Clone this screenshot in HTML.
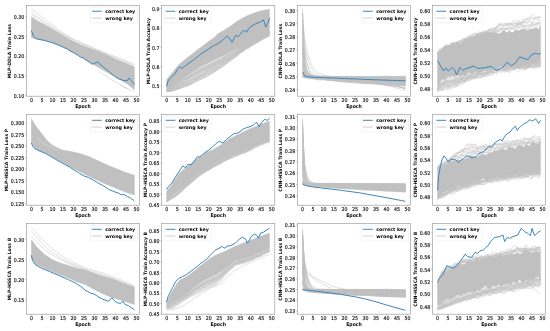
<!DOCTYPE html>
<html><head><meta charset="utf-8"><style>
html,body{margin:0;padding:0;background:#fff;overflow:hidden}
svg{display:block;filter:blur(0.3px)}
.t{font-family:"DejaVu Sans","Liberation Sans",sans-serif;font-size:4.75px;fill:#111;stroke:#111;stroke-width:0.12px}
.l{font-family:"DejaVu Sans","Liberation Sans",sans-serif;font-size:4.62px;font-weight:bold;fill:#000}
.lg{font-family:"DejaVu Sans","Liberation Sans",sans-serif;font-size:4.75px;font-weight:bold;fill:#000}
</style></head><body>
<svg width="550" height="331" viewBox="0 0 550 331">
<defs><clipPath id="c0"><rect x="26.35" y="5.45" width="113.20" height="90.65"/></clipPath><clipPath id="c1"><rect x="161.60" y="5.45" width="113.20" height="90.65"/></clipPath><clipPath id="c2"><rect x="297.40" y="5.45" width="113.20" height="90.65"/></clipPath><clipPath id="c3"><rect x="432.40" y="5.45" width="113.20" height="90.65"/></clipPath><clipPath id="c4"><rect x="26.35" y="114.50" width="113.20" height="90.65"/></clipPath><clipPath id="c5"><rect x="161.60" y="114.50" width="113.20" height="90.65"/></clipPath><clipPath id="c6"><rect x="297.40" y="114.50" width="113.20" height="90.65"/></clipPath><clipPath id="c7"><rect x="432.40" y="114.50" width="113.20" height="90.65"/></clipPath><clipPath id="c8"><rect x="26.35" y="223.50" width="113.20" height="90.65"/></clipPath><clipPath id="c9"><rect x="161.60" y="223.50" width="113.20" height="90.65"/></clipPath><clipPath id="c10"><rect x="297.40" y="223.50" width="113.20" height="90.65"/></clipPath><clipPath id="c11"><rect x="432.40" y="223.50" width="113.20" height="90.65"/></clipPath></defs>
<rect width="550" height="331" fill="#fff"/>
<g clip-path="url(#c0)">
<path d="M31.4 16.8 37.4 20.7 43.7 23.9 51.6 28.6 59.4 33.3 70 39.5 80.3 44.2 90.5 48.3 100 51.8 110.7 56.4 116.2 59.2 126.4 63.3 134.4 66.8 134.4 89.5 126.4 83.5 118.6 79 110.7 74.5 103 70 95 65.5 90 63 86 60.3 80 56.3 73 52.5 67.3 49.3 59.4 45.4 51.6 42.3 44.1 40.6 37.4 39.4 34 38.5 31.4 37.5Z" fill="#c0c0c0" stroke="#c0c0c0" stroke-width="0.4"/>
<path d="M31.5 29.8 33.6 30.9 35.7 31.8 37.8 32.8 39.9 33.3 42 34.3 44.1 35.1 46.2 35.5 48.3 36.5 50.4 37.2 52.5 38.3 54.6 39 56.7 40.1 58.8 41.3 60.9 42.6 63 43.7 65.1 44.3 67.2 45.4 69.3 46.8 71.4 47.5 73.5 48.9 75.6 50.2 77.7 51.6 79.8 52.6 81.9 53.6 84 54.9 86.1 56.2 88.2 58 90.3 58.8 92.4 59.9 94.5 61 96.6 62 98.7 63.3 100.8 64.2 102.9 65.7 105 66.9 107.1 68.4 109.2 69.6 111.3 70.7 113.4 72.2 115.5 73.2 117.6 74.7 119.7 75.8 121.8 77.1 123.9 78.1 126 79.7 128.1 80.8 130.2 82.5 132.3 84.5 134.4 85.9 M31.5 27.6 33.6 28.7 35.7 29.6 37.8 30.8 39.9 32.1 42 32.4 44.1 33.2 46.2 34.5 48.3 35.5 50.4 35.8 52.5 37.1 54.6 38 56.7 38.9 58.8 40.4 60.9 41.5 63 42.7 65.1 43.8 67.2 45.2 69.3 46.2 71.4 47.4 73.5 48.3 75.6 49.5 77.7 51 79.8 51.8 81.9 53.2 84 54.5 86.1 55.7 88.2 57.1 90.3 58.6 92.4 59.4 94.5 60.6 96.6 61.9 98.7 63.4 100.8 64.5 102.9 65.6 105 66.6 107.1 67.8 109.2 69.5 111.3 70.8 113.4 71.8 115.5 73.2 117.6 74.5 119.7 75.9 121.8 77.1 123.9 78.2 126 79.9 128.1 80.9 130.2 82.9 132.3 84.4 134.4 86.2 M31.5 36.9 33.6 37.3 35.7 38 37.8 38.4 39.9 38.8 42 39.4 44.1 39.6 46.2 39.8 48.3 40.1 50.4 40.9 52.5 41.3 54.6 42.5 56.7 42.8 58.8 43.7 60.9 44.7 63 45.4 65.1 46.9 67.2 47.9 69.3 48.7 71.4 50.1 73.5 51.1 75.6 51.5 77.7 53.2 79.8 54.1 81.9 55.5 84 56.5 86.1 58 88.2 59.4 90.3 61.1 92.4 61.8 94.5 62.8 96.6 64.2 98.7 64.8 100.8 65.9 102.9 66.7 105 68.6 107.1 69.6 109.2 70.7 111.3 71.8 113.4 72.9 115.5 74.1 117.6 75 119.7 76 121.8 77.1 123.9 78.2 126 79.1 128.1 80.5 130.2 81.8 132.3 83.2 134.4 85 M31.5 28.1 33.6 29 35.7 30 37.8 31.1 39.9 31.5 42 32 44.1 32.3 46.2 33.5 48.3 33.8 50.4 34.6 52.5 35.9 54.6 37 56.7 37.7 58.8 38.5 60.9 39.9 63 40.9 65.1 42.3 67.2 43.7 69.3 44.5 71.4 45.3 73.5 46.2 75.6 47.6 77.7 48.6 79.8 49.4 81.9 50.6 84 51.5 86.1 52.9 88.2 53.8 90.3 55 92.4 55.5 94.5 56.6 96.6 57.5 98.7 58.3 100.8 59.3 102.9 60.2 105 61.2 107.1 62.6 109.2 63.2 111.3 64.3 113.4 65.7 115.5 66.2 117.6 67.3 119.7 68.4 121.8 69.4 123.9 70.2 126 71.3 128.1 72.3 130.2 73.1 132.3 74.3 134.4 75.7 M31.5 31.4 33.6 32.1 35.7 33 37.8 34.1 39.9 35 42 35 44.1 35.9 46.2 36.7 48.3 37.5 50.4 38.5 52.5 39.1 54.6 40 56.7 41.2 58.8 42 60.9 43.2 63 44.1 65.1 45.2 67.2 46.2 69.3 48.1 71.4 48.8 73.5 50 75.6 51.1 77.7 52.2 79.8 53.3 81.9 54.9 84 55.5 86.1 56.7 88.2 58.2 90.3 59.3 92.4 60.8 94.5 61.8 96.6 62.5 98.7 63.6 100.8 64.9 102.9 66.5 105 66.8 107.1 68.7 109.2 69.6 111.3 71.2 113.4 72 115.5 73.4 117.6 74.4 119.7 75.7 121.8 77.3 123.9 78.4 126 79.4 128.1 80.8 130.2 82 132.3 83.9 134.4 85.3 M31.5 30.1 33.6 30.9 35.7 31.6 37.8 32 39.9 33 42 33.7 44.1 34.1 46.2 34.6 48.3 34.9 50.4 36.1 52.5 36.6 54.6 37 56.7 38.6 58.8 39.1 60.9 40.2 63 41.3 65.1 42.7 67.2 43.4 69.3 44.6 71.4 45.9 73.5 46.8 75.6 47.4 77.7 48.3 79.8 49 81.9 50 84 51.2 86.1 52.2 88.2 53 90.3 54.1 92.4 54.5 94.5 55.4 96.6 56.4 98.7 57.1 100.8 58 102.9 58.7 105 59.4 107.1 60.4 109.2 61 111.3 61.8 113.4 63.2 115.5 64 117.6 64.9 119.7 65.4 121.8 66.3 123.9 67.1 126 67.9 128.1 68.5 130.2 69.9 132.3 71 134.4 71.8 M31.5 31.9 33.6 32.4 35.7 32.6 37.8 33.2 39.9 33.9 42 34.1 44.1 34.5 46.2 35.3 48.3 36 50.4 36.4 52.5 36.9 54.6 37.8 56.7 39.2 58.8 39.9 60.9 41 63 42 65.1 43.1 67.2 44 69.3 45.2 71.4 46.1 73.5 47 75.6 47.8 77.7 49.1 79.8 49.8 81.9 50.7 84 51.6 86.1 52.5 88.2 53.6 90.3 53.9 92.4 54.6 94.5 55.5 96.6 56.9 98.7 57.3 100.8 57.8 102.9 58.8 105 59.9 107.1 60.3 109.2 61 111.3 62.1 113.4 62.8 115.5 63.7 117.6 64.3 119.7 65.5 121.8 66.1 123.9 66.5 126 67.2 128.1 67.5 130.2 68.8 132.3 69.3 134.4 70.3 M31.5 23.7 33.6 24.8 35.7 26.1 37.8 26.6 39.9 27.5 42 28.2 44.1 29.2 46.2 29.6 48.3 30.8 50.4 31.9 52.5 33.3 54.6 34.4 56.7 35.5 58.8 36 60.9 37.5 63 38.4 65.1 39.4 67.2 40.7 69.3 41.6 71.4 42.3 73.5 43.7 75.6 44.4 77.7 45.5 79.8 46.7 81.9 47.6 84 48.8 86.1 49.3 88.2 49.9 90.3 51.2 92.4 52.1 94.5 52.9 96.6 54.1 98.7 54.7 100.8 55.4 102.9 56.8 105 57.6 107.1 58.6 109.2 59.5 111.3 60.5 113.4 61.4 115.5 62.6 117.6 63.4 119.7 64.4 121.8 65.2 123.9 65.7 126 66.9 128.1 67.9 130.2 68.9 132.3 69.5 134.4 71.2 M31.5 29.5 33.6 30.6 35.7 31.4 37.8 32 39.9 32.8 42 33 44.1 33.7 46.2 33.9 48.3 35 50.4 36 52.5 36.7 54.6 37.4 56.7 38.3 58.8 39.5 60.9 40 63 41.1 65.1 42.2 67.2 43.3 69.3 44 71.4 45.1 73.5 45.9 75.6 46.8 77.7 47.6 79.8 48.3 81.9 49.5 84 50.6 86.1 51 88.2 52.1 90.3 53.2 92.4 53.7 94.5 54.7 96.6 55.1 98.7 56.4 100.8 57.4 102.9 58.1 105 58.4 107.1 59.5 109.2 60.3 111.3 61.2 113.4 62.4 115.5 62.8 117.6 64.1 119.7 64.6 121.8 65.8 123.9 66.4 126 66.9 128.1 68 130.2 68.9 132.3 69.7 134.4 70.6 M31.5 17.9 33.6 19.9 35.7 20.9 37.8 23.1 39.9 24.2 42 25.8 44.1 26.9 46.2 28.1 48.3 29.9 50.4 30.9 52.5 32.4 54.6 33.6 56.7 35.2 58.8 36.8 60.9 38.3 63 39.4 65.1 41 67.2 42.2 69.3 43.7 71.4 45.1 73.5 46.5 75.6 47.5 77.7 48.8 79.8 50.1 81.9 51.5 84 52.7 86.1 54.4 88.2 55.6 90.3 57.2 92.4 58.1 94.5 59.6 96.6 61 98.7 62.2 100.8 64.1 102.9 65.3 105 67.1 107.1 68.5 109.2 69.6 111.3 71.2 113.4 72.9 115.5 74.5 117.6 76.1 119.7 77.4 121.8 78.6 123.9 80.5 126 81.7 128.1 84.1 130.2 85.8 132.3 87.8 134.4 90" fill="none" stroke="#c2c2c2" stroke-width="0.5"/>
<path d="M31.4 8.9 43.7 18.4 59.4 30.2 73 38.8 95 48.5 115 56.5 134.4 64.5" fill="none" stroke="#c0c0c0" stroke-width="0.5"/>
<path d="M31.4 12.5 43.7 21 59.4 31.8 73 39.6 95 49.2 134.4 65.5" fill="none" stroke="#c0c0c0" stroke-width="0.5"/>
<path d="M31.4 14.5 43.7 22.5 59.4 32.5 73 40" fill="none" stroke="#c0c0c0" stroke-width="0.5"/>
<path d="M99 71.5 101.3 73.3 112 80 123.3 86.7 128 88.5" fill="none" stroke="#c0c0c0" stroke-width="0.5"/>
<path d="M120 85 124.9 87.5 134.4 91.6" fill="none" stroke="#c0c0c0" stroke-width="0.5"/>
<path d="M31.4 30.4 33.5 36.3 35.6 38.3 37.4 39 44.1 40.3 53.2 43 62.2 46.7 67.3 49 70 50.8 74.1 52.9 78.2 55.5 80.3 57 83.3 58 86.4 60.1 89.5 62.1 92.1 64.2 94.6 63.2 97.7 61.8 99.8 64.2 102.9 66.6 105 68.4 109.2 71.7 113.9 75.7 118.6 78.8 123.3 80.4 127.2 80.8 128.8 78 131.2 80.4 134.3 84.5" fill="none" stroke="#3b87bd" stroke-width="1.0" stroke-linejoin="round"/>
</g>
<rect x="26.4" y="5.5" width="113.2" height="90.7" fill="none" stroke="#999" stroke-width="0.65"/>
<text transform="translate(31.50 102.25) scale(1 1.1)" text-anchor="middle" class="t">0</text>
<text transform="translate(42.00 102.25) scale(1 1.1)" text-anchor="middle" class="t">5</text>
<text transform="translate(52.50 102.25) scale(1 1.1)" text-anchor="middle" class="t">10</text>
<text transform="translate(63.00 102.25) scale(1 1.1)" text-anchor="middle" class="t">15</text>
<text transform="translate(73.50 102.25) scale(1 1.1)" text-anchor="middle" class="t">20</text>
<text transform="translate(84.00 102.25) scale(1 1.1)" text-anchor="middle" class="t">25</text>
<text transform="translate(94.50 102.25) scale(1 1.1)" text-anchor="middle" class="t">30</text>
<text transform="translate(105.00 102.25) scale(1 1.1)" text-anchor="middle" class="t">35</text>
<text transform="translate(115.50 102.25) scale(1 1.1)" text-anchor="middle" class="t">40</text>
<text transform="translate(126.00 102.25) scale(1 1.1)" text-anchor="middle" class="t">45</text>
<text transform="translate(136.50 102.25) scale(1 1.1)" text-anchor="middle" class="t">50</text>
<text transform="translate(24.25 97.60) scale(1 1.1)" text-anchor="end" class="t">0.10</text>
<text transform="translate(24.25 78.00) scale(1 1.1)" text-anchor="end" class="t">0.15</text>
<text transform="translate(24.25 58.40) scale(1 1.1)" text-anchor="end" class="t">0.20</text>
<text transform="translate(24.25 38.80) scale(1 1.1)" text-anchor="end" class="t">0.25</text>
<text transform="translate(24.25 19.20) scale(1 1.1)" text-anchor="end" class="t">0.30</text>
<path d="M31.50 96.10v1.1M42.00 96.10v1.1M52.50 96.10v1.1M63.00 96.10v1.1M73.50 96.10v1.1M84.00 96.10v1.1M94.50 96.10v1.1M105.00 96.10v1.1M115.50 96.10v1.1M126.00 96.10v1.1M136.50 96.10v1.1M26.35 95.40h-1.1M26.35 75.80h-1.1M26.35 56.20h-1.1M26.35 36.60h-1.1M26.35 17.00h-1.1" stroke="#777" stroke-width="0.5" fill="none"/>
<text transform="translate(82.95 107.65) scale(1 1.1)" text-anchor="middle" class="l">Epoch</text>
<text transform="translate(11.30 51.18) rotate(-90)" text-anchor="middle" class="l">MLP-DDLA Train Loss</text>
<rect x="90.55" y="7.25" width="47.00" height="15.6" rx="1" fill="#fff" fill-opacity="0.8" stroke="#e0e0e0" stroke-width="0.4"/>
<path d="M91.95 11.25h9.8" stroke="#3b87bd" stroke-width="1.0"/>
<path d="M91.95 18.05h9.8" stroke="#c8c8c8" stroke-width="0.85"/>
<text x="105.15" y="12.95" class="lg">correct key</text>
<text x="105.15" y="19.75" class="lg">wrong key</text>
<g clip-path="url(#c1)">
<path d="M166.6 90.3 172.3 86.6 179.8 81 189.1 74.4 200 67 215.1 59.6 230.2 52.1 250 44.5 262 37 269.5 33 269.5 35 260 40 250 46 240 53.3 229.8 61.6 221 68 213.2 73 205 77.5 196.6 81.5 189.1 85.5 179.8 88.5 172.3 91 166.6 91.5Z" fill="#e2e2e2"/>
<path d="M166.7 79.5 179.1 64.2 188.2 56.9 197.2 50 204.5 44.5 209.1 40.9 213.6 38.1 218.1 33.6 222.7 30.9 227.2 28.2 230 26.5 236 22 242.1 18.3 248.1 15.3 254.2 12.9 260.2 11 266.3 9.8 269.5 9.2 269.5 33 262 37 250 44.5 230.2 52.1 215.1 59.6 200 67 189.1 74.4 179.8 81 172.3 86.6 166.6 90.3Z" fill="#c0c0c0" stroke="#c0c0c0" stroke-width="0.4"/>
<path d="M166.7 90.5 168.8 89.2 170.9 87.3 173 85.8 175.1 84.8 177.2 82.9 179.3 82.4 181.4 79.7 183.5 78.8 185.6 77.7 187.7 76.4 189.8 75.2 191.9 74.1 194 72.6 196.1 71.7 198.2 69.2 200.3 68.7 202.4 67.4 204.5 66.7 206.6 65.7 208.7 64.6 210.8 63.4 212.9 62.7 215 61.6 217.1 60.2 219.3 59.8 221.4 58.8 223.5 56.4 225.6 55.8 227.7 55.6 229.8 54.1 231.9 52.8 234 51.6 236.1 50.5 238.2 49.7 240.3 48.5 242.4 47.9 244.5 46.7 246.6 45.8 248.7 44.6 250.8 43.8 252.9 42 255 40.8 257.1 39.6 259.2 38.2 261.3 36.9 263.4 35.7 265.5 34.8 267.6 33.7 269.7 32.5 M166.7 90.2 168.8 89.4 170.9 89.1 173 86.7 175.1 85.8 177.2 84.7 179.3 83 181.4 81.7 183.5 80.5 185.6 78.9 187.7 77.5 189.8 75.4 191.9 74.5 194 73 196.1 71.8 198.2 70.4 200.3 69.1 202.4 68.4 204.5 66.9 206.6 66.2 208.7 65.3 210.8 64.5 212.9 63.6 215 62.1 217.1 60.9 219.3 60.2 221.4 58.3 223.5 57.5 225.6 56.1 227.7 54.8 229.8 53.2 231.9 52.5 234 52 236.1 51.2 238.2 50.3 240.3 49 242.4 48.1 244.5 47.1 246.6 46.5 248.7 45.3 250.8 44.3 252.9 43.2 255 41.4 257.1 39.7 259.2 38.4 261.3 36.9 263.4 35.8 265.5 35.5 267.6 33.9 269.7 32.4 M166.7 91.1 168.8 90.3 170.9 89.6 173 88.4 175.1 87 177.2 86 179.3 85.2 181.4 84.2 183.5 83.4 185.6 81.9 187.7 80.7 189.8 79.5 191.9 77.8 194 75.8 196.1 74.6 198.2 73.1 200.3 72.5 202.4 70.8 204.5 70.4 206.6 69 208.7 68.3 210.8 67 212.9 65.5 215 63.9 217.1 62.7 219.3 61.4 221.4 59.8 223.5 58.7 225.6 58.1 227.7 55.8 229.8 55 231.9 53.7 234 52.9 236.1 51.9 238.2 50.6 240.3 49.9 242.4 48.1 244.5 48 246.6 46.5 248.7 45.8 250.8 44.6 252.9 42.6 255 41.7 257.1 40.7 259.2 39.8 261.3 38.5 263.4 37.2 265.5 35.7 267.6 35.4 269.7 34.4 M166.7 90.1 168.8 89.3 170.9 88.8 173 86.5 175.1 86.8 177.2 84.4 179.3 83.7 181.4 82.7 183.5 81.3 185.6 79.9 187.7 78.5 189.8 78 191.9 76.5 194 74.8 196.1 75.2 198.2 73.3 200.3 72.6 202.4 70.9 204.5 70.7 206.6 69.7 208.7 68.7 210.8 67.1 212.9 65.7 215 64.9 217.1 63.3 219.3 62.4 221.4 62.2 223.5 60.6 225.6 59.6 227.7 58.5 229.8 57.9 231.9 56.5 234 55 236.1 54.1 238.2 52.1 240.3 50.7 242.4 49.9 244.5 48.1 246.6 46.9 248.7 45.2 250.8 44.4 252.9 43.7 255 41.6 257.1 40.7 259.2 39.2 261.3 37.8 263.4 36.6 265.5 36.4 267.6 35.5 269.7 33.7 M166.7 91.5 168.8 91.2 170.9 90.9 173 90.8 175.1 90 177.2 88.8 179.3 88 181.4 87.4 183.5 86.4 185.6 85.6 187.7 85.2 189.8 83.5 191.9 81.9 194 80.5 196.1 79 198.2 77.9 200.3 76.5 202.4 75.5 204.5 74.2 206.6 73.5 208.7 72.1 210.8 71.1 212.9 69.5 215 69.2 217.1 67.3 219.3 66.5 221.4 64.7 223.5 63.1 225.6 61.5 227.7 60.5 229.8 59.5 231.9 56.8 234 56.1 236.1 54.8 238.2 52.8 240.3 51.3 242.4 50.3 244.5 48.4 246.6 47.6 248.7 45.9 250.8 45 252.9 43.6 255 42.5 257.1 41.1 259.2 39.7 261.3 38.1 263.4 37.8 265.5 36.5 267.6 35.3 269.7 33.7 M166.7 90.9 168.8 90.4 170.9 90.8 173 90.2 175.1 89.3 177.2 88.8 179.3 87.7 181.4 86.6 183.5 86.5 185.6 84.9 187.7 83.6 189.8 83 191.9 81.6 194 79.8 196.1 78.8 198.2 77.3 200.3 75.7 202.4 75 204.5 73.9 206.6 72.4 208.7 70.9 210.8 70 212.9 68.5 215 67.2 217.1 65.3 219.3 64.5 221.4 62.7 223.5 61.4 225.6 60.3 227.7 58.5 229.8 57.1 231.9 56.4 234 54.6 236.1 53.2 238.2 52 240.3 51.1 242.4 49.1 244.5 48.3 246.6 47.1 248.7 45.9 250.8 44.7 252.9 43.7 255 42.7 257.1 40.9 259.2 39.8 261.3 38.7 263.4 37.3 265.5 36.4 267.6 35.6 269.7 34.2 M166.7 90.1 168.8 89.3 170.9 88.7 173 87.8 175.1 86.4 177.2 85.3 179.3 83.5 181.4 82.9 183.5 81.1 185.6 80 187.7 78.7 189.8 77 191.9 75.8 194 74.5 196.1 73.3 198.2 72 200.3 70.6 202.4 69.1 204.5 68.1 206.6 67.1 208.7 66.4 210.8 64.6 212.9 64.5 215 62.9 217.1 61.4 219.3 60.5 221.4 59.5 223.5 58 225.6 56.7 227.7 55.3 229.8 54.4 231.9 53.2 234 51.8 236.1 51.2 238.2 49.8 240.3 48.7 242.4 47.3 244.5 46.6 246.6 46 248.7 44.4 250.8 43.9 252.9 42.4 255 41 257.1 39.1 259.2 38.3 261.3 37.4 263.4 35.9 265.5 34.9 267.6 33.1 269.7 32.8 M166.7 91 168.8 90.6 170.9 90.8 173 89.8 175.1 88.6 177.2 88.6 179.3 87.5 181.4 86.7 183.5 85.5 185.6 84.7 187.7 83.7 189.8 83.2 191.9 82.4 194 80.3 196.1 79.7 198.2 78.2 200.3 77.2 202.4 76.8 204.5 75.6 206.6 73.9 208.7 73.7 210.8 71.6 212.9 70.6 215 69.3 217.1 68.3 219.3 66.7 221.4 65.8 223.5 63.7 225.6 62.9 227.7 61.1 229.8 59.8 231.9 58.8 234 56.8 236.1 55.4 238.2 54.5 240.3 52.3 242.4 50.7 244.5 49.8 246.6 47.8 248.7 47.1 250.8 45.7 252.9 43.9 255 42.6 257.1 41.7 259.2 40.5 261.3 38.8 263.4 38.1 265.5 36.3 267.6 35.8 269.7 34.9 M166.7 89.4 168.8 89.1 170.9 87.8 173 86.2 175.1 84.4 177.2 83.7 179.3 82 181.4 80.9 183.5 79.8 185.6 78.1 187.7 77.5 189.8 76.2 191.9 75.1 194 73.7 196.1 72.7 198.2 72 200.3 70.8 202.4 69.9 204.5 69.2 206.6 68.6 208.7 67.5 210.8 66.8 212.9 66.1 215 65 217.1 64.2 219.3 63.1 221.4 62.9 223.5 61.8 225.6 60.4 227.7 59.2 229.8 58.7 231.9 57 234 55.9 236.1 54.8 238.2 53.4 240.3 52.4 242.4 50.8 244.5 50.5 246.6 48.4 248.7 47.7 250.8 45.8 252.9 45.5 255 43.7 257.1 42.7 259.2 41.7 261.3 40.7 263.4 38.9 265.5 37.9 267.6 36.5 269.7 36 M166.7 91.3 168.8 90.1 170.9 89.6 173 88.6 175.1 88.2 177.2 87 179.3 86.8 181.4 85.1 183.5 83.6 185.6 83 187.7 82.3 189.8 80.8 191.9 79.9 194 78.9 196.1 77.9 198.2 76.7 200.3 75.5 202.4 74.8 204.5 73.6 206.6 72.6 208.7 71.3 210.8 70.5 212.9 70 215 68 217.1 67.2 219.3 66.4 221.4 65 223.5 63.7 225.6 61.8 227.7 61.1 229.8 59.6 231.9 57.7 234 55.6 236.1 54.1 238.2 53.1 240.3 51.9 242.4 50 244.5 48.9 246.6 47 248.7 45.9 250.8 44.5 252.9 43.4 255 41.5 257.1 41.1 259.2 40.1 261.3 38 263.4 36.9 265.5 36.4 267.6 35 269.7 33.7 M166.7 90.4 168.8 89 170.9 88.8 173 86.6 175.1 84.8 177.2 83.9 179.3 82.5 181.4 81.9 183.5 79.9 185.6 78.7 187.7 77.9 189.8 77.1 191.9 75.5 194 74.6 196.1 73.3 198.2 72.1 200.3 71.1 202.4 70.4 204.5 69.1 206.6 68.8 208.7 66.9 210.8 66.7 212.9 65.8 215 64.7 217.1 63.4 219.3 62.5 221.4 61.6 223.5 60.5 225.6 59.1 227.7 58.2 229.8 56.4 231.9 55.5 234 53.8 236.1 53.3 238.2 51.8 240.3 50.3 242.4 49.9 244.5 48.4 246.6 46.4 248.7 46.2 250.8 44.5 252.9 43.8 255 43.1 257.1 41.1 259.2 39.9 261.3 38.6 263.4 37.8 265.5 36.8 267.6 36.2 269.7 34.4 M166.7 91.3 168.8 91.4 170.9 91.6 173 90.4 175.1 89.7 177.2 88.7 179.3 88.5 181.4 87.3 183.5 86.4 185.6 85.6 187.7 84.9 189.8 84.7 191.9 84.2 194 82.2 196.1 81.7 198.2 80.5 200.3 79.2 202.4 78.6 204.5 77.4 206.6 76.3 208.7 75.9 210.8 73.6 212.9 73 215 71.4 217.1 69.8 219.3 68.6 221.4 67.5 223.5 65.6 225.6 64.4 227.7 63 229.8 60.7 231.9 60 234 58.5 236.1 56.3 238.2 54.6 240.3 52.3 242.4 51.1 244.5 49.3 246.6 47.8 248.7 46.7 250.8 44.8 252.9 44 255 42.2 257.1 41.5 259.2 40.1 261.3 38.5 263.4 37.2 265.5 36.9 267.6 34.8 269.7 33.8 M166.7 90.4 168.8 89.6 170.9 88.1 173 86.4 175.1 85.9 177.2 84.3 179.3 82.6 181.4 81.8 183.5 80.1 185.6 79.5 187.7 77.9 189.8 76.6 191.9 75.3 194 74.1 196.1 73.1 198.2 71.7 200.3 70.5 202.4 69.4 204.5 67.4 206.6 67.4 208.7 65.8 210.8 65.6 212.9 65.2 215 64 217.1 62.9 219.3 61.9 221.4 60.8 223.5 59.6 225.6 58.4 227.7 57 229.8 56.5 231.9 55.1 234 54.2 236.1 52.8 238.2 51.7 240.3 50.7 242.4 49.8 244.5 48.9 246.6 47.6 248.7 46.2 250.8 45 252.9 44.4 255 42.6 257.1 41.4 259.2 40.8 261.3 39.3 263.4 37.9 265.5 36.5 267.6 36.2 269.7 34.6 M166.7 91 168.8 89.6 170.9 89.3 173 88.7 175.1 87.5 177.2 86.2 179.3 85.5 181.4 84.1 183.5 83.1 185.6 81.9 187.7 81.2 189.8 80.1 191.9 79.1 194 77.9 196.1 76.4 198.2 74.5 200.3 73 202.4 72.3 204.5 71.4 206.6 70.2 208.7 68.9 210.8 68.2 212.9 67.7 215 65.7 217.1 64.5 219.3 63.2 221.4 60.9 223.5 60.6 225.6 59.1 227.7 58.5 229.8 56.5 231.9 55.1 234 53.9 236.1 52.8 238.2 51.3 240.3 50.2 242.4 48.6 244.5 47.9 246.6 47.1 248.7 46.3 250.8 44.7 252.9 43.2 255 42.3 257.1 40.9 259.2 39.8 261.3 38.3 263.4 36.6 265.5 35.7 267.6 34.5 269.7 33.5 M166.7 91.2 168.8 90.1 170.9 88.9 173 88.4 175.1 87.2 177.2 87 179.3 85.6 181.4 84.1 183.5 83.9 185.6 82.9 187.7 82.9 189.8 80.8 191.9 79.4 194 79 196.1 77.8 198.2 76.7 200.3 75.1 202.4 74.8 204.5 74.1 206.6 71.9 208.7 71.7 210.8 70 212.9 69.6 215 68 217.1 66.5 219.3 65.8 221.4 64.1 223.5 62.3 225.6 61.3 227.7 59.6 229.8 57.7 231.9 57.5 234 55.4 236.1 53.8 238.2 52.6 240.3 50.7 242.4 49.4 244.5 48.4 246.6 47.1 248.7 45.9 250.8 44.9 252.9 43.2 255 42.4 257.1 41.3 259.2 39.6 261.3 38.9 263.4 37.4 265.5 37.1 267.6 35.8 269.7 34.4 M166.7 91.2 168.8 91 170.9 90.6 173 89.4 175.1 88.9 177.2 88.2 179.3 87.5 181.4 86.3 183.5 85.3 185.6 85.1 187.7 84.3 189.8 83 191.9 81.4 194 80.5 196.1 79.4 198.2 78.7 200.3 77 202.4 76.5 204.5 75.4 206.6 74.1 208.7 73.5 210.8 72.3 212.9 71.3 215 70.3 217.1 68.3 219.3 67.6 221.4 66.4 223.5 64.9 225.6 63.3 227.7 61.3 229.8 59.9 231.9 59 234 57.7 236.1 56.9 238.2 54.9 240.3 53.1 242.4 52.1 244.5 50.2 246.6 48.7 248.7 48.6 250.8 46.5 252.9 45.4 255 44 257.1 43 259.2 41.3 261.3 40.4 263.4 38.4 265.5 37 267.6 37 269.7 35.8 M166.7 90.2 168.8 89.5 170.9 88.4 173 87.1 175.1 86.3 177.2 84.4 179.3 83.6 181.4 82.1 183.5 80.9 185.6 79.9 187.7 78.3 189.8 78.3 191.9 76.2 194 75.7 196.1 73.6 198.2 73 200.3 71.4 202.4 70.2 204.5 69.8 206.6 68.8 208.7 67.2 210.8 67 212.9 65.4 215 64.7 217.1 64.1 219.3 63.2 221.4 61.5 223.5 61.2 225.6 59.7 227.7 58.1 229.8 56.7 231.9 55.2 234 54.1 236.1 53.5 238.2 52 240.3 50.4 242.4 49.3 244.5 48.9 246.6 47.2 248.7 46.2 250.8 45.7 252.9 44.1 255 42.8 257.1 41.1 259.2 39.9 261.3 38.9 263.4 37.9 265.5 36.8 267.6 35.9 269.7 34.7 M166.7 90.4 168.8 89.4 170.9 87.8 173 86.5 175.1 85.6 177.2 84.4 179.3 82.1 181.4 80.3 183.5 79.3 185.6 78.2 187.7 77.1 189.8 76.1 191.9 74.5 194 72.9 196.1 71.8 198.2 70.4 200.3 69.3 202.4 68.2 204.5 68.4 206.6 67 208.7 65.3 210.8 64.4 212.9 63.6 215 62.1 217.1 61.2 219.3 60.1 221.4 59.5 223.5 57.9 225.6 56.8 227.7 55.3 229.8 54.1 231.9 53.4 234 52.4 236.1 51.9 238.2 50.2 240.3 49.8 242.4 48.6 244.5 47.8 246.6 46 248.7 45.2 250.8 44.7 252.9 43.4 255 41.7 257.1 40.7 259.2 39 261.3 37.6 263.4 36.5 265.5 36 267.6 34.8 269.7 33.5 M166.7 90.4 168.8 89.7 170.9 89.4 173 87.7 175.1 86.7 177.2 85.8 179.3 84.1 181.4 83.6 183.5 82.2 185.6 80.2 187.7 79.3 189.8 77.5 191.9 76.2 194 74.8 196.1 73.2 198.2 72.3 200.3 70.3 202.4 69.7 204.5 68.3 206.6 67.5 208.7 66.1 210.8 65 212.9 63.8 215 63 217.1 62 219.3 61.2 221.4 59.7 223.5 58.1 225.6 56.7 227.7 55.7 229.8 54.4 231.9 53.7 234 52.5 236.1 51 238.2 49.8 240.3 49.4 242.4 48.3 244.5 46.9 246.6 46.3 248.7 45 250.8 43.8 252.9 42.7 255 40.6 257.1 40.3 259.2 38.6 261.3 37.6 263.4 36.3 265.5 35.6 267.6 34.1 269.7 33.2 M166.7 91.1 168.8 91 170.9 91.1 173 90.6 175.1 89.9 177.2 89.5 179.3 88.5 181.4 87.9 183.5 86.4 185.6 85.7 187.7 85.7 189.8 83.9 191.9 83.1 194 82 196.1 80.8 198.2 79.7 200.3 79 202.4 76.6 204.5 76.7 206.6 76 208.7 73.9 210.8 72.7 212.9 71.7 215 70.4 217.1 67.9 219.3 66.7 221.4 65.2 223.5 64 225.6 62.3 227.7 61 229.8 59.3 231.9 57.6 234 55.8 236.1 54.2 238.2 52.6 240.3 51.1 242.4 49.4 244.5 48.8 246.6 46.8 248.7 45 250.8 44.7 252.9 42.7 255 41.6 257.1 40.2 259.2 39.1 261.3 37.9 263.4 36.4 265.5 35.5 267.6 34.9 269.7 32.5 M166.7 90.9 168.8 89.7 170.9 89.3 173 89.3 175.1 88.3 177.2 87.2 179.3 86 181.4 85.2 183.5 84.2 185.6 83.3 187.7 82.2 189.8 82 191.9 80.2 194 78.8 196.1 77.4 198.2 76.3 200.3 75.5 202.4 74.5 204.5 73.1 206.6 72 208.7 70.7 210.8 69.3 212.9 68.9 215 67.5 217.1 66.9 219.3 65 221.4 63.9 223.5 63.2 225.6 61.7 227.7 60 229.8 58.8 231.9 57.4 234 56.1 236.1 54.7 238.2 53.9 240.3 52.4 242.4 51.2 244.5 49.9 246.6 48.7 248.7 47.4 250.8 46.3 252.9 44.7 255 43.6 257.1 42.1 259.2 40.3 261.3 39.3 263.4 38.8 265.5 37.7 267.6 37 269.7 35.7 M166.7 91.4 168.8 90.7 170.9 90.4 173 89.6 175.1 88.3 177.2 87.3 179.3 86.8 181.4 85.3 183.5 84.3 185.6 83 187.7 82 189.8 80.6 191.9 79.5 194 78.2 196.1 76.2 198.2 75.7 200.3 74.6 202.4 73.4 204.5 71.9 206.6 71.2 208.7 69.3 210.8 67.9 212.9 66.8 215 65.8 217.1 65 219.3 63.8 221.4 62.3 223.5 60.6 225.6 59.4 227.7 58 229.8 57 231.9 55.2 234 54.6 236.1 53.8 238.2 52.4 240.3 51.3 242.4 49.7 244.5 48.3 246.6 47.6 248.7 47.1 250.8 45.9 252.9 44.4 255 43.9 257.1 42 259.2 41.4 261.3 39.8 263.4 38.4 265.5 37.7 267.6 36.1 269.7 35.2 M166.7 86.7 168.8 85.6 170.9 83.9 173 82.3 175.1 80.3 177.2 78.4 179.3 77.1 181.4 75.3 183.5 74 185.6 72.3 187.7 70.7 189.8 69.2 191.9 68.1 194 66.5 196.1 64.9 198.2 63.5 200.3 61.7 202.4 60.8 204.5 59.6 206.6 58.9 208.7 57.4 210.8 56 212.9 55.2 215 54 217.1 51.9 219.3 51.9 221.4 50.5 223.5 49.4 225.6 48.6 227.7 47.2 229.8 45.8 231.9 45.8 234 43.9 236.1 43.3 238.2 42.6 240.3 40.9 242.4 40.2 244.5 39.4 246.6 39.2 248.7 37.4 250.8 36.6 252.9 35.6 255 34.5 257.1 32.9 259.2 32.1 261.3 30.9 263.4 29.9 265.5 29.1 267.6 28.2 269.7 27.4 M166.7 87 168.8 85.2 170.9 83.2 173 81.3 175.1 80 177.2 77.5 179.3 75.9 181.4 74.5 183.5 72.9 185.6 72 187.7 69.3 189.8 68.6 191.9 67.2 194 65.1 196.1 63.8 198.2 62.5 200.3 61.5 202.4 59.4 204.5 58 206.6 57.5 208.7 56.5 210.8 54.8 212.9 53.2 215 52.9 217.1 51 219.3 50.1 221.4 48.6 223.5 47.4 225.6 46.3 227.7 45.5 229.8 44.4 231.9 42 234 41.4 236.1 40.8 238.2 39.1 240.3 37.5 242.4 37.1 244.5 36 246.6 35.1 248.7 34 250.8 32.9 252.9 31.6 255 30.8 257.1 29.3 259.2 28.4 261.3 27.4 263.4 26.9 265.5 25.7 267.6 24.7 269.7 24.3 M166.7 84.8 168.8 83.4 170.9 82.2 173 79.6 175.1 77.6 177.2 75.4 179.3 73 181.4 71.7 183.5 70 185.6 67.6 187.7 66.4 189.8 65.2 191.9 63.6 194 61.1 196.1 59.8 198.2 57.9 200.3 57.2 202.4 55.7 204.5 54.2 206.6 52.2 208.7 50.4 210.8 49.4 212.9 47.9 215 46.1 217.1 44.6 219.3 43.4 221.4 42.1 223.5 40.4 225.6 38.8 227.7 38 229.8 36.9 231.9 35.5 234 33.9 236.1 32.4 238.2 31.7 240.3 30.2 242.4 29.1 244.5 27.9 246.6 26.9 248.7 26.1 250.8 24.4 252.9 23.2 255 22.3 257.1 21.5 259.2 20.2 261.3 19.8 263.4 18.4 265.5 17.6 267.6 16.4 269.7 16 M166.7 80.3 168.8 78.4 170.9 75.7 173 73.7 175.1 71.1 177.2 69.8 179.3 67.5 181.4 66.2 183.5 64.1 185.6 62.7 187.7 61.9 189.8 60.1 191.9 58.9 194 57.5 196.1 55.7 198.2 55.3 200.3 53.8 202.4 52.7 204.5 51.2 206.6 50.6 208.7 49.1 210.8 48.8 212.9 47.9 215 46.6 217.1 45.6 219.3 44.6 221.4 42.7 223.5 42.9 225.6 41.9 227.7 41.2 229.8 40.4 231.9 39.3 234 38.6 236.1 38.2 238.2 37.8 240.3 36.6 242.4 35.7 244.5 35.9 246.6 34.6 248.7 35.1 250.8 33.8 252.9 32.8 255 32.6 257.1 32 259.2 30.3 261.3 30.4 263.4 29.3 265.5 29 267.6 27.8 269.7 26.7" fill="none" stroke="#c2c2c2" stroke-width="0.5"/>
<path d="M166.6 91.5 172.3 91 179.8 88.5 189.1 85.5 196.6 81.5 205 77.5 213.2 73 221 68 229.8 61.6 240 53.3 250 46 260 40 269.5 35" fill="none" stroke="#c0c0c0" stroke-width="0.5"/>
<path d="M166.7 86.6 167.6 81.9 169.4 79.1 172.3 76.3 175.1 73.5 177.9 68.8 179.8 66.9 181.6 68.4 184.5 66.5 189.1 63.1 193.8 59.8 195 58.8 199.5 55 204.1 52 208.6 49 213.1 46 217.7 43.7 222.2 40.7 225.2 37.7 227.5 36.1 229.5 38.5 232 42.2 235.8 35.4 238.3 36.7 241.4 32.5 244.6 30.4 246.7 32.1 248.8 28.3 253.1 25.1 257.3 23 260.5 21.9 263.6 19.8 265.7 27.2 267.9 23 269.5 18.1" fill="none" stroke="#3b87bd" stroke-width="1.0" stroke-linejoin="round"/>
</g>
<rect x="161.6" y="5.5" width="113.2" height="90.7" fill="none" stroke="#999" stroke-width="0.65"/>
<text transform="translate(166.75 102.25) scale(1 1.1)" text-anchor="middle" class="t">0</text>
<text transform="translate(177.25 102.25) scale(1 1.1)" text-anchor="middle" class="t">5</text>
<text transform="translate(187.75 102.25) scale(1 1.1)" text-anchor="middle" class="t">10</text>
<text transform="translate(198.25 102.25) scale(1 1.1)" text-anchor="middle" class="t">15</text>
<text transform="translate(208.75 102.25) scale(1 1.1)" text-anchor="middle" class="t">20</text>
<text transform="translate(219.25 102.25) scale(1 1.1)" text-anchor="middle" class="t">25</text>
<text transform="translate(229.75 102.25) scale(1 1.1)" text-anchor="middle" class="t">30</text>
<text transform="translate(240.25 102.25) scale(1 1.1)" text-anchor="middle" class="t">35</text>
<text transform="translate(250.75 102.25) scale(1 1.1)" text-anchor="middle" class="t">40</text>
<text transform="translate(261.25 102.25) scale(1 1.1)" text-anchor="middle" class="t">45</text>
<text transform="translate(271.75 102.25) scale(1 1.1)" text-anchor="middle" class="t">50</text>
<text transform="translate(159.50 88.30) scale(1 1.1)" text-anchor="end" class="t">0.5</text>
<text transform="translate(159.50 68.90) scale(1 1.1)" text-anchor="end" class="t">0.6</text>
<text transform="translate(159.50 49.50) scale(1 1.1)" text-anchor="end" class="t">0.7</text>
<text transform="translate(159.50 30.10) scale(1 1.1)" text-anchor="end" class="t">0.8</text>
<text transform="translate(159.50 10.70) scale(1 1.1)" text-anchor="end" class="t">0.9</text>
<path d="M166.75 96.10v1.1M177.25 96.10v1.1M187.75 96.10v1.1M198.25 96.10v1.1M208.75 96.10v1.1M219.25 96.10v1.1M229.75 96.10v1.1M240.25 96.10v1.1M250.75 96.10v1.1M261.25 96.10v1.1M271.75 96.10v1.1M161.60 86.10h-1.1M161.60 66.70h-1.1M161.60 47.30h-1.1M161.60 27.90h-1.1M161.60 8.50h-1.1" stroke="#777" stroke-width="0.5" fill="none"/>
<text transform="translate(218.20 107.65) scale(1 1.1)" text-anchor="middle" class="l">Epoch</text>
<text transform="translate(149.57 51.18) rotate(-90)" text-anchor="middle" class="l">MLP-DDLA Train Accuracy</text>
<rect x="164.20" y="7.25" width="47.00" height="15.6" rx="1" fill="#fff" fill-opacity="0.8" stroke="#e0e0e0" stroke-width="0.4"/>
<path d="M165.60 11.25h9.8" stroke="#3b87bd" stroke-width="1.0"/>
<path d="M165.60 18.05h9.8" stroke="#c8c8c8" stroke-width="0.85"/>
<text x="178.80" y="12.95" class="lg">correct key</text>
<text x="178.80" y="19.75" class="lg">wrong key</text>
<g clip-path="url(#c2)">
<path d="M303.2 76.4 405.5 76.6 405.5 85.5 303.2 78Z" fill="#c0c0c0"/>
<path d="M302.5 25.1 304.6 53.2 306.7 65.9 308.8 71.5 310.9 74.3 313 75.4 315.1 76.6 317.2 76.2 319.3 76.5 323.5 76.1 327.7 76.8 334 77.6 344.5 78.4 355.1 80.2 365.6 81.7 376.1 84 386.6 85.4 397.1 88.2 405.5 91 M302.5 19.8 304.6 37.2 306.7 49.1 308.8 57.3 310.9 63.6 313 67.7 315.1 69.9 317.2 72.4 319.3 73.3 323.5 75.2 327.7 76 334 76.7 344.5 78.1 355.1 79.3 365.6 81.2 376.1 82.9 386.6 84.5 397.1 86.5 405.5 88.6 M302.5 36.4 304.6 62.2 306.7 71.6 308.8 74.4 310.9 76.1 313 76.2 315.1 76.9 317.2 76.3 319.3 77 323.5 76.7 327.7 77.5 334 77.6 344.5 78.1 355.1 79.8 365.6 80.9 376.1 82.7 386.6 85.1 397.1 86.6 405.5 88.4 M302.5 45.3 304.6 65.4 306.7 71.7 308.8 75.3 310.9 75.7 313 76 315.1 76.9 317.2 77 319.3 76.4 323.5 76.9 327.7 76.9 334 77.1 344.5 78.3 355.1 79.6 365.6 81.4 376.1 82.1 386.6 84.3 397.1 86 405.5 87.8 M302.5 66.9 304.6 72 306.7 74.3 308.8 75.3 310.9 75.9 313 75.7 315.1 75.9 317.2 76 319.3 76.3 323.5 76 327.7 76.5 334 77.7 344.5 78.1 355.1 79.1 365.6 80.3 376.1 82.3 386.6 84.3 397.1 86.6 405.5 88.2 M302.5 30.3 304.6 59 306.7 70.3 308.8 74 310.9 76 313 76.4 315.1 76.7 317.2 76.6 319.3 76.8 323.5 77.4 327.7 77.5 334 78.2 344.5 78.3 355.1 79.8 365.6 80.9 376.1 83 386.6 85.3 397.1 86.5 405.5 88.7 M302.5 45.9 304.6 73.9 306.7 77.1 308.8 77.5 310.9 77.2 313 77.6 315.1 78.1 317.2 78.6 319.3 78.3 323.5 78.5 327.7 78.9 334 79.6 344.5 80.2 355.1 80.9 365.6 81 376.1 81.4 386.6 81.8 397.1 82.8 405.5 82.9 M302.5 76.7 304.6 77.1 306.7 77.8 308.8 77.9 310.9 78.7 313 78.5 315.1 78.4 317.2 78.4 319.3 78.8 323.5 79.4 327.7 79.9 334 80.7 344.5 81.4 355.1 82 365.6 83.1 376.1 83.3 386.6 84.5 397.1 85.3 405.5 85.6 M302.5 76.3 304.6 76.7 306.7 76.8 308.8 77.3 310.9 76.8 313 77.1 315.1 77.2 317.2 77.1 319.3 77.6 323.5 77.4 327.7 77.3 334 77.1 344.5 77.4 355.1 77.4 365.6 77.2 376.1 77.1 386.6 77.3 397.1 77.2 405.5 77.7 M302.5 70.9 304.6 73.2 306.7 74.6 308.8 75 310.9 75.2 313 76.1 315.1 76.1 317.2 76.8 319.3 76.9 323.5 77.2 327.7 77.2 334 76.9 344.5 77.9 355.1 77.4 365.6 78.3 376.1 78.3 386.6 78.2 397.1 78.4 405.5 78.6 M302.5 68.3 304.6 75.4 306.7 77.2 308.8 77.4 310.9 77.9 313 77.5 315.1 78 317.2 77.9 319.3 78.4 323.5 78.7 327.7 78.5 334 79.6 344.5 80.4 355.1 80.4 365.6 81.4 376.1 81.8 386.6 81.9 397.1 82.9 405.5 82.8 M302.5 40 304.6 72.2 306.7 75.7 308.8 76 310.9 76.8 313 76.3 315.1 77 317.2 76.9 319.3 77.3 323.5 76.4 327.7 77.1 334 77.2 344.5 77.7 355.1 77.6 365.6 78.7 376.1 78.3 386.6 78 397.1 78.9 405.5 79 M302.5 75.6 304.6 76.7 306.7 77.2 308.8 77.2 310.9 77.4 313 77.1 315.1 77.4 317.2 77.8 319.3 78.4 323.5 77.8 327.7 77.9 334 78.6 344.5 79.2 355.1 79.2 365.6 79 376.1 79.8 386.6 79.9 397.1 80 405.5 79.9 M302.5 53 304.6 67.7 306.7 73.8 308.8 76.6 310.9 78.1 313 78.5 315.1 78.5 317.2 79.2 319.3 79 323.5 79.6 327.7 80.1 334 80.6 344.5 81.6 355.1 82.8 365.6 83.5 376.1 83.5 386.6 85.2 397.1 85.7 405.5 85.9 M302.5 62.8 304.6 75.5 306.7 77.1 308.8 77.1 310.9 77.8 313 77.6 315.1 77.9 317.2 77.8 319.3 77.7 323.5 77.8 327.7 78.5 334 78.1 344.5 79 355.1 79.5 365.6 79.5 376.1 80.2 386.6 80.1 397.1 80.3 405.5 80.6 M302.5 59.4 304.6 74.1 306.7 76.5 308.8 76.9 310.9 76.9 313 77.5 315.1 77.5 317.2 77.2 319.3 77.1 323.5 77.2 327.7 77.2 334 77.2 344.5 77.6 355.1 77.9 365.6 78.3 376.1 78.5 386.6 78.5 397.1 78.5 405.5 78.6 M302.5 76.4 304.6 76.7 306.7 77.1 308.8 77.4 310.9 77.2 313 77.3 315.1 77.6 317.2 77.7 319.3 77.1 323.5 78.1 327.7 78.2 334 78.3 344.5 79.1 355.1 79.1 365.6 79 376.1 79.6 386.6 80 397.1 80.3 405.5 80.6 M302.5 18.5 304.6 72 306.7 76.5 308.8 77.7 310.9 77 313 76.9 315.1 77.2 317.2 77.8 319.3 78 323.5 78 327.7 78.5 334 78.3 344.5 79.1 355.1 79.1 365.6 79.4 376.1 80.6 386.6 80.3 397.1 80.9 405.5 81.4 M302.5 73.5 304.6 75.9 306.7 76.8 308.8 76.9 310.9 77.2 313 77.6 315.1 77.3 317.2 77.4 319.3 77.4 323.5 77.1 327.7 77.7 334 78 344.5 78 355.1 79.1 365.6 79.4 376.1 79.4 386.6 79.8 397.1 79.7 405.5 80.1 M302.5 43.5 304.6 66 306.7 73.4 308.8 75.2 310.9 75.8 313 76.1 315.1 75.9 317.2 76.1 319.3 76.7 323.5 76.5 327.7 76.8 334 76.6 344.5 77.1 355.1 76.8 365.6 77.1 376.1 77.1 386.6 77.6 397.1 78 405.5 77.3 M302.5 75.4 304.6 76.5 306.7 76.7 308.8 77.8 310.9 77.5 313 78.1 315.1 78.3 317.2 78.5 319.3 78.7 323.5 78.8 327.7 80.2 334 80.3 344.5 81.5 355.1 81.9 365.6 83.2 376.1 83.7 386.6 84.7 397.1 85.2 405.5 85.7 M302.5 60.8 304.6 66.7 306.7 69.8 308.8 73.1 310.9 74.8 313 75.8 315.1 76.4 317.2 76.9 319.3 77.3 323.5 77.9 327.7 78.1 334 78.8 344.5 79.5 355.1 80 365.6 79.5 376.1 81.1 386.6 80.9 397.1 80.8 405.5 81.4 M302.5 70.6 304.6 75.6 306.7 76.7 308.8 76.7 310.9 76.8 313 77.4 315.1 77.8 317.2 77.4 319.3 77.1 323.5 77.6 327.7 77.9 334 77.6 344.5 78.9 355.1 78.7 365.6 79.4 376.1 79.6 386.6 79.9 397.1 79.8 405.5 80.6 M302.5 73.5 304.6 76.8 306.7 77.7 308.8 77.9 310.9 78.6 313 78.7 315.1 79 317.2 79.4 319.3 80 323.5 79.7 327.7 80.3 334 80.6 344.5 82.3 355.1 82.9 365.6 83.8 376.1 84.2 386.6 84.3 397.1 85.1 405.5 85.7 M302.5 70.8 304.6 75.7 306.7 76.7 308.8 76.9 310.9 77.7 313 77.9 315.1 78.2 317.2 78.4 319.3 78.2 323.5 79 327.7 79.5 334 80.6 344.5 80.7 355.1 81.8 365.6 82.4 376.1 82.4 386.6 83.1 397.1 84.4 405.5 84.1 M302.5 70.2 304.6 72.6 306.7 74.1 308.8 74.6 310.9 75.9 313 76.2 315.1 76.5 317.2 76.3 319.3 76.6 323.5 76.4 327.7 76.9 334 77 344.5 76.8 355.1 76.7 365.6 76.9 376.1 76.6 386.6 76.1 397.1 76.7 405.5 76.6 M302.5 74.4 304.6 77 306.7 77.6 308.8 77.9 310.9 77.8 313 78.1 315.1 78.9 317.2 78.8 319.3 78.9 323.5 79.1 327.7 79.7 334 80.3 344.5 81 355.1 82.1 365.6 82.3 376.1 83.1 386.6 83.4 397.1 84.4 405.5 84.7 M302.5 27.8 304.6 67.5 306.7 75.1 308.8 77.1 310.9 77.2 313 77.3 315.1 77 317.2 77.2 319.3 77.3 323.5 77.1 327.7 77.3 334 77.2 344.5 77.3 355.1 77.6 365.6 77.7 376.1 77.7 386.6 77.9 397.1 77.8 405.5 77.7 M302.5 52.3 304.6 74.1 306.7 76.9 308.8 77.2 310.9 77.1 313 77.5 315.1 77.5 317.2 77.1 319.3 77.3 323.5 77.7 327.7 77.9 334 78.5 344.5 78.4 355.1 78.8 365.6 79.1 376.1 79.5 386.6 79.7 397.1 80 405.5 80 M302.5 75.9 304.6 76.4 306.7 76.4 308.8 76.6 310.9 77 313 76.8 315.1 77.2 317.2 77.4 319.3 77.5 323.5 77.5 327.7 77 334 77.9 344.5 77.5 355.1 77.7 365.6 78.3 376.1 78.5 386.6 78.8 397.1 78.9 405.5 78.8 M302.5 13.1 304.6 62.9 306.7 73.4 308.8 76 310.9 76.2 313 76.3 315.1 76.7 317.2 75.9 319.3 76.8 323.5 76.8 327.7 76.6 334 77.3 344.5 77.1 355.1 77.4 365.6 77.4 376.1 77.3 386.6 77.2 397.1 77.1 405.5 77.3 M302.5 56.5 304.6 69.8 306.7 73.9 308.8 75.8 310.9 76.6 313 76.7 315.1 76.8 317.2 77.5 319.3 77.3 323.5 77.7 327.7 77.6 334 78 344.5 77.8 355.1 78.3 365.6 78.9 376.1 79 386.6 79.6 397.1 79.5 405.5 79.6 M302.5 64.5 304.6 74.6 306.7 77.2 308.8 77.1 310.9 77.5 313 77.3 315.1 77.2 317.2 77.2 319.3 77.5 323.5 77.3 327.7 77.7 334 77.7 344.5 77.2 355.1 77.4 365.6 77.8 376.1 77.6 386.6 77.4 397.1 77 405.5 77.2 M302.5 23.6 304.6 66.7 306.7 75.4 308.8 76.6 310.9 77.1 313 77.6 315.1 77.9 317.2 77.2 319.3 77.9 323.5 77.5 327.7 77.4 334 78.3 344.5 78.1 355.1 78.4 365.6 78.4 376.1 78.6 386.6 78.3 397.1 78.8 405.5 79 M302.5 44.7 304.6 68.8 306.7 74.7 308.8 76.6 310.9 77.3 313 76.6 315.1 77.1 317.2 77.1 319.3 77.1 323.5 77.3 327.7 77.4 334 77.1 344.5 76.7 355.1 77.2 365.6 77.3 376.1 78 386.6 77.7 397.1 78.1 405.5 77.7 M302.5 48.8 304.6 68.3 306.7 74.9 308.8 76.8 310.9 77.3 313 77.7 315.1 77.6 317.2 77.6 319.3 77.9 323.5 78.2 327.7 78.4 334 78.5 344.5 79.7 355.1 79.6 365.6 80.4 376.1 80.9 386.6 80.9 397.1 81.4 405.5 81.5 M302.5 57.6 304.6 72.6 306.7 76.8 308.8 78.2 310.9 78.5 313 78.2 315.1 78.2 317.2 78.8 319.3 78.8 323.5 78.9 327.7 79.6 334 79.5 344.5 79.4 355.1 79.7 365.6 80.7 376.1 80.5 386.6 81.5 397.1 81.9 405.5 82.5 M302.5 75.7 304.6 76.7 306.7 76 308.8 76.7 310.9 76.8 313 77.4 315.1 76.6 317.2 76.7 319.3 77.1 323.5 77 327.7 77 334 76.9 344.5 77.2 355.1 76.8 365.6 77.4 376.1 77.6 386.6 77.7 397.1 78.3 405.5 77.9 M302.5 76.8 304.6 76.7 306.7 76.6 308.8 76.6 310.9 77.1 313 76.7 315.1 76.6 317.2 77.2 319.3 77 323.5 77.7 327.7 77.9 334 77.4 344.5 77.8 355.1 78 365.6 78.5 376.1 78.6 386.6 78.5 397.1 78.5 405.5 79.1 M302.5 70 304.6 75 306.7 76.2 308.8 76.1 310.9 76.8 313 76.5 315.1 76.6 317.2 76.5 319.3 76.4 323.5 76.8 327.7 76.2 334 77 344.5 77 355.1 77 365.6 77.5 376.1 77.2 386.6 77.3 397.1 77.6 405.5 77.1 M302.5 63.7 304.6 70.8 306.7 74.1 308.8 75.2 310.9 76.7 313 76.7 315.1 77.1 317.2 76.3 319.3 76.9 323.5 76.9 327.7 77.1 334 76.7 344.5 77.1 355.1 77 365.6 77.7 376.1 77 386.6 77.2 397.1 77.3 405.5 77.2 M302.5 64.1 304.6 71.9 306.7 75.3 308.8 76.5 310.9 77.1 313 77.7 315.1 77.5 317.2 78.6 319.3 78.4 323.5 78.2 327.7 79.1 334 79.8 344.5 79.6 355.1 80.4 365.6 81.4 376.1 81.4 386.6 82.3 397.1 82.9 405.5 82.9 M302.5 76.9 304.6 77.1 306.7 77.1 308.8 77.5 310.9 77.9 313 78 315.1 77.8 317.2 77.4 319.3 77.7 323.5 78.2 327.7 78 334 78.7 344.5 78.5 355.1 79.1 365.6 79.1 376.1 79.4 386.6 79.9 397.1 80 405.5 80.5 M302.5 37.9 304.6 53.2 306.7 62.7 308.8 68.6 310.9 71.4 313 74.2 315.1 75.3 317.2 75.8 319.3 76.7 323.5 76.6 327.7 77 334 77.7 344.5 78 355.1 78.5 365.6 78.8 376.1 78.6 386.6 78.8 397.1 79.1 405.5 79.3 M302.5 51 304.6 71.8 306.7 75.9 308.8 76.5 310.9 76.2 313 76.2 315.1 77.1 317.2 76.8 319.3 76.7 323.5 76.5 327.7 77.1 334 76.8 344.5 77.1 355.1 76.5 365.6 77.1 376.1 77.4 386.6 77.5 397.1 77.2 405.5 77.4 M302.5 64.4 304.6 68.8 306.7 71.5 308.8 73.6 310.9 74.6 313 75.6 315.1 76.6 317.2 77.3 319.3 77.2 323.5 78.5 327.7 78.9 334 78.6 344.5 79.2 355.1 79.6 365.6 80.4 376.1 81.1 386.6 81.3 397.1 81.4 405.5 82.1 M302.5 39.9 304.6 68.5 306.7 75.9 308.8 77.8 310.9 78.2 313 79 315.1 79 317.2 79.7 319.3 79.7 323.5 79.6 327.7 79.8 334 80.9 344.5 81.6 355.1 81.9 365.6 82.9 376.1 83.6 386.6 83.9 397.1 84.6 405.5 84.8 M302.5 72.2 304.6 76.8 306.7 76.7 308.8 77.5 310.9 76.9 313 77.2 315.1 77.4 317.2 77.3 319.3 77.3 323.5 77.3 327.7 77.8 334 77.9 344.5 78.1 355.1 77.8 365.6 78.2 376.1 78.9 386.6 79 397.1 79.2 405.5 79.2 M302.5 66.1 304.6 74.3 306.7 76 308.8 76.7 310.9 76.9 313 76.8 315.1 77.7 317.2 77.1 319.3 77.8 323.5 77.6 327.7 78.2 334 78.5 344.5 79.4 355.1 79.9 365.6 80.8 376.1 81.6 386.6 81.7 397.1 82.3 405.5 82.3 M302.5 46.4 304.6 69.4 306.7 74.9 308.8 76.8 310.9 76.5 313 76.7 315.1 76.9 317.2 77 319.3 77.1 323.5 77.5 327.7 77.5 334 77.3 344.5 77.7 355.1 77.4 365.6 78.2 376.1 78.9 386.6 78.5 397.1 78.5 405.5 78.6 M302.5 62.6 304.6 68.6 306.7 72.2 308.8 73.6 310.9 75.9 313 76.3 315.1 76.4 317.2 77 319.3 76.9 323.5 77.3 327.7 77.6 334 77 344.5 77.8 355.1 77.9 365.6 78.3 376.1 78.4 386.6 78.1 397.1 78.3 405.5 78.5 M302.5 27.6 304.6 44.2 306.7 55 308.8 62.6 310.9 67.6 313 70.3 315.1 72.8 317.2 74.3 319.3 75.7 323.5 76.8 327.7 77.5 334 78 344.5 78.3 355.1 79.4 365.6 79.7 376.1 80.2 386.6 81.5 397.1 81.3 405.5 81.2 M302.5 8.7 304.6 69.9 306.7 75.6 308.8 76.5 310.9 77 313 76.3 315.1 76.8 317.2 76.8 319.3 76.7 323.5 76.8 327.7 76.4 334 76.5 344.5 76.3 355.1 76.5 365.6 76.8 376.1 76.6 386.6 76.4 397.1 76.7 405.5 75.8 M302.5 12.1 304.6 70.7 306.7 76.5 308.8 77.1 310.9 77.3 313 77.7 315.1 77.7 317.2 77.7 319.3 77.8 323.5 79 327.7 78.7 334 78.9 344.5 79.2 355.1 79.5 365.6 79.7 376.1 80.2 386.6 80.7 397.1 81 405.5 80.8 M302.5 76.4 304.6 76.1 306.7 76.5 308.8 76.6 310.9 76.5 313 76.7 315.1 77 317.2 76.8 319.3 77 323.5 77.2 327.7 77.3 334 77.5 344.5 77.9 355.1 78.2 365.6 78.3 376.1 78.7 386.6 79 397.1 78.5 405.5 79.1 M302.5 49.6 304.6 74.1 306.7 76.2 308.8 77 310.9 76.6 313 77.5 315.1 77.3 317.2 76.8 319.3 77.1 323.5 77.4 327.7 77.2 334 77.7 344.5 77.6 355.1 78.3 365.6 78 376.1 78.3 386.6 78.1 397.1 78.1 405.5 78.7 M302.5 11.8 304.6 45.8 306.7 62.2 308.8 70.2 310.9 74.2 313 75.5 315.1 76.9 317.2 76.9 319.3 77.7 323.5 78.7 327.7 78 334 78.6 344.5 79 355.1 78.9 365.6 79.7 376.1 79.6 386.6 80.3 397.1 80.8 405.5 80.7 M302.5 74.9 304.6 76.3 306.7 76.9 308.8 76.9 310.9 77.5 313 77.5 315.1 78.1 317.2 78 319.3 78.1 323.5 78.8 327.7 79.1 334 79.6 344.5 80.1 355.1 81.2 365.6 81.5 376.1 81.9 386.6 82.8 397.1 83.9 405.5 83.9 M302.5 51.6 304.6 68.6 306.7 74.4 308.8 76.5 310.9 77.2 313 77.5 315.1 77.7 317.2 78.1 319.3 78.1 323.5 78.3 327.7 79.1 334 79.2 344.5 79.7 355.1 80 365.6 80.5 376.1 81 386.6 81.5 397.1 81.5 405.5 81.9 M302.5 29.3 304.6 59.9 306.7 70.7 308.8 74.8 310.9 76.3 313 76.5 315.1 77.1 317.2 77.1 319.3 77.1 323.5 77.8 327.7 77.3 334 77.8 344.5 78 355.1 78.8 365.6 78.6 376.1 79 386.6 79.5 397.1 79 405.5 79.7" fill="none" stroke="#c0c0c0" stroke-width="0.5"/>
<path d="M302.6 72 304.6 76 306.8 76.6 313 77.2 323.5 77.6 344.5 78.5 365.5 79.4 386.5 80.2 405.4 80.8" fill="none" stroke="#3b87bd" stroke-width="1.0" stroke-linejoin="round"/>
</g>
<rect x="297.4" y="5.5" width="113.2" height="90.7" fill="none" stroke="#999" stroke-width="0.65"/>
<text transform="translate(302.55 102.25) scale(1 1.1)" text-anchor="middle" class="t">0</text>
<text transform="translate(313.05 102.25) scale(1 1.1)" text-anchor="middle" class="t">5</text>
<text transform="translate(323.55 102.25) scale(1 1.1)" text-anchor="middle" class="t">10</text>
<text transform="translate(334.05 102.25) scale(1 1.1)" text-anchor="middle" class="t">15</text>
<text transform="translate(344.55 102.25) scale(1 1.1)" text-anchor="middle" class="t">20</text>
<text transform="translate(355.05 102.25) scale(1 1.1)" text-anchor="middle" class="t">25</text>
<text transform="translate(365.55 102.25) scale(1 1.1)" text-anchor="middle" class="t">30</text>
<text transform="translate(376.05 102.25) scale(1 1.1)" text-anchor="middle" class="t">35</text>
<text transform="translate(386.55 102.25) scale(1 1.1)" text-anchor="middle" class="t">40</text>
<text transform="translate(397.05 102.25) scale(1 1.1)" text-anchor="middle" class="t">45</text>
<text transform="translate(407.55 102.25) scale(1 1.1)" text-anchor="middle" class="t">50</text>
<text transform="translate(295.30 91.90) scale(1 1.1)" text-anchor="end" class="t">0.24</text>
<text transform="translate(295.30 78.72) scale(1 1.1)" text-anchor="end" class="t">0.25</text>
<text transform="translate(295.30 65.53) scale(1 1.1)" text-anchor="end" class="t">0.26</text>
<text transform="translate(295.30 52.35) scale(1 1.1)" text-anchor="end" class="t">0.27</text>
<text transform="translate(295.30 39.17) scale(1 1.1)" text-anchor="end" class="t">0.28</text>
<text transform="translate(295.30 25.98) scale(1 1.1)" text-anchor="end" class="t">0.29</text>
<text transform="translate(295.30 12.80) scale(1 1.1)" text-anchor="end" class="t">0.30</text>
<path d="M302.55 96.10v1.1M313.05 96.10v1.1M323.55 96.10v1.1M334.05 96.10v1.1M344.55 96.10v1.1M355.05 96.10v1.1M365.55 96.10v1.1M376.05 96.10v1.1M386.55 96.10v1.1M397.05 96.10v1.1M407.55 96.10v1.1M297.40 89.70h-1.1M297.40 76.52h-1.1M297.40 63.33h-1.1M297.40 50.15h-1.1M297.40 36.97h-1.1M297.40 23.78h-1.1M297.40 10.60h-1.1" stroke="#777" stroke-width="0.5" fill="none"/>
<text transform="translate(354.00 107.65) scale(1 1.1)" text-anchor="middle" class="l">Epoch</text>
<text transform="translate(282.35 51.18) rotate(-90)" text-anchor="middle" class="l">CNN-DDLA Train Loss</text>
<rect x="361.60" y="7.25" width="47.00" height="15.6" rx="1" fill="#fff" fill-opacity="0.8" stroke="#e0e0e0" stroke-width="0.4"/>
<path d="M363.00 11.25h9.8" stroke="#3b87bd" stroke-width="1.0"/>
<path d="M363.00 18.05h9.8" stroke="#c8c8c8" stroke-width="0.85"/>
<text x="376.20" y="12.95" class="lg">correct key</text>
<text x="376.20" y="19.75" class="lg">wrong key</text>
<g clip-path="url(#c3)">
<path d="M437.6 88.4 440.3 81.4 445.9 77.8 459.8 75 473.7 73.1 487.6 70.3 501.5 68.4 515.4 66.7 529.3 65.6 540.4 63.9 540.6 66 517.1 69 497.8 71.5 488.2 75 478.5 78.5 468.9 81 459.8 86 448.7 90 437.6 91.5Z" fill="#e6e6e6"/>
<path d="M437.5 52.9 439.6 51.2 441.7 49.8 443.8 48 445.9 46.5 448 46.5 450.1 46.1 452.2 42.8 454.3 43.2 456.4 42.3 458.5 43 460.6 44 462.7 42.2 464.8 39.4 466.9 39 469 39.2 471.1 37 473.2 36.8 475.3 36.6 477.4 33.8 479.5 35.4 481.6 33.9 483.7 33.6 485.8 32 487.9 32.1 490.1 32.2 492.2 32.9 494.3 32.5 496.4 32.4 498.5 33.8 500.6 33.1 502.7 30.9 504.8 30.8 506.9 33 509 30.8 511.1 32.3 513.2 32.4 515.3 30.1 517.4 30.2 519.5 30.4 521.6 29.2 523.7 29 525.8 29.4 527.9 30.4 530 29 532.1 29 534.2 28.5 536.3 27.4 538.4 30 540.5 26 540.5 63.2 538.4 62.8 536.3 63.4 534.2 63.7 532.1 63.6 530 66.2 527.9 66.3 525.8 64.9 523.7 66.7 521.6 65.2 519.5 68.4 517.4 67.1 515.3 68.9 513.2 66 511.1 67.5 509 66.6 506.9 68.3 504.8 67.2 502.7 67.3 500.6 66.3 498.5 67.7 496.4 70.5 494.3 67.3 492.2 69.8 490.1 69.7 487.9 70.6 485.8 70.8 483.7 70.2 481.6 71.9 479.5 72 477.4 73.7 475.3 71.3 473.2 73.7 471.1 73.7 469 72.6 466.9 74.7 464.8 75.7 462.7 75.1 460.6 76.3 458.5 75.5 456.4 75.8 454.3 76.7 452.2 75.5 450.1 77.2 448 76.6 445.9 79.1 443.8 79.8 441.7 79.1 439.6 83.8 437.5 87.7Z" fill="#c0c0c0" stroke="#c0c0c0" stroke-width="0.4"/>
<path d="M437.5 53.1 439.6 52.6 441.7 49.4 443.8 48 445.9 46.7 448 46.3 450.1 44.8 452.2 43.1 454.3 43.4 456.4 43.2 458.5 44.3 460.6 44.6 462.7 42.5 464.8 40 466.9 38.9 469 38.7 471.1 39.8 473.2 37.9 475.3 36.8 477.4 35.1 479.5 36.1 481.6 34.2 483.7 33.1 485.8 32.7 487.9 34.7 490.1 32.3 492.2 34.2 494.3 33.1 496.4 31.3 498.5 31.9 500.6 30.3 502.7 29.1 504.8 29.4 506.9 28.4 509 29.7 511.1 28.6 513.2 28.7 515.3 28.8 517.4 23.9 519.5 27.5 521.6 24.9 523.7 27.1 525.8 25.5 527.9 25.9 530 26.5 532.1 22.1 534.2 24.3 536.3 23.8 538.4 21.6 540.5 24.3 M437.5 53.9 439.6 50.5 441.7 52.1 443.8 47.8 445.9 47.5 448 48.8 450.1 44.3 452.2 45.7 454.3 44 456.4 42.8 458.5 41 460.6 41.5 462.7 39.4 464.8 40.2 466.9 39.7 469 35.7 471.1 35.9 473.2 35.4 475.3 33.7 477.4 33.4 479.5 34 481.6 32.9 483.7 30.6 485.8 31.2 487.9 31.9 490.1 28.9 492.2 28.1 494.3 30.1 496.4 28.9 498.5 24.6 500.6 23.8 502.7 25.3 504.8 23.4 506.9 24 509 23.5 511.1 24.5 513.2 20.5 515.3 20.7 517.4 21.5 519.5 23.9 521.6 22.3 523.7 20 525.8 22.3 527.9 21.5 530 19 532.1 17.6 534.2 18.6 536.3 20 538.4 19.3 540.5 20.3 M437.5 52.8 439.6 48.9 441.7 50.9 443.8 49.1 445.9 47.6 448 46.7 450.1 48.4 452.2 46.9 454.3 46.4 456.4 41.8 458.5 41.4 460.6 42.2 462.7 39.1 464.8 38.9 466.9 36.6 469 39.9 471.1 38.2 473.2 36.6 475.3 35.9 477.4 34.2 479.5 33.1 481.6 33.4 483.7 31.2 485.8 33 487.9 30.5 490.1 29.5 492.2 31.2 494.3 28.5 496.4 28.1 498.5 26.2 500.6 23.3 502.7 26.2 504.8 23.9 506.9 26.7 509 23.6 511.1 23.1 513.2 25.4 515.3 25.3 517.4 24.4 519.5 22.4 521.6 24.7 523.7 21.9 525.8 23.3 527.9 22.4 530 22.2 532.1 22.9 534.2 21.6 536.3 23.3 538.4 23.6 540.5 21.1 M437.5 52.3 439.6 53.4 441.7 51.1 443.8 49.1 445.9 44.4 448 46.5 450.1 45.9 452.2 44.2 454.3 43.5 456.4 46.6 458.5 41.8 460.6 40.2 462.7 40.7 464.8 39.4 466.9 38.1 469 37.3 471.1 37.6 473.2 35.9 475.3 33.6 477.4 34 479.5 33.9 481.6 31.8 483.7 33 485.8 32.1 487.9 29.4 490.1 29.9 492.2 31.3 494.3 29.8 496.4 26.7 498.5 27.1 500.6 24.4 502.7 23 504.8 25.5 506.9 24.6 509 24.8 511.1 24.1 513.2 24.2 515.3 23 517.4 23.3 519.5 23.3 521.6 22.2 523.7 22.6 525.8 19 527.9 19.4 530 21.1 532.1 20.6 534.2 18.8 536.3 18.6 538.4 17.6 540.5 19.6 M437.5 52.4 439.6 52 441.7 49.2 443.8 48.1 445.9 44.7 448 45.9 450.1 45.4 452.2 43.3 454.3 41.8 456.4 44 458.5 42.1 460.6 42.9 462.7 41.3 464.8 41.4 466.9 39.3 469 37.1 471.1 37.6 473.2 36.8 475.3 37.3 477.4 35.3 479.5 34.3 481.6 34.9 483.7 34.5 485.8 33.6 487.9 33.5 490.1 32.1 492.2 32.3 494.3 31.6 496.4 30.4 498.5 29.4 500.6 29 502.7 31.6 504.8 28.7 506.9 28.1 509 27.8 511.1 28 513.2 28.3 515.3 26.7 517.4 25.4 519.5 27.6 521.6 25.5 523.7 27.8 525.8 27.6 527.9 28.6 530 28.7 532.1 26.6 534.2 25.5 536.3 24.7 538.4 25 540.5 25.8 M437.5 52.9 439.6 52 441.7 49.8 443.8 46.6 445.9 47.9 448 46.1 450.1 43.6 452.2 43.1 454.3 44.8 456.4 42.7 458.5 42.7 460.6 42.7 462.7 41.4 464.8 38.2 466.9 39.9 469 39.3 471.1 38.3 473.2 38.7 475.3 36.5 477.4 36.4 479.5 36.5 481.6 33.3 483.7 35.1 485.8 34.9 487.9 33.4 490.1 34.2 492.2 32.4 494.3 29.5 496.4 31.2 498.5 29.6 500.6 29.2 502.7 28.7 504.8 29.6 506.9 28.5 509 26.4 511.1 27.4 513.2 27.4 515.3 25 517.4 24.8 519.5 24.7 521.6 24.2 523.7 25.1 525.8 25.6 527.9 26.5 530 25.1 532.1 24.2 534.2 24.6 536.3 25 538.4 22.9 540.5 24.4 M437.5 52.9 439.6 52.4 441.7 49 443.8 46.1 445.9 46.3 448 45.6 450.1 46.7 452.2 46.8 454.3 43 456.4 42.6 458.5 42.2 460.6 41 462.7 38.6 464.8 38.9 466.9 38.5 469 37.3 471.1 34.7 473.2 35.5 475.3 32.8 477.4 35.6 479.5 32.8 481.6 32.9 483.7 32.5 485.8 32.1 487.9 31.1 490.1 29.7 492.2 33.2 494.3 30.5 496.4 29.7 498.5 31.7 500.6 28.4 502.7 28.8 504.8 27.8 506.9 29.1 509 28 511.1 27.5 513.2 26.5 515.3 26.7 517.4 27.4 519.5 23.4 521.6 25.9 523.7 25.6 525.8 25.9 527.9 23.5 530 26.3 532.1 23.6 534.2 24.4 536.3 23.8 538.4 22.4 540.5 24.3 M437.5 54.6 439.6 51.6 441.7 49.5 443.8 47.2 445.9 45.4 448 45.8 450.1 45.6 452.2 44.3 454.3 44 456.4 44.2 458.5 43.1 460.6 42.3 462.7 42.1 464.8 40.5 466.9 39.1 469 38.7 471.1 35.3 473.2 38.4 475.3 34.8 477.4 36.9 479.5 34.4 481.6 34.9 483.7 33.2 485.8 32.1 487.9 34.3 490.1 32.5 492.2 32 494.3 31.4 496.4 31.7 498.5 30.9 500.6 29.9 502.7 27.7 504.8 29 506.9 29.2 509 31.5 511.1 29.5 513.2 28.7 515.3 29.9 517.4 28.3 519.5 28.3 521.6 28.5 523.7 26.4 525.8 29.2 527.9 28.3 530 26.7 532.1 25.4 534.2 27.2 536.3 28.5 538.4 26.1 540.5 25.6 M437.5 54.5 439.6 49.1 441.7 49.6 443.8 47.1 445.9 47.4 448 45.7 450.1 45.8 452.2 43.7 454.3 44.3 456.4 43.1 458.5 44.9 460.6 41.1 462.7 42.5 464.8 40 466.9 38.5 469 36.5 471.1 37.1 473.2 33.8 475.3 33.5 477.4 35.4 479.5 31.6 481.6 34.4 483.7 31.7 485.8 31.8 487.9 31.3 490.1 31 492.2 29.2 494.3 28.2 496.4 27.6 498.5 28 500.6 27.5 502.7 26.9 504.8 25.8 506.9 24.9 509 22.5 511.1 25 513.2 25 515.3 23.1 517.4 23.9 519.5 24.1 521.6 22.5 523.7 22.9 525.8 21.7 527.9 18.3 530 18.5 532.1 17.2 534.2 18.3 536.3 16.9 538.4 17.6 540.5 17 M437.5 53.6 439.6 52.1 441.7 47.9 443.8 49.2 445.9 46.4 448 46.2 450.1 47.5 452.2 44.3 454.3 44.9 456.4 43.3 458.5 45.5 460.6 42.2 462.7 40 464.8 39.4 466.9 38.6 469 38.6 471.1 37.6 473.2 37.8 475.3 36.2 477.4 35.4 479.5 35.1 481.6 33.8 483.7 33.5 485.8 33.5 487.9 32.7 490.1 30.1 492.2 27.8 494.3 27.8 496.4 28.2 498.5 23.6 500.6 24.9 502.7 25.7 504.8 23.8 506.9 23 509 26.2 511.1 25.1 513.2 22.4 515.3 23.8 517.4 23.4 519.5 19.9 521.6 24 523.7 19.2 525.8 19.6 527.9 17.4 530 17.2 532.1 14.1 534.2 15.8 536.3 17.8 538.4 17 540.5 16.6 M437.5 89.9 439.6 87.4 441.7 87.8 443.8 85.1 445.9 86.3 448 84.8 450.1 85.5 452.2 84.4 454.3 84.1 456.4 82.1 458.5 81.6 460.6 80.8 462.7 81.1 464.8 81 466.9 80.6 469 77.9 471.1 78.1 473.2 75.6 475.3 74.2 477.4 74.9 479.5 74.6 481.6 72.6 483.7 71.6 485.8 73.5 487.9 71.4 490.1 69.5 492.2 73.7 494.3 70.4 496.4 69 498.5 69.4 500.6 67.5 502.7 70.1 504.8 66.2 506.9 66.6 509 67.8 511.1 66.9 513.2 69.2 515.3 65.4 517.4 66.1 519.5 66.9 521.6 67.4 523.7 67.3 525.8 66.3 527.9 68.4 530 65 532.1 65.3 534.2 65.9 536.3 64.1 538.4 63.7 540.5 63.2 M437.5 89.3 439.6 85.6 441.7 83.9 443.8 83.2 445.9 80.2 448 81.7 450.1 81.7 452.2 79.9 454.3 78.5 456.4 78.2 458.5 79.7 460.6 79.3 462.7 76.7 464.8 75.7 466.9 78 469 74.2 471.1 75.5 473.2 73.9 475.3 72.4 477.4 74.1 479.5 73.1 481.6 74.7 483.7 75.1 485.8 71.9 487.9 72.4 490.1 72.1 492.2 69.9 494.3 68.8 496.4 71.1 498.5 68.5 500.6 68.4 502.7 67.7 504.8 67.7 506.9 66.8 509 68.2 511.1 68.4 513.2 66.2 515.3 65 517.4 66.5 519.5 64.1 521.6 65 523.7 67 525.8 68 527.9 65.7 530 63.4 532.1 65.7 534.2 61.6 536.3 63.4 538.4 65.8 540.5 64.3 M437.5 89.3 439.6 88.3 441.7 83.7 443.8 84.3 445.9 82.6 448 84.3 450.1 82.4 452.2 80.9 454.3 81.5 456.4 79.7 458.5 78.5 460.6 80.1 462.7 78.5 464.8 79 466.9 77.8 469 76.6 471.1 75.3 473.2 73.1 475.3 74.5 477.4 73.4 479.5 74.1 481.6 72.5 483.7 70.9 485.8 70 487.9 71.5 490.1 71.7 492.2 69.3 494.3 69.4 496.4 70 498.5 67.1 500.6 67.7 502.7 66.4 504.8 68.8 506.9 67.5 509 66.6 511.1 65 513.2 66.3 515.3 67.5 517.4 65.9 519.5 65.4 521.6 66.2 523.7 63.9 525.8 65.3 527.9 65.9 530 64 532.1 63.5 534.2 64.4 536.3 63.5 538.4 62.8 540.5 62.9 M437.5 90.7 439.6 84.7 441.7 85.5 443.8 83.4 445.9 84.6 448 84.2 450.1 82.8 452.2 84.2 454.3 83 456.4 81.4 458.5 81.1 460.6 79.1 462.7 80 464.8 82 466.9 77.8 469 78.7 471.1 77.2 473.2 78.2 475.3 77.2 477.4 76 479.5 73.3 481.6 74.4 483.7 75.8 485.8 73.5 487.9 74 490.1 72.5 492.2 70.4 494.3 72.5 496.4 72.2 498.5 70.6 500.6 70.4 502.7 70.7 504.8 69.6 506.9 70.4 509 69.6 511.1 66.8 513.2 69.1 515.3 68.2 517.4 67.5 519.5 68.9 521.6 67.6 523.7 68.9 525.8 69.2 527.9 67.8 530 65.3 532.1 66.2 534.2 67.7 536.3 66.1 538.4 65.4 540.5 65.9 M437.5 92 439.6 90 441.7 88.5 443.8 85.4 445.9 85.9 448 87.1 450.1 86.7 452.2 83.9 454.3 83.5 456.4 84.3 458.5 81.1 460.6 80.5 462.7 81.7 464.8 81.3 466.9 79.6 469 76.5 471.1 78.8 473.2 76.6 475.3 78.3 477.4 76.9 479.5 77.1 481.6 76.8 483.7 75.2 485.8 76.6 487.9 76.2 490.1 74.5 492.2 74.8 494.3 71.8 496.4 72.9 498.5 71.5 500.6 69.9 502.7 70.9 504.8 70.1 506.9 69.8 509 70.3 511.1 71.2 513.2 69.4 515.3 69.7 517.4 67.6 519.5 69 521.6 70.2 523.7 69.8 525.8 69.2 527.9 67.5 530 67 532.1 67.7 534.2 65.4 536.3 65.2 538.4 67.6 540.5 65.2 M437.5 89.8 439.6 88.8 441.7 91.1 443.8 84.6 445.9 86.6 448 86 450.1 86.9 452.2 84.8 454.3 82 456.4 85.8 458.5 82.4 460.6 82.9 462.7 80.5 464.8 80.3 466.9 79.7 469 80.3 471.1 79.5 473.2 77.3 475.3 78.1 477.4 77.2 479.5 77.3 481.6 77 483.7 77.1 485.8 74.8 487.9 74.8 490.1 74.9 492.2 74.1 494.3 72.4 496.4 74.8 498.5 71.4 500.6 72.4 502.7 71.6 504.8 72.6 506.9 68.1 509 72.9 511.1 69.9 513.2 68.4 515.3 69.9 517.4 72.2 519.5 69.9 521.6 67.3 523.7 67.8 525.8 69.7 527.9 65.9 530 67.2 532.1 66.7 534.2 69.2 536.3 66.1 538.4 67.7 540.5 64.9 M437.5 90.5 439.6 84.4 441.7 85.1 443.8 83.8 445.9 80.9 448 81.7 450.1 81.2 452.2 81.4 454.3 80.8 456.4 77.9 458.5 77.3 460.6 79.3 462.7 77.6 464.8 77.2 466.9 76.5 469 77.3 471.1 73.5 473.2 76 475.3 73.6 477.4 75.3 479.5 75.2 481.6 71.7 483.7 73.3 485.8 72 487.9 71.3 490.1 71.2 492.2 69.7 494.3 69.4 496.4 70.8 498.5 70.4 500.6 68.4 502.7 67.2 504.8 71.7 506.9 69.8 509 68.7 511.1 66.7 513.2 66.9 515.3 67.7 517.4 66.1 519.5 68.7 521.6 66.6 523.7 66.9 525.8 65 527.9 65 530 64.9 532.1 65.8 534.2 64.9 536.3 64.5 538.4 64.7 540.5 64.3 M437.5 88.3 439.6 86.3 441.7 84.5 443.8 80.6 445.9 82.3 448 83.3 450.1 80.7 452.2 81.3 454.3 78.6 456.4 80.8 458.5 78.1 460.6 77.6 462.7 78.3 464.8 81 466.9 76.8 469 75.4 471.1 77.2 473.2 76.4 475.3 77.6 477.4 73.4 479.5 72.5 481.6 73.3 483.7 73.4 485.8 72.9 487.9 73.1 490.1 69.5 492.2 69.8 494.3 69.9 496.4 70.8 498.5 69.9 500.6 68.6 502.7 67.4 504.8 69.3 506.9 69.1 509 70.8 511.1 67.1 513.2 69 515.3 65.6 517.4 66.2 519.5 65.8 521.6 65.8 523.7 65.5 525.8 65.9 527.9 66.4 530 65.8 532.1 66.7 534.2 65.5 536.3 65.4 538.4 66.8 540.5 65 M437.5 89.2 439.6 84.6 441.7 82.8 443.8 82.5 445.9 82.3 448 81.1 450.1 81.3 452.2 81.5 454.3 80.3 456.4 82.2 458.5 81.7 460.6 77.3 462.7 77.4 464.8 76.2 466.9 75.7 469 77.4 471.1 75.4 473.2 74.7 475.3 75.3 477.4 76 479.5 74 481.6 73.1 483.7 73.8 485.8 72.9 487.9 72.3 490.1 72.4 492.2 69.5 494.3 70.4 496.4 68.9 498.5 70.1 500.6 69.3 502.7 67 504.8 69.5 506.9 66.2 509 68.6 511.1 67.4 513.2 66.2 515.3 65.5 517.4 66.3 519.5 66.8 521.6 65.8 523.7 67.3 525.8 64.4 527.9 66.1 530 65.8 532.1 63 534.2 65.4 536.3 63.5 538.4 61.9 540.5 64.1 M437.5 89.5 439.6 87 441.7 84.3 443.8 85 445.9 81 448 84.3 450.1 82.2 452.2 83.1 454.3 81.4 456.4 82 458.5 82.2 460.6 79.2 462.7 79.1 464.8 78.3 466.9 78.2 469 75.2 471.1 76.5 473.2 76.2 475.3 75 477.4 75.4 479.5 73.4 481.6 76.1 483.7 74.4 485.8 75.6 487.9 72 490.1 71.4 492.2 72.3 494.3 69.6 496.4 71.5 498.5 70.2 500.6 70.6 502.7 70.8 504.8 70.3 506.9 72 509 70.4 511.1 67.6 513.2 70.3 515.3 67.4 517.4 69 519.5 66.8 521.6 67 523.7 69.4 525.8 66.8 527.9 66.4 530 66.2 532.1 66.4 534.2 68.2 536.3 64.8 538.4 64.4 540.5 66.2 M437.5 91.4 439.6 87.2 441.7 88.2 443.8 88.3 445.9 87.1 448 85.3 450.1 87.2 452.2 84.1 454.3 85.8 456.4 86.2 458.5 81.1 460.6 83.1 462.7 81.9 464.8 80.8 466.9 78.6 469 78 471.1 76.1 473.2 77.5 475.3 77.1 477.4 75 479.5 74 481.6 73.9 483.7 73.5 485.8 73.1 487.9 72.2 490.1 71.7 492.2 69.3 494.3 66.9 496.4 70 498.5 70.6 500.6 67 502.7 67.6 504.8 68.6 506.9 69 509 68.4 511.1 68.9 513.2 66.9 515.3 67.3 517.4 66.8 519.5 65.7 521.6 67.2 523.7 66.3 525.8 66.7 527.9 64.9 530 66.2 532.1 63.5 534.2 64.8 536.3 60.8 538.4 62.2 540.5 64 M437.5 87.1 439.6 84.7 441.7 84.8 443.8 82.5 445.9 81.4 448 80.9 450.1 82.3 452.2 81.3 454.3 81.2 456.4 80.3 458.5 82.5 460.6 79.4 462.7 77 464.8 78.9 466.9 78.2 469 77.8 471.1 75.1 473.2 77.8 475.3 76.2 477.4 75.7 479.5 73.4 481.6 75.6 483.7 74.4 485.8 75.5 487.9 72.8 490.1 71.2 492.2 72.2 494.3 70.1 496.4 70.8 498.5 68.7 500.6 69.6 502.7 69.4 504.8 69.4 506.9 68.6 509 68.1 511.1 68.9 513.2 67.8 515.3 68.6 517.4 67.7 519.5 65.2 521.6 68 523.7 69.4 525.8 68.2 527.9 68.2 530 67.9 532.1 66.6 534.2 65.4 536.3 67.5 538.4 67.3 540.5 66.5 M437.5 81.4 439.6 75.3 441.7 73.6 443.8 72 445.9 69.8 448 69.7 450.1 67.6 452.2 68.6 454.3 65.6 456.4 67.1 458.5 66 460.6 66.1 462.7 64.1 464.8 67.6 466.9 63 469 62.5 471.1 60.9 473.2 62.8 475.3 59.8 477.4 60.8 479.5 57.9 481.6 58.6 483.7 57 485.8 57.6 487.9 55.8 490.1 54.6 492.2 55.7 494.3 53.6 496.4 53.7 498.5 55.3 500.6 52 502.7 54.8 504.8 53.1 506.9 52.1 509 53.2 511.1 53.2 513.2 51.3 515.3 51.2 517.4 52 519.5 51.5 521.6 50.3 523.7 49.1 525.8 48.8 527.9 49 530 49.9 532.1 49.5 534.2 48.6 536.3 49.6 538.4 47.3 540.5 46.8 M437.5 55.4 439.6 52.6 441.7 51 443.8 50.2 445.9 48.6 448 49.9 450.1 50.1 452.2 49.6 454.3 49.8 456.4 51.2 458.5 52.2 460.6 51.8 462.7 50.2 464.8 51.9 466.9 50.9 469 51.3 471.1 52.4 473.2 50.4 475.3 51.5 477.4 50.8 479.5 50.6 481.6 54 483.7 53 485.8 50.4 487.9 53.5 490.1 52.8 492.2 55.3 494.3 54.4 496.4 54.4 498.5 55.2 500.6 55.7 502.7 55.8 504.8 56.1 506.9 56.4 509 57.8 511.1 56.3 513.2 58.2 515.3 58.5 517.4 58.6 519.5 60.4 521.6 58.4 523.7 59.8 525.8 59.7 527.9 62.1 530 61.6 532.1 62.3 534.2 63.2 536.3 61.4 538.4 64.1 540.5 63.2 M437.5 66.1 439.6 63.8 441.7 61.9 443.8 59.7 445.9 57.3 448 56.2 450.1 57.4 452.2 55.8 454.3 57.8 456.4 53.6 458.5 54.9 460.6 53.5 462.7 51.5 464.8 52.6 466.9 49.7 469 47.3 471.1 47.3 473.2 48 475.3 44.3 477.4 46.3 479.5 44.1 481.6 42.1 483.7 43.2 485.8 43 487.9 41.4 490.1 40.4 492.2 41.9 494.3 41 496.4 37.6 498.5 38 500.6 37.2 502.7 36.7 504.8 35 506.9 37.1 509 35.4 511.1 35.3 513.2 36.5 515.3 33.6 517.4 34 519.5 34 521.6 32.7 523.7 32.6 525.8 33.1 527.9 32 530 33.1 532.1 29.9 534.2 30.8 536.3 28.6 538.4 29.4 540.5 28.3 M437.5 85.1 439.6 81.5 441.7 79.1 443.8 77.4 445.9 75.5 448 73.8 450.1 73.6 452.2 73.4 454.3 74.6 456.4 72.8 458.5 71.6 460.6 73.1 462.7 72.4 464.8 70.4 466.9 70.1 469 70.9 471.1 70.3 473.2 68.7 475.3 69.3 477.4 68.3 479.5 69 481.6 65.8 483.7 67.5 485.8 66.5 487.9 64.3 490.1 66.2 492.2 65.7 494.3 63.1 496.4 66.2 498.5 62.2 500.6 61.8 502.7 62.2 504.8 63.2 506.9 63 509 61.9 511.1 63.1 513.2 61.6 515.3 62.5 517.4 63.6 519.5 60.5 521.6 57.1 523.7 59.2 525.8 58.1 527.9 59.3 530 59.4 532.1 57.4 534.2 57.2 536.3 58.1 538.4 57.7 540.5 54.5 M437.5 66.7 439.6 65.7 441.7 62.9 443.8 59.6 445.9 56.2 448 59.9 450.1 59.1 452.2 58 454.3 54.7 456.4 54.7 458.5 57.2 460.6 56.5 462.7 54.9 464.8 52.9 466.9 52.4 469 50.6 471.1 50.2 473.2 48.8 475.3 49.4 477.4 48.4 479.5 49.3 481.6 47.8 483.7 45.3 485.8 47.9 487.9 43.8 490.1 45.4 492.2 46.3 494.3 46.4 496.4 41.8 498.5 45.2 500.6 45.2 502.7 45.2 504.8 40.3 506.9 41.5 509 42.2 511.1 41.5 513.2 43.6 515.3 40.9 517.4 43.1 519.5 41.9 521.6 39.3 523.7 39.8 525.8 40.3 527.9 40.6 530 41.5 532.1 39.6 534.2 40.3 536.3 37 538.4 35.1 540.5 38.2 M437.5 71.5 439.6 69.9 441.7 67 443.8 65.9 445.9 63.8 448 64 450.1 63.7 452.2 62.9 454.3 59.7 456.4 62.1 458.5 60.9 460.6 58.8 462.7 60.5 464.8 57.3 466.9 59.3 469 59.6 471.1 56.3 473.2 57.4 475.3 56.1 477.4 55.9 479.5 52.5 481.6 54.1 483.7 52.7 485.8 53.1 487.9 51.8 490.1 52.8 492.2 51.5 494.3 51.5 496.4 51.9 498.5 49.8 500.6 50.6 502.7 49.2 504.8 49.2 506.9 47.5 509 48.9 511.1 48.9 513.2 47.1 515.3 48.1 517.4 47.6 519.5 45.7 521.6 47.3 523.7 47.9 525.8 45.7 527.9 44.1 530 46.3 532.1 45.1 534.2 47.7 536.3 45 538.4 44.8 540.5 44" fill="none" stroke="#c2c2c2" stroke-width="0.5"/>
<path d="M437.6 60.5 440.5 66 443.5 71 446 68 448.5 71 452.5 67.5 454.5 69.5 456.5 75 460 67.5 463 70.5 466 68.5 470 67.5 473.5 66 478 68.5 482 68 486 67.5 488 67 491.2 66.5 493.3 68 496.5 70.2 499.6 69.1 502.8 67.5 507 62.2 511.3 65.9 515.5 62.8 519.7 56.9 524 58.5 528.2 59.6 531.4 54.8 535.6 53.2 538.3 54.3 540.6 53.2" fill="none" stroke="#3b87bd" stroke-width="1.0" stroke-linejoin="round"/>
</g>
<rect x="432.4" y="5.5" width="113.2" height="90.7" fill="none" stroke="#999" stroke-width="0.65"/>
<text transform="translate(437.55 102.25) scale(1 1.1)" text-anchor="middle" class="t">0</text>
<text transform="translate(448.05 102.25) scale(1 1.1)" text-anchor="middle" class="t">5</text>
<text transform="translate(458.55 102.25) scale(1 1.1)" text-anchor="middle" class="t">10</text>
<text transform="translate(469.05 102.25) scale(1 1.1)" text-anchor="middle" class="t">15</text>
<text transform="translate(479.55 102.25) scale(1 1.1)" text-anchor="middle" class="t">20</text>
<text transform="translate(490.05 102.25) scale(1 1.1)" text-anchor="middle" class="t">25</text>
<text transform="translate(500.55 102.25) scale(1 1.1)" text-anchor="middle" class="t">30</text>
<text transform="translate(511.05 102.25) scale(1 1.1)" text-anchor="middle" class="t">35</text>
<text transform="translate(521.55 102.25) scale(1 1.1)" text-anchor="middle" class="t">40</text>
<text transform="translate(532.05 102.25) scale(1 1.1)" text-anchor="middle" class="t">45</text>
<text transform="translate(542.55 102.25) scale(1 1.1)" text-anchor="middle" class="t">50</text>
<text transform="translate(430.30 91.10) scale(1 1.1)" text-anchor="end" class="t">0.48</text>
<text transform="translate(430.30 78.12) scale(1 1.1)" text-anchor="end" class="t">0.50</text>
<text transform="translate(430.30 65.13) scale(1 1.1)" text-anchor="end" class="t">0.52</text>
<text transform="translate(430.30 52.15) scale(1 1.1)" text-anchor="end" class="t">0.54</text>
<text transform="translate(430.30 39.17) scale(1 1.1)" text-anchor="end" class="t">0.56</text>
<text transform="translate(430.30 26.18) scale(1 1.1)" text-anchor="end" class="t">0.58</text>
<text transform="translate(430.30 13.20) scale(1 1.1)" text-anchor="end" class="t">0.60</text>
<path d="M437.55 96.10v1.1M448.05 96.10v1.1M458.55 96.10v1.1M469.05 96.10v1.1M479.55 96.10v1.1M490.05 96.10v1.1M500.55 96.10v1.1M511.05 96.10v1.1M521.55 96.10v1.1M532.05 96.10v1.1M542.55 96.10v1.1M432.40 88.90h-1.1M432.40 75.92h-1.1M432.40 62.93h-1.1M432.40 49.95h-1.1M432.40 36.97h-1.1M432.40 23.98h-1.1M432.40 11.00h-1.1" stroke="#777" stroke-width="0.5" fill="none"/>
<text transform="translate(489.00 107.65) scale(1 1.1)" text-anchor="middle" class="l">Epoch</text>
<text transform="translate(417.35 51.18) rotate(-90)" text-anchor="middle" class="l">CNN-DDLA Train Accuracy</text>
<rect x="435.00" y="7.25" width="47.00" height="15.6" rx="1" fill="#fff" fill-opacity="0.8" stroke="#e0e0e0" stroke-width="0.4"/>
<path d="M436.40 11.25h9.8" stroke="#3b87bd" stroke-width="1.0"/>
<path d="M436.40 18.05h9.8" stroke="#c8c8c8" stroke-width="0.85"/>
<text x="449.60" y="12.95" class="lg">correct key</text>
<text x="449.60" y="19.75" class="lg">wrong key</text>
<g clip-path="url(#c4)">
<path d="M31.4 118.5 35.1 124.9 40.5 132.1 47.7 141.2 53.2 145.7 62.2 149.9 71.3 151.5 80 153.6 89.1 156.5 98.1 160.8 107.2 164.9 116.2 168.6 125.3 172.2 134.4 175.2 134.4 195 127.3 192.8 118.8 189.5 110.4 186 101.9 182.5 93.5 178.6 85 174.5 78 170.8 70.3 166.9 64.2 163.5 58.2 160.2 52.2 156.8 46.1 153.3 40.1 151 35.2 148.5 31.4 143Z" fill="#c0c0c0" stroke="#c0c0c0" stroke-width="0.4"/>
<path d="M31.5 122.5 33.6 126.1 35.7 129.9 37.8 132.8 39.9 135.7 42 137.7 44.1 140.7 46.2 142.7 48.3 145.1 50.4 146.7 52.5 148.5 54.6 149.9 56.7 150.7 58.8 152.7 60.9 153.7 63 154.5 65.1 155.7 67.2 157.1 69.3 157.6 71.4 158.4 73.5 159.8 75.6 160.4 77.7 161.6 79.8 162.6 81.9 163.9 84 165.4 86.1 166.7 88.2 167.6 90.3 169 92.4 170.3 94.5 171.5 96.6 172.9 98.7 174 100.8 175.2 102.9 176.4 105 177.4 107.1 178.9 109.2 180 111.3 181 113.4 182.3 115.5 183.5 117.6 184.8 119.7 186.1 121.8 187.1 123.9 188.3 126 189.8 128.1 190.8 130.2 191.5 132.3 192.6 134.4 193.5 M31.5 122.2 33.6 126.2 35.7 129.9 37.8 132.1 39.9 135.1 42 137.7 44.1 140.3 46.2 142.7 48.3 144.9 50.4 146.6 52.5 148.1 54.6 150.1 56.7 150.8 58.8 152 60.9 153.7 63 154.3 65.1 155.2 67.2 155.8 69.3 156.6 71.4 157.2 73.5 157.8 75.6 159 77.7 159.5 79.8 160.1 81.9 161.2 84 162.3 86.1 162.9 88.2 164.2 90.3 165.3 92.4 166.7 94.5 167.4 96.6 168.8 98.7 169.4 100.8 170.8 102.9 171.9 105 173 107.1 174 109.2 175 111.3 175.8 113.4 176.8 115.5 178.1 117.6 179.2 119.7 180.1 121.8 181.3 123.9 182.3 126 182.7 128.1 183.8 130.2 184.6 132.3 185.5 134.4 186.7 M31.5 141.1 33.6 144.4 35.7 147.2 37.8 148.2 39.9 149.4 42 150.2 44.1 151.7 46.2 152.4 48.3 153.7 50.4 154.9 52.5 156 54.6 157.3 56.7 158.6 58.8 159.7 60.9 161 63 162.2 65.1 162.8 67.2 164.2 69.3 165.5 71.4 166.7 73.5 167.2 75.6 168.2 77.7 169.6 79.8 170.6 81.9 171.5 84 172.8 86.1 173.6 88.2 174.4 90.3 175.7 92.4 176.7 94.5 177.8 96.6 178.8 98.7 179.6 100.8 180.4 102.9 181.3 105 182 107.1 183.2 109.2 184.4 111.3 185.1 113.4 186.3 115.5 186.7 117.6 187.4 119.7 188.6 121.8 189.4 123.9 189.7 126 190.4 128.1 191.5 130.2 192.3 132.3 192.7 134.4 193.5 M31.5 135.5 33.6 138.6 35.7 141.3 37.8 142.6 39.9 144.1 42 145.3 44.1 146.5 46.2 148.1 48.3 149.3 50.4 150.7 52.5 151.6 54.6 153.2 56.7 154.1 58.8 155.1 60.9 156.1 63 156.9 65.1 157.5 67.2 158.8 69.3 158.9 71.4 159.9 73.5 160.7 75.6 160.9 77.7 161.7 79.8 162.2 81.9 163.3 84 163.8 86.1 164.3 88.2 165.5 90.3 166 92.4 166.5 94.5 167.7 96.6 168.3 98.7 169.7 100.8 170.3 102.9 170.7 105 171.6 107.1 172 109.2 173 111.3 173.6 113.4 174.5 115.5 175 117.6 175.4 119.7 176.3 121.8 177.4 123.9 178 126 178.5 128.1 179.1 130.2 179.7 132.3 180.4 134.4 180.6 M31.5 124.1 33.6 127.1 35.7 130.4 37.8 133.3 39.9 135.6 42 137.9 44.1 140.2 46.2 142.3 48.3 144 50.4 145.8 52.5 147.2 54.6 148.7 56.7 149.5 58.8 150.8 60.9 151.8 63 152.2 65.1 153.3 67.2 153.7 69.3 153.8 71.4 154.5 73.5 155.3 75.6 155.6 77.7 156.4 79.8 156.9 81.9 157.8 84 158.5 86.1 159.3 88.2 160.2 90.3 161.2 92.4 162 94.5 162.7 96.6 163.6 98.7 164.7 100.8 165.5 102.9 166.5 105 167.3 107.1 168.3 109.2 169.2 111.3 170 113.4 171.1 115.5 171.9 117.6 172.4 119.7 173.4 121.8 173.9 123.9 174.8 126 175.7 128.1 176.3 130.2 176.9 132.3 177.3 134.4 178.6 M31.5 139.2 33.6 142.6 35.7 144.7 37.8 146.2 39.9 147.2 42 148.6 44.1 149.1 46.2 150.3 48.3 151.9 50.4 153.1 52.5 154.5 54.6 155.7 56.7 156.9 58.8 158 60.9 159 63 159.7 65.1 160.8 67.2 162.4 69.3 163.3 71.4 164.1 73.5 164.9 75.6 165.8 77.7 166.5 79.8 167.9 81.9 168.3 84 169.3 86.1 170.8 88.2 170.9 90.3 172.2 92.4 172.6 94.5 173.7 96.6 174.8 98.7 175.7 100.8 176.7 102.9 177.2 105 178.2 107.1 178.9 109.2 179.8 111.3 180.4 113.4 181.7 115.5 182.1 117.6 183.2 119.7 183.8 121.8 184.5 123.9 185.6 126 186.2 128.1 186.4 130.2 187.5 132.3 187.5 134.4 188.6" fill="none" stroke="#c2c2c2" stroke-width="0.5"/>
<path d="M37.5 137.5 41 141 45 144.2 49 146.5 53 148.2 57 149.6" fill="none" stroke="#fff" stroke-opacity="0.55" stroke-width="0.6"/>
<path d="M31.4 142.9 32.8 146.5 35.2 148.9 40.1 151.3 46.1 153.7 52.2 157.3 58.2 160.8 64.2 164.1 70.3 167.5 75 170.5 79.5 173.4 84.1 176 88.6 177.5 93.1 180 97.7 182.8 102.2 185.2 105 186.8 108.7 189.5 113.8 191.5 118.8 193.3 121.4 194.8 123.9 194.3 127.3 196.5 130.7 198.2 134.3 200.8" fill="none" stroke="#3b87bd" stroke-width="1.0" stroke-linejoin="round"/>
</g>
<rect x="26.4" y="114.5" width="113.2" height="90.7" fill="none" stroke="#999" stroke-width="0.65"/>
<text transform="translate(31.50 211.30) scale(1 1.1)" text-anchor="middle" class="t">0</text>
<text transform="translate(42.00 211.30) scale(1 1.1)" text-anchor="middle" class="t">5</text>
<text transform="translate(52.50 211.30) scale(1 1.1)" text-anchor="middle" class="t">10</text>
<text transform="translate(63.00 211.30) scale(1 1.1)" text-anchor="middle" class="t">15</text>
<text transform="translate(73.50 211.30) scale(1 1.1)" text-anchor="middle" class="t">20</text>
<text transform="translate(84.00 211.30) scale(1 1.1)" text-anchor="middle" class="t">25</text>
<text transform="translate(94.50 211.30) scale(1 1.1)" text-anchor="middle" class="t">30</text>
<text transform="translate(105.00 211.30) scale(1 1.1)" text-anchor="middle" class="t">35</text>
<text transform="translate(115.50 211.30) scale(1 1.1)" text-anchor="middle" class="t">40</text>
<text transform="translate(126.00 211.30) scale(1 1.1)" text-anchor="middle" class="t">45</text>
<text transform="translate(136.50 211.30) scale(1 1.1)" text-anchor="middle" class="t">50</text>
<text transform="translate(24.25 205.70) scale(1 1.1)" text-anchor="end" class="t">0.125</text>
<text transform="translate(24.25 194.21) scale(1 1.1)" text-anchor="end" class="t">0.150</text>
<text transform="translate(24.25 182.73) scale(1 1.1)" text-anchor="end" class="t">0.175</text>
<text transform="translate(24.25 171.24) scale(1 1.1)" text-anchor="end" class="t">0.200</text>
<text transform="translate(24.25 159.76) scale(1 1.1)" text-anchor="end" class="t">0.225</text>
<text transform="translate(24.25 148.27) scale(1 1.1)" text-anchor="end" class="t">0.250</text>
<text transform="translate(24.25 136.79) scale(1 1.1)" text-anchor="end" class="t">0.275</text>
<text transform="translate(24.25 125.30) scale(1 1.1)" text-anchor="end" class="t">0.300</text>
<path d="M31.50 205.15v1.1M42.00 205.15v1.1M52.50 205.15v1.1M63.00 205.15v1.1M73.50 205.15v1.1M84.00 205.15v1.1M94.50 205.15v1.1M105.00 205.15v1.1M115.50 205.15v1.1M126.00 205.15v1.1M136.50 205.15v1.1M26.35 203.50h-1.1M26.35 192.01h-1.1M26.35 180.53h-1.1M26.35 169.04h-1.1M26.35 157.56h-1.1M26.35 146.07h-1.1M26.35 134.59h-1.1M26.35 123.10h-1.1" stroke="#777" stroke-width="0.5" fill="none"/>
<text transform="translate(82.95 216.70) scale(1 1.1)" text-anchor="middle" class="l">Epoch</text>
<text transform="translate(8.28 160.22) rotate(-90)" text-anchor="middle" class="l">MLP-HSSCA Train Loss P</text>
<rect x="90.55" y="116.30" width="47.00" height="15.6" rx="1" fill="#fff" fill-opacity="0.8" stroke="#e0e0e0" stroke-width="0.4"/>
<path d="M91.95 120.30h9.8" stroke="#3b87bd" stroke-width="1.0"/>
<path d="M91.95 127.10h9.8" stroke="#c8c8c8" stroke-width="0.85"/>
<text x="105.15" y="122.00" class="lg">correct key</text>
<text x="105.15" y="128.80" class="lg">wrong key</text>
<g clip-path="url(#c5)">
<path d="M166.7 199.5 170.5 196.5 175.1 193 180.2 189 186.1 184.5 190.9 180 195.1 176.5 200 172.5 209.1 167.5 215 163.1 224.1 158.6 233.1 154.1 245 150.4 257.2 144.5 269.5 140 269.5 141 260 144.5 257.2 146 252.7 148.5 245 152.3 242.2 153.2 237.7 155 233.1 156.8 228.6 159.5 224.1 161.8 219.5 164.5 215 166.8 209.1 170 200 175.4 195.1 180 190.9 183.4 186.1 187.8 180.2 193.8 175.1 197.3 170.5 200 166.7 202Z" fill="#e0e0e0"/>
<path d="M166.7 191.3 171.9 185 179.1 173.2 188.2 165.9 197.2 158.7 206.3 152.5 212 150.2 221.1 144.8 230.1 138.5 239.2 133.9 248.2 129.4 257.3 125.8 266.3 122.2 269.5 121.2 269.5 140 257.2 144.5 245 150.4 233.1 154.1 224.1 158.6 215 163.1 209.1 167.5 200 172.5 195.1 176.5 190.9 180 186.1 184.5 180.2 189 175.1 193 170.5 196.5 166.7 199.5Z" fill="#c0c0c0" stroke="#c0c0c0" stroke-width="0.4"/>
<path d="M166.7 200.7 168.8 199.3 170.9 198.1 173 196.9 175.1 195.6 177.2 194.1 179.3 192.5 181.4 190.1 183.5 188.5 185.6 186.9 187.7 185 189.8 183 191.9 181.2 194 179.3 196.1 177.3 198.2 174.8 200.3 173.9 202.4 172.9 204.5 171.4 206.6 170.6 208.7 169.4 210.8 168.1 212.9 166.2 215 165.2 217.1 164.3 219.3 163.9 221.4 162.1 223.5 161.5 225.6 160 227.7 158.9 229.8 158.2 231.9 156.2 234 155 236.1 155.6 238.2 154.7 240.3 153.5 242.4 153.1 244.5 152.4 246.6 150.3 248.7 150 250.8 149.2 252.9 147.5 255 146.4 257.1 145.7 259.2 144.2 261.3 143.1 263.4 142.7 265.5 141.6 267.6 141.4 269.7 140.2 M166.7 202.4 168.8 199.5 170.9 199 173 197.7 175.1 196.4 177.2 194.6 179.3 193 181.4 191.5 183.5 189.6 185.6 187.2 187.7 185.2 189.8 184 191.9 182.3 194 180.2 196.1 178.4 198.2 176.5 200.3 175.7 202.4 173.8 204.5 172.2 206.6 171.3 208.7 170.5 210.8 168.9 212.9 166.5 215 166 217.1 164.8 219.3 163.9 221.4 162.6 223.5 161.4 225.6 160 227.7 159.5 229.8 158 231.9 156.4 234 155.1 236.1 154.7 238.2 154.4 240.3 153.3 242.4 152.4 244.5 150.5 246.6 150.4 248.7 149.4 250.8 148.9 252.9 147.6 255 146.9 257.1 145.7 259.2 145.8 261.3 144.3 263.4 143.3 265.5 142.6 267.6 141.9 269.7 141.3 M166.7 201.2 168.8 200.1 170.9 198.5 173 198 175.1 196.4 177.2 194.8 179.3 192.4 181.4 190.5 183.5 188.2 185.6 187.2 187.7 185.4 189.8 183.7 191.9 182.1 194 179.8 196.1 178.2 198.2 176.5 200.3 175.1 202.4 173.3 204.5 172.6 206.6 171.1 208.7 169.6 210.8 168.9 212.9 167.2 215 165.9 217.1 165.4 219.3 163.9 221.4 162.7 223.5 161.5 225.6 160.8 227.7 159.3 229.8 158.7 231.9 157.4 234 156.9 236.1 155.9 238.2 155 240.3 154 242.4 153.3 244.5 152.2 246.6 152.4 248.7 150.4 250.8 149.5 252.9 148.5 255 146.5 257.1 145.4 259.2 144.5 261.3 143.3 263.4 142.2 265.5 141.6 267.6 141.6 269.7 140.6 M166.7 200.2 168.8 197.5 170.9 197.5 173 195.2 175.1 193.7 177.2 192.8 179.3 190.6 181.4 188.4 183.5 186.6 185.6 185.3 187.7 183.7 189.8 182 191.9 179.6 194 177.8 196.1 176.7 198.2 174.5 200.3 173.2 202.4 171.8 204.5 170.6 206.6 169.3 208.7 168.2 210.8 166.6 212.9 165 215 163.6 217.1 162.4 219.3 161.5 221.4 160.4 223.5 159.3 225.6 157.8 227.7 156.6 229.8 156.2 231.9 154.5 234 153.4 236.1 152.8 238.2 152.5 240.3 151.6 242.4 151.1 244.5 150.4 246.6 149.8 248.7 148.6 250.8 147.6 252.9 145.7 255 145 257.1 143.7 259.2 144 261.3 143.1 263.4 142.4 265.5 141.2 267.6 140.8 269.7 139.8 M166.7 201.7 168.8 199.2 170.9 198.9 173 198 175.1 195.9 177.2 195.2 179.3 193.3 181.4 191.2 183.5 189.2 185.6 187.1 187.7 184.6 189.8 183.9 191.9 181.2 194 179.3 196.1 178.1 198.2 175.9 200.3 174.5 202.4 172.8 204.5 171.6 206.6 170.3 208.7 169.1 210.8 167.7 212.9 166.3 215 165.8 217.1 163.8 219.3 162.9 221.4 161.9 223.5 161 225.6 159.8 227.7 159.1 229.8 157.2 231.9 156.4 234 155.2 236.1 154.4 238.2 153.8 240.3 152.3 242.4 152.3 244.5 151.5 246.6 149.9 248.7 149.2 250.8 148.9 252.9 147.1 255 146.3 257.1 144.7 259.2 143.4 261.3 142.4 263.4 142.2 265.5 141.9 267.6 140.8 269.7 139.7 M166.7 199.8 168.8 198.4 170.9 196 173 194.7 175.1 193.2 177.2 191.5 179.3 189.9 181.4 187.9 183.5 186.3 185.6 185.1 187.7 182.6 189.8 180.1 191.9 178.9 194 177.3 196.1 175 198.2 173.4 200.3 171.6 202.4 170.5 204.5 169.8 206.6 168.4 208.7 167.1 210.8 165.6 212.9 163.9 215 163.3 217.1 162.3 219.3 161.7 221.4 160.8 223.5 159.3 225.6 158.4 227.7 156.5 229.8 156.4 231.9 155.2 234 154.6 236.1 153.5 238.2 152.8 240.3 152.4 242.4 151 244.5 150.5 246.6 149.9 248.7 148.2 250.8 147 252.9 146.3 255 145.1 257.1 144.4 259.2 143.5 261.3 142.2 263.4 141.8 265.5 141.3 267.6 140.1 269.7 139.5 M166.7 201.4 168.8 199.9 170.9 197.8 173 196.4 175.1 195.4 177.2 193.6 179.3 191.6 181.4 190.2 183.5 188.3 185.6 186.4 187.7 185.4 189.8 183 191.9 181 194 179.1 196.1 178.2 198.2 175.8 200.3 173.4 202.4 172.8 204.5 171.5 206.6 170.1 208.7 169.4 210.8 167.7 212.9 166 215 164.5 217.1 163.8 219.3 161.8 221.4 161.7 223.5 160.3 225.6 159.2 227.7 157.1 229.8 157.5 231.9 155.4 234 154.5 236.1 154.4 238.2 153.2 240.3 152.3 242.4 151 244.5 150.7 246.6 150 248.7 149.3 250.8 148 252.9 147.2 255 146.3 257.1 144.9 259.2 144.2 261.3 144.2 263.4 142.4 265.5 142.4 267.6 141.2 269.7 140.9 M166.7 201.1 168.8 200.8 170.9 198.5 173 197.5 175.1 197 177.2 194.5 179.3 192.7 181.4 191.3 183.5 189.3 185.6 187.2 187.7 184.2 189.8 182.9 191.9 180.4 194 180 196.1 177.7 198.2 175.5 200.3 174 202.4 172.9 204.5 170.9 206.6 170.7 208.7 168.8 210.8 166.8 212.9 166.5 215 165 217.1 163.9 219.3 162.4 221.4 160.6 223.5 160.2 225.6 159.3 227.7 157.6 229.8 156.9 231.9 154.8 234 154 236.1 153.2 238.2 151.8 240.3 151 242.4 150.8 244.5 150.4 246.6 149.7 248.7 148.3 250.8 147.3 252.9 146.4 255 145.5 257.1 144.6 259.2 143.5 261.3 142.5 263.4 141.7 265.5 140.7 267.6 140.3 269.7 139.2 M166.7 200.4 168.8 197.9 170.9 196.5 173 194.6 175.1 193.5 177.2 192.1 179.3 190.5 181.4 188.4 183.5 186.5 185.6 184.9 187.7 182.9 189.8 181.5 191.9 179.8 194 176.8 196.1 174.9 198.2 174.3 200.3 171.7 202.4 171.3 204.5 169.5 206.6 169 208.7 167.8 210.8 166 212.9 164.8 215 163 217.1 162.4 219.3 161.7 221.4 160.5 223.5 158.7 225.6 157.8 227.7 156.8 229.8 155.8 231.9 154.8 234 153.6 236.1 153.3 238.2 152.5 240.3 152 242.4 151.4 244.5 151 246.6 149.2 248.7 149.1 250.8 147.4 252.9 146.4 255 145.5 257.1 144.4 259.2 143.3 261.3 142.4 263.4 141.4 265.5 140.3 267.6 140.3 269.7 139.4 M166.7 200.8 168.8 199.7 170.9 197.8 173 196.3 175.1 195.7 177.2 193.8 179.3 191.9 181.4 190.8 183.5 188.5 185.6 186.1 187.7 184.9 189.8 182.9 191.9 181.7 194 179.3 196.1 177.5 198.2 175.8 200.3 174 202.4 172.1 204.5 171.5 206.6 170 208.7 169.2 210.8 168.2 212.9 165.6 215 164.2 217.1 163.1 219.3 162 221.4 161.1 223.5 160.1 225.6 159.6 227.7 157.5 229.8 156.4 231.9 155.1 234 155.2 236.1 154.7 238.2 153 240.3 152.3 242.4 152.1 244.5 152 246.6 151.2 248.7 149.9 250.8 149 252.9 147.9 255 146.6 257.1 146.5 259.2 144.9 261.3 143.7 263.4 143 265.5 142.1 267.6 142.1 269.7 141.7 M166.7 200.9 168.8 200 170.9 198 173 196.3 175.1 194.5 177.2 193.4 179.3 191.4 181.4 190.3 183.5 188.8 185.6 185.7 187.7 184 189.8 182.9 191.9 181.5 194 179.6 196.1 177.8 198.2 176.2 200.3 174.5 202.4 173.9 204.5 172.5 206.6 170.5 208.7 169.6 210.8 168.8 212.9 167.2 215 166.1 217.1 165 219.3 164 221.4 163.3 223.5 161.7 225.6 160.3 227.7 159.4 229.8 158.6 231.9 158 234 156.5 236.1 156.2 238.2 155.2 240.3 153.6 242.4 153.9 244.5 152.9 246.6 151.9 248.7 151 250.8 151.1 252.9 148.8 255 148 257.1 147.6 259.2 146.4 261.3 144.8 263.4 144.4 265.5 143.7 267.6 143 269.7 142.7 M166.7 201.6 168.8 199.6 170.9 198.4 173 197.9 175.1 196.1 177.2 194.2 179.3 191.7 181.4 190.5 183.5 188.3 185.6 186.5 187.7 185.1 189.8 182.1 191.9 180.9 194 179.1 196.1 177 198.2 175.8 200.3 173.1 202.4 172.4 204.5 171.3 206.6 169.1 208.7 168.3 210.8 167.3 212.9 166.6 215 165 217.1 163.8 219.3 162.6 221.4 160.6 223.5 160.3 225.6 159 227.7 158.5 229.8 157.4 231.9 156.5 234 155 236.1 154.5 238.2 153.1 240.3 152.8 242.4 151.5 244.5 151.6 246.6 149.9 248.7 149.3 250.8 148 252.9 147.2 255 146.3 257.1 144.9 259.2 144.5 261.3 143.3 263.4 143.3 265.5 141.6 267.6 141.6 269.7 141.1 M166.7 200.4 168.8 199.4 170.9 198 173 197.7 175.1 195.4 177.2 193.2 179.3 192.6 181.4 191.6 183.5 188.1 185.6 187.6 187.7 184.7 189.8 183.2 191.9 180.7 194 179.4 196.1 177.4 198.2 175.8 200.3 173.6 202.4 173.7 204.5 171.8 206.6 170.9 208.7 169.8 210.8 168.2 212.9 167.4 215 166.2 217.1 165 219.3 164.1 221.4 163 223.5 161.5 225.6 160.3 227.7 159.4 229.8 158.8 231.9 158.1 234 157.3 236.1 156.1 238.2 155.5 240.3 154.2 242.4 153.9 244.5 152.8 246.6 152 248.7 150.7 250.8 149.6 252.9 149.2 255 146.6 257.1 145.9 259.2 144.5 261.3 144.4 263.4 144 265.5 142.5 267.6 140.8 269.7 141.5 M166.7 200.4 168.8 198.7 170.9 196.8 173 195.2 175.1 195 177.2 193.3 179.3 190.7 181.4 189.3 183.5 187.7 185.6 186.3 187.7 183.5 189.8 182 191.9 180.5 194 177.4 196.1 176.2 198.2 174.7 200.3 172.7 202.4 172.5 204.5 170.6 206.6 169.2 208.7 167.3 210.8 166.4 212.9 165 215 163.3 217.1 162.2 219.3 160.7 221.4 160.2 223.5 159.4 225.6 158.4 227.7 157.3 229.8 156.1 231.9 154.6 234 153.4 236.1 153.5 238.2 152.4 240.3 151.1 242.4 150.8 244.5 150.4 246.6 149.5 248.7 148.3 250.8 147.1 252.9 146.5 255 145.9 257.1 144.1 259.2 142.6 261.3 141.9 263.4 140.6 265.5 140.3 267.6 139.3 269.7 139.1 M166.7 197.8 168.8 195.7 170.9 193.4 173 191.8 175.1 190.1 177.2 187.9 179.3 184.9 181.4 184.4 183.5 182 185.6 179.8 187.7 178.3 189.8 176.1 191.9 174.4 194 172.5 196.1 170.8 198.2 169.1 200.3 166.9 202.4 166.5 204.5 164.8 206.6 164.3 208.7 162.9 210.8 161.5 212.9 160 215 158.8 217.1 157 219.3 155.9 221.4 155.3 223.5 152.8 225.6 152.3 227.7 151.2 229.8 149.6 231.9 148.9 234 147.7 236.1 146.8 238.2 145.7 240.3 145.3 242.4 143.8 244.5 143.1 246.6 142.4 248.7 141.2 250.8 140.6 252.9 138.9 255 137.3 257.1 137 259.2 136.3 261.3 135.1 263.4 134.8 265.5 134 267.6 132.2 269.7 131.7 M166.7 193.5 168.8 191.7 170.9 189.3 173 185.7 175.1 183.2 177.2 179.8 179.3 177.6 181.4 176.2 183.5 174.3 185.6 172.9 187.7 171 189.8 168.8 191.9 167.2 194 166.3 196.1 165 198.2 163.9 200.3 161.9 202.4 160.9 204.5 159.8 206.6 158.9 208.7 157.7 210.8 156.2 212.9 156 215 154.4 217.1 153.4 219.3 151.7 221.4 151.3 223.5 149.7 225.6 148.4 227.7 147.9 229.8 146.6 231.9 146.1 234 145.7 236.1 144.8 238.2 144.7 240.3 143.3 242.4 143.1 244.5 141.8 246.6 141.7 248.7 140.8 250.8 140.1 252.9 139.6 255 138 257.1 138 259.2 137.2 261.3 136.7 263.4 136.2 265.5 135.1 267.6 134.5 269.7 133.6 M166.7 193.9 168.8 191.9 170.9 189.3 173 186.9 175.1 184.2 177.2 181.6 179.3 178.7 181.4 177.1 183.5 175.3 185.6 174.1 187.7 172.1 189.8 171.4 191.9 169.1 194 167.6 196.1 166.2 198.2 164.5 200.3 163.1 202.4 161.5 204.5 160.1 206.6 158.7 208.7 158.1 210.8 157.6 212.9 155.8 215 154.6 217.1 153.2 219.3 152.5 221.4 151.7 223.5 149.6 225.6 149.1 227.7 147.6 229.8 146 231.9 145.3 234 143.7 236.1 143.7 238.2 142.6 240.3 141.1 242.4 141.2 244.5 139.9 246.6 139.3 248.7 137.3 250.8 136.8 252.9 135.8 255 135.2 257.1 134.6 259.2 132.6 261.3 132.5 263.4 131.6 265.5 131.4 267.6 130.4 269.7 129.2 M166.7 191.8 168.8 188.9 170.9 185.9 173 183 175.1 179.7 177.2 176.7 179.3 173.5 181.4 171.5 183.5 170 185.6 168.5 187.7 166.8 189.8 164.3 191.9 163.3 194 161.3 196.1 160 198.2 160.1 200.3 157.6 202.4 156 204.5 154.7 206.6 153.2 208.7 152.1 210.8 151.7 212.9 150.6 215 150.1 217.1 147.6 219.3 146.9 221.4 146.1 223.5 143.1 225.6 142.8 227.7 140.5 229.8 140 231.9 139.5 234 137.7 236.1 136.7 238.2 135.6 240.3 134.9 242.4 134.2 244.5 132.7 246.6 131.9 248.7 131.2 250.8 130.6 252.9 128.9 255 128.6 257.1 127.6 259.2 127.4 261.3 126.8 263.4 125.9 265.5 125.4 267.6 123.9 269.7 123.7 M166.7 197.6 168.8 195.9 170.9 193.4 173 192.4 175.1 189.5 177.2 187.5 179.3 184.8 181.4 183 183.5 180.9 185.6 178.6 187.7 176.8 189.8 174.3 191.9 172.3 194 170.1 196.1 168.5 198.2 167 200.3 164.6 202.4 163.1 204.5 161.3 206.6 159.4 208.7 158 210.8 156.7 212.9 155.4 215 153.8 217.1 153.1 219.3 151 221.4 149.2 223.5 148.6 225.6 146.7 227.7 145.1 229.8 144.6 231.9 143 234 141.3 236.1 140.2 238.2 139.1 240.3 138.2 242.4 136.5 244.5 135.5 246.6 134.3 248.7 133.8 250.8 132.7 252.9 130.6 255 130.2 257.1 128.4 259.2 127.7 261.3 126.2 263.4 125.3 265.5 124 267.6 122.8 269.7 122.1 M166.7 193.6 168.8 191.7 170.9 189.3 173 186.6 175.1 182.7 177.2 180.7 179.3 177.5 181.4 175.5 183.5 174.4 185.6 172.4 187.7 170.8 189.8 168.2 191.9 167.5 194 165.3 196.1 163 198.2 162.6 200.3 160.9 202.4 159.2 204.5 158 206.6 155.9 208.7 155.7 210.8 154.6 212.9 153.3 215 152.6 217.1 151 219.3 149.8 221.4 148.4 223.5 147.5 225.6 146.7 227.7 144.7 229.8 142.9 231.9 142.7 234 141.2 236.1 140.2 238.2 140.1 240.3 138 242.4 137.7 244.5 135.9 246.6 135.5 248.7 134.8 250.8 134.1 252.9 132.5 255 132.3 257.1 131.6 259.2 130.3 261.3 130.3 263.4 128.5 265.5 127.6 267.6 127.2 269.7 125.7" fill="none" stroke="#c2c2c2" stroke-width="0.5"/>
<path d="M166.7 189.5 168.2 186.8 171.9 183.1 175.5 176.8 179.1 171.4 182.7 165.9 185.5 167.7 188.2 164.1 190.9 165 193.6 162.3 197.2 156.9 199.9 156.9 202.7 154.2 208.1 150.5 212 147.5 215.6 143.9 219.2 141.2 222.9 143 226.5 139.4 230.1 136.6 233.7 133.9 237.4 133 239.2 132.1 242.8 129.4 246.4 127.6 250 126.7 253.7 124.9 256.4 122.2 259.1 126.7 261.8 122.2 264.5 119.4 267.3 120.3 269.5 118.5" fill="none" stroke="#3b87bd" stroke-width="1.0" stroke-linejoin="round"/>
</g>
<rect x="161.6" y="114.5" width="113.2" height="90.7" fill="none" stroke="#999" stroke-width="0.65"/>
<text transform="translate(166.75 211.30) scale(1 1.1)" text-anchor="middle" class="t">0</text>
<text transform="translate(177.25 211.30) scale(1 1.1)" text-anchor="middle" class="t">5</text>
<text transform="translate(187.75 211.30) scale(1 1.1)" text-anchor="middle" class="t">10</text>
<text transform="translate(198.25 211.30) scale(1 1.1)" text-anchor="middle" class="t">15</text>
<text transform="translate(208.75 211.30) scale(1 1.1)" text-anchor="middle" class="t">20</text>
<text transform="translate(219.25 211.30) scale(1 1.1)" text-anchor="middle" class="t">25</text>
<text transform="translate(229.75 211.30) scale(1 1.1)" text-anchor="middle" class="t">30</text>
<text transform="translate(240.25 211.30) scale(1 1.1)" text-anchor="middle" class="t">35</text>
<text transform="translate(250.75 211.30) scale(1 1.1)" text-anchor="middle" class="t">40</text>
<text transform="translate(261.25 211.30) scale(1 1.1)" text-anchor="middle" class="t">45</text>
<text transform="translate(271.75 211.30) scale(1 1.1)" text-anchor="middle" class="t">50</text>
<text transform="translate(159.50 207.20) scale(1 1.1)" text-anchor="end" class="t">0.45</text>
<text transform="translate(159.50 196.70) scale(1 1.1)" text-anchor="end" class="t">0.50</text>
<text transform="translate(159.50 186.20) scale(1 1.1)" text-anchor="end" class="t">0.55</text>
<text transform="translate(159.50 175.70) scale(1 1.1)" text-anchor="end" class="t">0.60</text>
<text transform="translate(159.50 165.20) scale(1 1.1)" text-anchor="end" class="t">0.65</text>
<text transform="translate(159.50 154.70) scale(1 1.1)" text-anchor="end" class="t">0.70</text>
<text transform="translate(159.50 144.20) scale(1 1.1)" text-anchor="end" class="t">0.75</text>
<text transform="translate(159.50 133.70) scale(1 1.1)" text-anchor="end" class="t">0.80</text>
<text transform="translate(159.50 123.20) scale(1 1.1)" text-anchor="end" class="t">0.85</text>
<path d="M166.75 205.15v1.1M177.25 205.15v1.1M187.75 205.15v1.1M198.25 205.15v1.1M208.75 205.15v1.1M219.25 205.15v1.1M229.75 205.15v1.1M240.25 205.15v1.1M250.75 205.15v1.1M261.25 205.15v1.1M271.75 205.15v1.1M161.60 205.00h-1.1M161.60 194.50h-1.1M161.60 184.00h-1.1M161.60 173.50h-1.1M161.60 163.00h-1.1M161.60 152.50h-1.1M161.60 142.00h-1.1M161.60 131.50h-1.1M161.60 121.00h-1.1" stroke="#777" stroke-width="0.5" fill="none"/>
<text transform="translate(218.20 216.70) scale(1 1.1)" text-anchor="middle" class="l">Epoch</text>
<text transform="translate(146.55 160.22) rotate(-90)" text-anchor="middle" class="l">MLP-HSSCA Train Accuracy P</text>
<rect x="164.20" y="116.30" width="47.00" height="15.6" rx="1" fill="#fff" fill-opacity="0.8" stroke="#e0e0e0" stroke-width="0.4"/>
<path d="M165.60 120.30h9.8" stroke="#3b87bd" stroke-width="1.0"/>
<path d="M165.60 127.10h9.8" stroke="#c8c8c8" stroke-width="0.85"/>
<text x="178.80" y="122.00" class="lg">correct key</text>
<text x="178.80" y="128.80" class="lg">wrong key</text>
<g clip-path="url(#c6)">
<path d="M303.2 183.5 405.5 183.8 405.5 192 303.2 185.2Z" fill="#c0c0c0"/>
<path d="M302.5 182.4 304.6 182.6 306.7 183.4 308.8 183.6 310.9 183.9 313 183.5 315.1 183.9 317.2 183.6 319.3 183.5 323.5 183.8 327.7 184 334 183.6 344.5 184 355.1 184.1 365.6 184 376.1 184.7 386.6 184.7 397.1 184 405.5 184.7 M302.5 158.6 304.6 182.8 306.7 183.9 308.8 183.9 310.9 184.6 313 184.6 315.1 184.2 317.2 184.6 319.3 184.2 323.5 184.6 327.7 185.2 334 184.9 344.5 185.5 355.1 185.5 365.6 185.5 376.1 185.5 386.6 186.3 397.1 186.3 405.5 186.5 M302.5 183.5 304.6 184.3 306.7 184 308.8 183.9 310.9 184.1 313 184.2 315.1 184.2 317.2 184.1 319.3 183.8 323.5 183.7 327.7 184.1 334 184.2 344.5 184.1 355.1 183.6 365.6 183.7 376.1 183.7 386.6 183.6 397.1 183.6 405.5 183.7 M302.5 134.6 304.6 170.1 306.7 180.1 308.8 183.7 310.9 184.7 313 185.2 315.1 185.6 317.2 186 319.3 185.9 323.5 186.3 327.7 186.2 334 187 344.5 187.5 355.1 187.8 365.6 188.4 376.1 188.8 386.6 189.1 397.1 190.1 405.5 190.1 M302.5 161.1 304.6 182.2 306.7 184 308.8 184.4 310.9 184.8 313 184.7 315.1 185.1 317.2 185.3 319.3 185.7 323.5 186.2 327.7 186.6 334 187.1 344.5 188.1 355.1 188.4 365.6 188.9 376.1 189.7 386.6 190.4 397.1 190.8 405.5 191.1 M302.5 174.4 304.6 182.3 306.7 183.2 308.8 183.6 310.9 183.6 313 183.4 315.1 183.3 317.2 183.9 319.3 183.7 323.5 183.8 327.7 183.9 334 184.2 344.5 184.5 355.1 184.6 365.6 185.3 376.1 185.3 386.6 185.9 397.1 186.1 405.5 186 M302.5 127.5 304.6 181.1 306.7 183.7 308.8 183.8 310.9 183.9 313 184.2 315.1 184.4 317.2 184.4 319.3 184.2 323.5 184.6 327.7 184.3 334 184.9 344.5 184.9 355.1 185.7 365.6 185.9 376.1 185.9 386.6 186.1 397.1 186.4 405.5 186.1 M302.5 181.9 304.6 183.5 306.7 184.2 308.8 183.9 310.9 184.3 313 184.2 315.1 184.2 317.2 184.7 319.3 184.5 323.5 184.6 327.7 184.9 334 185.2 344.5 185.8 355.1 186 365.6 186.4 376.1 186.2 386.6 186.6 397.1 187.2 405.5 187.1 M302.5 175.7 304.6 184.3 306.7 185.2 308.8 185.7 310.9 186 313 186.1 315.1 186.2 317.2 186.4 319.3 186.4 323.5 186.7 327.7 187.1 334 187.3 344.5 188.2 355.1 187.9 365.6 189.1 376.1 189.1 386.6 189.4 397.1 189.8 405.5 190.1 M302.5 183.5 304.6 184.4 306.7 184.3 308.8 185 310.9 185.2 313 185.4 315.1 185.5 317.2 185.6 319.3 185.8 323.5 186 327.7 186.3 334 186.6 344.5 186.9 355.1 187.9 365.6 187.8 376.1 188.7 386.6 188.9 397.1 189.4 405.5 189.8 M302.5 168.9 304.6 182.5 306.7 183.1 308.8 183.3 310.9 183.7 313 184 315.1 184 317.2 184.6 319.3 184.4 323.5 184.6 327.7 184.9 334 185.1 344.5 185.9 355.1 185.7 365.6 186 376.1 186.9 386.6 186.9 397.1 186.9 405.5 187.4 M302.5 125.3 304.6 167 306.7 179.8 308.8 183.6 310.9 184.9 313 185.5 315.1 186 317.2 185.6 319.3 186.3 323.5 186.7 327.7 186.7 334 187.4 344.5 188.2 355.1 188.5 365.6 189.5 376.1 189.7 386.6 190.1 397.1 190.7 405.5 191.3 M302.5 162.8 304.6 174.5 306.7 180.1 308.8 182.9 310.9 184.1 313 184.8 315.1 185 317.2 185.6 319.3 185.9 323.5 186.1 327.7 186.4 334 186.7 344.5 187.7 355.1 188 365.6 188.3 376.1 188.3 386.6 188.8 397.1 189.1 405.5 189.2 M302.5 170.1 304.6 182.4 306.7 183.7 308.8 183.7 310.9 183.8 313 184 315.1 184.5 317.2 184.2 319.3 184.3 323.5 183.9 327.7 184.3 334 184.8 344.5 185.4 355.1 185.4 365.6 186 376.1 186 386.6 186.2 397.1 186.6 405.5 186.6 M302.5 165.6 304.6 180.1 306.7 183.3 308.8 184.1 310.9 184.4 313 184.4 315.1 184.8 317.2 185.3 319.3 184.7 323.5 185.1 327.7 185.4 334 185.5 344.5 186.6 355.1 186.7 365.6 187.1 376.1 187 386.6 187.9 397.1 188 405.5 187.8 M302.5 153.2 304.6 177.4 306.7 182.5 308.8 183.9 310.9 184.4 313 184.3 315.1 184.8 317.2 184.5 319.3 184.8 323.5 184.6 327.7 185.1 334 185.4 344.5 185.4 355.1 185.5 365.6 186.5 376.1 186.3 386.6 186.4 397.1 187.1 405.5 187.1 M302.5 168.7 304.6 180.5 306.7 183.9 308.8 184.4 310.9 184.8 313 184.3 315.1 184.5 317.2 185.2 319.3 184.6 323.5 185 327.7 185.4 334 185.4 344.5 185.9 355.1 186.5 365.6 187 376.1 187.1 386.6 187.2 397.1 187.5 405.5 187.8 M302.5 130.6 304.6 182.7 306.7 184.8 308.8 185.4 310.9 185.9 313 185.7 315.1 185.9 317.2 186 319.3 186.3 323.5 186.9 327.7 187.2 334 188.1 344.5 188.5 355.1 188.6 365.6 189.1 376.1 189.8 386.6 190.5 397.1 190.9 405.5 191.3 M302.5 182.6 304.6 183.5 306.7 183.9 308.8 184.1 310.9 184.3 313 184.6 315.1 184.2 317.2 184.3 319.3 184.3 323.5 184 327.7 184.3 334 184.7 344.5 184.6 355.1 185.2 365.6 184.8 376.1 185.1 386.6 185.3 397.1 185.2 405.5 185.1 M302.5 122.8 304.6 168.8 306.7 180.2 308.8 183.5 310.9 184.1 313 184.6 315.1 184.8 317.2 184.4 319.3 184.8 323.5 185.5 327.7 185.2 334 185.6 344.5 185.9 355.1 186.1 365.6 186.3 376.1 186.4 386.6 186.8 397.1 187.3 405.5 187.1 M302.5 181.8 304.6 183.4 306.7 184 308.8 183.9 310.9 184.2 313 184.2 315.1 184.3 317.2 184 319.3 183.8 323.5 184.3 327.7 183.9 334 184.7 344.5 184.5 355.1 184.6 365.6 184 376.1 184.6 386.6 184.3 397.1 185 405.5 184.6 M302.5 119.7 304.6 175.3 306.7 182.6 308.8 184.1 310.9 183.9 313 183.7 315.1 184.2 317.2 183.9 319.3 184.2 323.5 184.2 327.7 184.1 334 184.6 344.5 184 355.1 184.7 365.6 184.9 376.1 185.2 386.6 185.2 397.1 185.4 405.5 185.8 M302.5 163.4 304.6 182.7 306.7 183.5 308.8 183.4 310.9 183.9 313 183.5 315.1 183.7 317.2 183.8 319.3 183.8 323.5 183.6 327.7 183.7 334 183.7 344.5 184.2 355.1 184.2 365.6 184.5 376.1 184.5 386.6 184.5 397.1 184.6 405.5 184.4 M302.5 183.1 304.6 183.4 306.7 183.8 308.8 183.9 310.9 184.3 313 184.7 315.1 184.9 317.2 184.3 319.3 184.8 323.5 185 327.7 185.3 334 185.7 344.5 185.4 355.1 186.7 365.6 186.9 376.1 187.2 386.6 187.8 397.1 188.2 405.5 188.3 M302.5 183.5 304.6 183.5 306.7 183.8 308.8 184.4 310.9 184.9 313 184.1 315.1 184.3 317.2 184.6 319.3 184.3 323.5 184.8 327.7 184.8 334 185.2 344.5 185.2 355.1 185.6 365.6 185.8 376.1 185.7 386.6 186.1 397.1 186.6 405.5 186.3 M302.5 183.8 304.6 184.4 306.7 184.7 308.8 185.2 310.9 184.9 313 185.8 315.1 186 317.2 185.6 319.3 185.7 323.5 186.6 327.7 187 334 187.6 344.5 187.8 355.1 188.7 365.6 189.5 376.1 189.7 386.6 190 397.1 190.7 405.5 190.7 M302.5 180.9 304.6 183.3 306.7 183.6 308.8 183.9 310.9 183.9 313 183.9 315.1 184.3 317.2 184.7 319.3 184.1 323.5 184.5 327.7 184.9 334 185 344.5 185.4 355.1 186.1 365.6 186 376.1 186.5 386.6 186.4 397.1 186.7 405.5 186.6 M302.5 182.9 304.6 183.4 306.7 184.1 308.8 184.5 310.9 184.6 313 184.9 315.1 185.2 317.2 185.1 319.3 185.1 323.5 185.7 327.7 186.3 334 186.4 344.5 186.5 355.1 187.6 365.6 187.6 376.1 188.4 386.6 188.5 397.1 189.1 405.5 189.8 M302.5 133.9 304.6 181.2 306.7 183.8 308.8 184.2 310.9 184.1 313 184.9 315.1 185.2 317.2 185.5 319.3 185.9 323.5 186.3 327.7 186.2 334 187.3 344.5 187.3 355.1 188.2 365.6 189.1 376.1 189.9 386.6 190.2 397.1 190.8 405.5 190.9 M302.5 181.6 304.6 183.7 306.7 184.1 308.8 184 310.9 183.9 313 183.7 315.1 183.5 317.2 183.6 319.3 184 323.5 183.7 327.7 184.2 334 184.4 344.5 183.9 355.1 184.8 365.6 184.8 376.1 184.9 386.6 184.6 397.1 185.1 405.5 184.9 M302.5 182.7 304.6 184.1 306.7 184.2 308.8 183.8 310.9 183.9 313 184 315.1 184 317.2 184.2 319.3 184 323.5 184.3 327.7 184.5 334 184.5 344.5 184.3 355.1 184.4 365.6 184.3 376.1 185 386.6 184.7 397.1 184.6 405.5 185 M302.5 179.6 304.6 184 306.7 184.9 308.8 185.3 310.9 185.6 313 185.8 315.1 186.1 317.2 186.1 319.3 186.8 323.5 186.5 327.7 186.9 334 187.3 344.5 188.6 355.1 189.6 365.6 189.9 376.1 190.4 386.6 190.8 397.1 191.6 405.5 191.9 M302.5 183.6 304.6 184.3 306.7 185.1 308.8 185.2 310.9 185.1 313 185.7 315.1 185.6 317.2 186 319.3 186.1 323.5 186.4 327.7 186.9 334 187.3 344.5 187.6 355.1 188.3 365.6 188.8 376.1 189.7 386.6 189.9 397.1 190 405.5 190.4 M302.5 145.5 304.6 166.7 306.7 176.1 308.8 181 310.9 182.9 313 184.5 315.1 184.8 317.2 185.4 319.3 185.3 323.5 185.6 327.7 186.2 334 186.5 344.5 187 355.1 187.7 365.6 188 376.1 188.4 386.6 188.4 397.1 188.6 405.5 189.3 M302.5 146.1 304.6 170.5 306.7 179 308.8 182.1 310.9 182.7 313 183.5 315.1 183.5 317.2 183.8 319.3 183.8 323.5 183.7 327.7 183.8 334 183.7 344.5 183.9 355.1 184.3 365.6 184.5 376.1 183.9 386.6 184.3 397.1 183.9 405.5 184.2 M302.5 150 304.6 182.2 306.7 183.4 308.8 184 310.9 183.6 313 184.2 315.1 184.2 317.2 184.7 319.3 184.8 323.5 184.1 327.7 184.4 334 184.7 344.5 185.7 355.1 185.5 365.6 185.7 376.1 186.1 386.6 186.3 397.1 186.8 405.5 186.8 M302.5 175.2 304.6 180.8 306.7 182.8 308.8 183.5 310.9 184 313 184.1 315.1 184.7 317.2 184.5 319.3 184.3 323.5 184.8 327.7 184.9 334 185.2 344.5 184.9 355.1 185.5 365.6 185.8 376.1 185.7 386.6 185.8 397.1 186.1 405.5 186.2 M302.5 182.9 304.6 183.2 306.7 183.6 308.8 183.7 310.9 183.6 313 183.9 315.1 184.2 317.2 184.1 319.3 184.3 323.5 184.5 327.7 184.1 334 184.5 344.5 184.7 355.1 184.8 365.6 184.5 376.1 184.8 386.6 184.6 397.1 185 405.5 185.2 M302.5 135.1 304.6 164.7 306.7 176.1 308.8 180.6 310.9 182.1 313 182.9 315.1 183.4 317.2 183.5 319.3 183.7 323.5 183.3 327.7 183.6 334 183.5 344.5 184.2 355.1 184.3 365.6 184.3 376.1 184.6 386.6 184.7 397.1 185.1 405.5 184.8 M302.5 162.1 304.6 182.2 306.7 183.6 308.8 183.6 310.9 183.4 313 183.5 315.1 183.8 317.2 183.1 319.3 183.3 323.5 183.7 327.7 184 334 183.6 344.5 183.3 355.1 183.7 365.6 183.7 376.1 184.2 386.6 184 397.1 184.5 405.5 183.7 M302.5 152.7 304.6 182.8 306.7 184.6 308.8 184.5 310.9 185.1 313 185.7 315.1 185.5 317.2 185.9 319.3 185.9 323.5 185.8 327.7 186.2 334 186.6 344.5 186.8 355.1 187.4 365.6 187.5 376.1 188 386.6 188.1 397.1 188.6 405.5 188.6 M302.5 182.9 304.6 183.5 306.7 184.6 308.8 184.8 310.9 185.1 313 185.4 315.1 185.4 317.2 185.8 319.3 186 323.5 186.5 327.7 186.7 334 187.2 344.5 187.2 355.1 188.5 365.6 189 376.1 189.3 386.6 189.5 397.1 190.7 405.5 191 M302.5 183.3 304.6 183.8 306.7 184.4 308.8 184.5 310.9 185 313 185.2 315.1 185.2 317.2 185.6 319.3 185.7 323.5 186.3 327.7 186.6 334 186.8 344.5 187.6 355.1 188.3 365.6 188.6 376.1 189.1 386.6 189.8 397.1 190.4 405.5 190.4 M302.5 139.4 304.6 162.6 306.7 173.9 308.8 179 310.9 181.8 313 183.1 315.1 184 317.2 184.7 319.3 184.6 323.5 185.3 327.7 185.4 334 185.9 344.5 185.7 355.1 186.1 365.6 186.7 376.1 186.9 386.6 187.1 397.1 187.3 405.5 187.4 M302.5 182.3 304.6 182.9 306.7 183.6 308.8 184.2 310.9 184.4 313 184.4 315.1 184.8 317.2 185.6 319.3 185.4 323.5 186.2 327.7 186.1 334 186.6 344.5 186.9 355.1 187.3 365.6 188.1 376.1 188.4 386.6 188.7 397.1 189.2 405.5 189.5 M302.5 183.1 304.6 184.2 306.7 184.4 308.8 184.9 310.9 184.8 313 185.3 315.1 185.3 317.2 185.5 319.3 185.1 323.5 186 327.7 186.3 334 186.3 344.5 187.2 355.1 187.5 365.6 188.5 376.1 188.4 386.6 188.8 397.1 189.5 405.5 189.2 M302.5 174.1 304.6 183.5 306.7 183.5 308.8 183.4 310.9 183.8 313 184 315.1 183.7 317.2 183.9 319.3 183.6 323.5 183.7 327.7 183.8 334 183.7 344.5 183.6 355.1 183.5 365.6 184 376.1 183.8 386.6 184 397.1 184.2 405.5 183.7 M302.5 161.8 304.6 173.9 306.7 179.6 308.8 182.1 310.9 183 313 183.5 315.1 184.1 317.2 184 319.3 184.4 323.5 184.3 327.7 184.6 334 184.2 344.5 185 355.1 185.1 365.6 185.3 376.1 185.7 386.6 185.6 397.1 186 405.5 186.2 M302.5 172.4 304.6 183.7 306.7 184.1 308.8 184.5 310.9 184.5 313 184.3 315.1 184.6 317.2 184.8 319.3 184.6 323.5 184.8 327.7 184.8 334 185.9 344.5 185.7 355.1 186.2 365.6 186.5 376.1 186.6 386.6 187.1 397.1 187.6 405.5 187.5 M302.5 176 304.6 181.8 306.7 183.5 308.8 184 310.9 184.7 313 184.8 315.1 185.4 317.2 185.1 319.3 185.6 323.5 186.3 327.7 185.7 334 186.3 344.5 187 355.1 187.6 365.6 188.5 376.1 188.6 386.6 189.5 397.1 189.3 405.5 190.1 M302.5 164.4 304.6 182.6 306.7 183.6 308.8 184.1 310.9 183.4 313 183.8 315.1 183.7 317.2 184.1 319.3 184.1 323.5 183.8 327.7 184.2 334 184.3 344.5 184.7 355.1 184.6 365.6 184.6 376.1 185.1 386.6 185.2 397.1 185.5 405.5 185 M302.5 140.9 304.6 178.5 306.7 183 308.8 183.1 310.9 183.6 313 183.7 315.1 183.5 317.2 183.4 319.3 183.8 323.5 183.4 327.7 183.5 334 183.7 344.5 184.3 355.1 183.8 365.6 183.6 376.1 184 386.6 183.4 397.1 184 405.5 184.3 M302.5 182.9 304.6 184.1 306.7 184.3 308.8 184.9 310.9 185.1 313 185.1 315.1 185.5 317.2 185.6 319.3 185.7 323.5 185.9 327.7 186.1 334 186.6 344.5 187.1 355.1 187.9 365.6 188.6 376.1 189.4 386.6 189.5 397.1 190.1 405.5 190.7 M302.5 184.1 304.6 184 306.7 184.9 308.8 185.3 310.9 185 313 185.7 315.1 186.1 317.2 186.1 319.3 186.2 323.5 186.3 327.7 186.5 334 187.3 344.5 187.4 355.1 187.5 365.6 188.6 376.1 188.9 386.6 189.1 397.1 189.3 405.5 190.1 M302.5 155 304.6 183.3 306.7 184.4 308.8 184.6 310.9 184.3 313 184.4 315.1 184.1 317.2 184.4 319.3 184.7 323.5 184.5 327.7 185.1 334 185.4 344.5 185.3 355.1 185.3 365.6 186.1 376.1 185.8 386.6 185.9 397.1 186.4 405.5 186.4 M302.5 161.1 304.6 182.1 306.7 184.3 308.8 185.4 310.9 185.7 313 185.4 315.1 186 317.2 186.2 319.3 186.5 323.5 187 327.7 187.2 334 187.8 344.5 188.6 355.1 189 365.6 190.1 376.1 190.1 386.6 191.5 397.1 191 405.5 192.3 M302.5 150.8 304.6 182.3 306.7 183.8 308.8 183.9 310.9 184.5 313 184.9 315.1 184.8 317.2 184.8 319.3 184.9 323.5 185 327.7 185.4 334 185.7 344.5 186.8 355.1 186.3 365.6 187.2 376.1 187.4 386.6 188.1 397.1 188.4 405.5 188.6 M302.5 172.6 304.6 182.5 306.7 183.9 308.8 183.9 310.9 184.4 313 184.4 315.1 184.4 317.2 185.5 319.3 184.7 323.5 185.5 327.7 185.9 334 186.7 344.5 187 355.1 188 365.6 188 376.1 188.5 386.6 188.5 397.1 189.5 405.5 189.5 M302.5 180.1 304.6 182.4 306.7 182.9 308.8 183 310.9 183.4 313 183.3 315.1 183.1 317.2 183.4 319.3 183.4 323.5 183.6 327.7 183.2 334 183.2 344.5 183.7 355.1 183.9 365.6 183.7 376.1 184.1 386.6 184.5 397.1 184.7 405.5 184.6 M302.5 178.3 304.6 182.2 306.7 183.8 308.8 184 310.9 184.5 313 184.6 315.1 184.6 317.2 184.5 319.3 184.7 323.5 185.2 327.7 184.7 334 185 344.5 185.3 355.1 185.6 365.6 186.2 376.1 185.5 386.6 186.2 397.1 186.2 405.5 186.1 M302.5 118.8 304.6 176.5 306.7 182.8 308.8 183.6 310.9 183.8 313 183.9 315.1 184 317.2 184.1 319.3 184.2 323.5 184.3 327.7 184.5 334 184.8 344.5 185.3 355.1 185.7 365.6 186.2 376.1 186.7 386.6 187.1 397.1 187.6 405.5 188 M302.5 126.7 304.6 174.3 306.7 182.1 308.8 183.5 310.9 183.8 313 183.9 315.1 184 317.2 184.1 319.3 184.2 323.5 184.3 327.7 184.5 334 184.8 344.5 185.3 355.1 185.7 365.6 186.2 376.1 186.7 386.6 187.1 397.1 187.6 405.5 188 M302.5 132.4 304.6 171.3 306.7 180.7 308.8 183 310.9 183.6 313 183.8 315.1 184 317.2 184.1 319.3 184.2 323.5 184.3 327.7 184.5 334 184.8 344.5 185.3 355.1 185.7 365.6 186.2 376.1 186.7 386.6 187.1 397.1 187.6 405.5 188" fill="none" stroke="#c0c0c0" stroke-width="0.5"/>
<path d="M302.6 184 304.6 185.2 308.9 186.3 315 187.2 321.8 188 340.3 190.2 360 192.9 386.5 197.7 405.4 201.3" fill="none" stroke="#3b87bd" stroke-width="1.0" stroke-linejoin="round"/>
</g>
<rect x="297.4" y="114.5" width="113.2" height="90.7" fill="none" stroke="#999" stroke-width="0.65"/>
<text transform="translate(302.55 211.30) scale(1 1.1)" text-anchor="middle" class="t">0</text>
<text transform="translate(313.05 211.30) scale(1 1.1)" text-anchor="middle" class="t">5</text>
<text transform="translate(323.55 211.30) scale(1 1.1)" text-anchor="middle" class="t">10</text>
<text transform="translate(334.05 211.30) scale(1 1.1)" text-anchor="middle" class="t">15</text>
<text transform="translate(344.55 211.30) scale(1 1.1)" text-anchor="middle" class="t">20</text>
<text transform="translate(355.05 211.30) scale(1 1.1)" text-anchor="middle" class="t">25</text>
<text transform="translate(365.55 211.30) scale(1 1.1)" text-anchor="middle" class="t">30</text>
<text transform="translate(376.05 211.30) scale(1 1.1)" text-anchor="middle" class="t">35</text>
<text transform="translate(386.55 211.30) scale(1 1.1)" text-anchor="middle" class="t">40</text>
<text transform="translate(397.05 211.30) scale(1 1.1)" text-anchor="middle" class="t">45</text>
<text transform="translate(407.55 211.30) scale(1 1.1)" text-anchor="middle" class="t">50</text>
<text transform="translate(295.30 198.10) scale(1 1.1)" text-anchor="end" class="t">0.24</text>
<text transform="translate(295.30 186.76) scale(1 1.1)" text-anchor="end" class="t">0.25</text>
<text transform="translate(295.30 175.41) scale(1 1.1)" text-anchor="end" class="t">0.26</text>
<text transform="translate(295.30 164.07) scale(1 1.1)" text-anchor="end" class="t">0.27</text>
<text transform="translate(295.30 152.73) scale(1 1.1)" text-anchor="end" class="t">0.28</text>
<text transform="translate(295.30 141.39) scale(1 1.1)" text-anchor="end" class="t">0.29</text>
<text transform="translate(295.30 130.04) scale(1 1.1)" text-anchor="end" class="t">0.30</text>
<text transform="translate(295.30 118.70) scale(1 1.1)" text-anchor="end" class="t">0.31</text>
<path d="M302.55 205.15v1.1M313.05 205.15v1.1M323.55 205.15v1.1M334.05 205.15v1.1M344.55 205.15v1.1M355.05 205.15v1.1M365.55 205.15v1.1M376.05 205.15v1.1M386.55 205.15v1.1M397.05 205.15v1.1M407.55 205.15v1.1M297.40 195.90h-1.1M297.40 184.56h-1.1M297.40 173.21h-1.1M297.40 161.87h-1.1M297.40 150.53h-1.1M297.40 139.19h-1.1M297.40 127.84h-1.1M297.40 116.50h-1.1" stroke="#777" stroke-width="0.5" fill="none"/>
<text transform="translate(354.00 216.70) scale(1 1.1)" text-anchor="middle" class="l">Epoch</text>
<text transform="translate(282.35 160.22) rotate(-90)" text-anchor="middle" class="l">CNN-HSSCA Train Loss P</text>
<rect x="361.60" y="116.30" width="47.00" height="15.6" rx="1" fill="#fff" fill-opacity="0.8" stroke="#e0e0e0" stroke-width="0.4"/>
<path d="M363.00 120.30h9.8" stroke="#3b87bd" stroke-width="1.0"/>
<path d="M363.00 127.10h9.8" stroke="#c8c8c8" stroke-width="0.85"/>
<text x="376.20" y="122.00" class="lg">correct key</text>
<text x="376.20" y="128.80" class="lg">wrong key</text>
<g clip-path="url(#c7)">
<path d="M437.6 196.5 448.7 190.5 459.3 186.5 478.5 181 497.8 177.5 517.1 175 540.6 172 540.6 173.5 517.1 177 497.8 179.5 478.5 183.5 459.3 189 448.7 193.5 437.6 199Z" fill="#e0e0e0"/>
<path d="M437.5 169.4 439.6 167.4 441.7 166.1 443.8 165.2 445.9 164.4 448 162.6 450.1 160.8 452.2 161.3 454.3 160.8 456.4 160.7 458.5 159.8 460.6 160.5 462.7 158.9 464.8 159.2 466.9 157.9 469 156.9 471.1 156 473.2 156.4 475.3 156.7 477.4 157 479.5 155.2 481.6 154.3 483.7 153.9 485.8 155.2 487.9 153.5 490.1 152.4 492.2 153.1 494.3 150.3 496.4 151.2 498.5 150.4 500.6 149.7 502.7 148.1 504.8 149.9 506.9 150.1 509 146.6 511.1 147.6 513.2 147.7 515.3 148.9 517.4 145.8 519.5 145 521.6 145.7 523.7 147.4 525.8 145.1 527.9 145 530 146.3 532.1 141.9 534.2 141.5 536.3 144.3 538.4 143.8 540.5 141.2 540.5 170.4 538.4 173.8 536.3 172.6 534.2 172.9 532.1 172.2 530 172.7 527.9 174.1 525.8 173.1 523.7 174.8 521.6 174.2 519.5 175.8 517.4 174.4 515.3 174 513.2 175.1 511.1 176.4 509 176.1 506.9 175.6 504.8 178.6 502.7 177.4 500.6 177.5 498.5 177.6 496.4 176.9 494.3 178.1 492.2 179 490.1 179 487.9 179.1 485.8 180.2 483.7 177.9 481.6 178.9 479.5 182.1 477.4 179.9 475.3 182.7 473.2 181.5 471.1 183.8 469 183.7 466.9 185.4 464.8 185.2 462.7 187 460.6 186.5 458.5 185.2 456.4 188.2 454.3 190.1 452.2 188.9 450.1 190 448 190 445.9 191.5 443.8 192.3 441.7 194.5 439.6 195.4 437.5 197Z" fill="#c0c0c0" stroke="#c0c0c0" stroke-width="0.4"/>
<path d="M437.5 168.9 439.6 165.7 441.7 165.1 443.8 164.3 445.9 163.2 448 161.6 450.1 158.6 452.2 156.5 454.3 155.1 456.4 153.6 458.5 152.4 460.6 150.7 462.7 150.8 464.8 148.1 466.9 149.6 469 147.4 471.1 145.6 473.2 148 475.3 143.7 477.4 149.5 479.5 148.4 481.6 148.1 483.7 145.2 485.8 149.9 487.9 145.9 490.1 145.8 492.2 146.9 494.3 145.1 496.4 144 498.5 145.7 500.6 143.1 502.7 145.1 504.8 143.8 506.9 144.3 509 140.8 511.1 143.3 513.2 141.9 515.3 143.7 517.4 139.9 519.5 142.8 521.6 141.2 523.7 140.8 525.8 138.5 527.9 139.5 530 139.3 532.1 136.7 534.2 135.9 536.3 135.9 538.4 138.3 540.5 136.3 M437.5 166.3 439.6 167.3 441.7 163.5 443.8 164.7 445.9 161.4 448 161.4 450.1 157.6 452.2 156.7 454.3 154.2 456.4 152.6 458.5 152.2 460.6 150.2 462.7 149.2 464.8 149.4 466.9 146.6 469 143 471.1 145.2 473.2 146.3 475.3 147.9 477.4 148.1 479.5 147.7 481.6 146 483.7 146.7 485.8 143.6 487.9 146.5 490.1 145.2 492.2 145 494.3 143.7 496.4 144.4 498.5 143.1 500.6 144.4 502.7 141.6 504.8 144 506.9 142.9 509 144.4 511.1 141.4 513.2 141 515.3 141 517.4 140.4 519.5 140.4 521.6 138.8 523.7 138.7 525.8 139.5 527.9 139.6 530 138.5 532.1 138.6 534.2 139.4 536.3 140.1 538.4 139 540.5 139.8 M437.5 168.9 439.6 164 441.7 165.8 443.8 161.3 445.9 162.1 448 162.9 450.1 159.4 452.2 159.1 454.3 157.2 456.4 156.5 458.5 158.4 460.6 156 462.7 152.9 464.8 151.9 466.9 151.4 469 153.2 471.1 150.4 473.2 152 475.3 150.3 477.4 149.3 479.5 152.5 481.6 150.4 483.7 149 485.8 148.6 487.9 147.9 490.1 147.9 492.2 146.2 494.3 148.8 496.4 147.2 498.5 147.3 500.6 145.6 502.7 146.1 504.8 145.7 506.9 146.7 509 146 511.1 145.1 513.2 143.3 515.3 142.2 517.4 142.3 519.5 142.3 521.6 142 523.7 141.1 525.8 144.6 527.9 142.6 530 139.3 532.1 140.2 534.2 139.8 536.3 141.4 538.4 141.8 540.5 139.1 M437.5 169.4 439.6 166.1 441.7 166.1 443.8 163.7 445.9 162.8 448 161.3 450.1 159.3 452.2 159.2 454.3 159.3 456.4 158.7 458.5 157 460.6 154.1 462.7 155 464.8 152.7 466.9 153.7 469 149.1 471.1 152.6 473.2 150.1 475.3 152.2 477.4 150.4 479.5 152.1 481.6 150.2 483.7 148 485.8 148.9 487.9 149.6 490.1 149.6 492.2 146.5 494.3 147.1 496.4 147.3 498.5 147.6 500.6 148 502.7 146.1 504.8 144.7 506.9 146.4 509 145.4 511.1 146 513.2 143.7 515.3 145.1 517.4 143.1 519.5 144 521.6 143.6 523.7 144 525.8 142.2 527.9 142.9 530 141.7 532.1 142.4 534.2 143 536.3 145.7 538.4 141.9 540.5 142.3 M437.5 166.8 439.6 167.5 441.7 166.3 443.8 166.6 445.9 162.4 448 161.2 450.1 161.3 452.2 158.7 454.3 160.8 456.4 156.1 458.5 156.7 460.6 155.1 462.7 155.4 464.8 156.2 466.9 155.4 469 155.3 471.1 154.7 473.2 151.3 475.3 154 477.4 151.1 479.5 152.7 481.6 152.5 483.7 152.2 485.8 152.9 487.9 151.1 490.1 153.7 492.2 151.8 494.3 151.8 496.4 150.9 498.5 150.5 500.6 149 502.7 151.2 504.8 147.1 506.9 148.6 509 147.7 511.1 147 513.2 147.1 515.3 145.5 517.4 147.2 519.5 147 521.6 146 523.7 146.4 525.8 144.1 527.9 143.1 530 144.2 532.1 144.4 534.2 147.2 536.3 143.6 538.4 145.1 540.5 144.6 M437.5 168.2 439.6 165.6 441.7 167 443.8 164.3 445.9 164.4 448 162.1 450.1 162.2 452.2 161.3 454.3 160.8 456.4 158.4 458.5 159.5 460.6 157.9 462.7 155.6 464.8 156 466.9 155.1 469 155.3 471.1 155.4 473.2 152.7 475.3 154.5 477.4 153.3 479.5 151.9 481.6 153.8 483.7 151.3 485.8 150.3 487.9 152.3 490.1 152 492.2 149.9 494.3 151.4 496.4 150.6 498.5 148.1 500.6 150.5 502.7 147.5 504.8 147.5 506.9 143.9 509 147.3 511.1 145.5 513.2 146.5 515.3 143.3 517.4 146.3 519.5 146.5 521.6 146.7 523.7 140.7 525.8 144.7 527.9 144 530 139.9 532.1 142.5 534.2 142.7 536.3 144 538.4 141 540.5 142 M437.5 168.5 439.6 166.4 441.7 164.5 443.8 163.7 445.9 163.3 448 161.8 450.1 160.6 452.2 157.1 454.3 155.7 456.4 156.1 458.5 152 460.6 152.6 462.7 150.3 464.8 147.2 466.9 144.3 469 145.4 471.1 144.1 473.2 144.8 475.3 144.1 477.4 148.4 479.5 147.2 481.6 146.4 483.7 146.5 485.8 146 487.9 145.6 490.1 145.8 492.2 144.5 494.3 141.6 496.4 145.3 498.5 144.7 500.6 144.2 502.7 145.8 504.8 142.2 506.9 140 509 145.2 511.1 143.7 513.2 141.3 515.3 142.4 517.4 143.2 519.5 141.1 521.6 143 523.7 144.6 525.8 143.6 527.9 141.8 530 141.8 532.1 140.1 534.2 141.1 536.3 140.3 538.4 139.3 540.5 138.6 M437.5 166.7 439.6 167 441.7 165.5 443.8 165.5 445.9 164.9 448 163.1 450.1 161 452.2 159.3 454.3 156.8 456.4 156.3 458.5 157.2 460.6 157.5 462.7 155.7 464.8 155 466.9 153.3 469 152.6 471.1 152.2 473.2 155.1 475.3 151.6 477.4 154.5 479.5 152.1 481.6 153.5 483.7 152.6 485.8 152.4 487.9 152.3 490.1 149.8 492.2 149.2 494.3 149.3 496.4 148.6 498.5 149.5 500.6 147.9 502.7 147.3 504.8 147.2 506.9 145.6 509 147.1 511.1 143.3 513.2 145.5 515.3 145.8 517.4 143.9 519.5 143.7 521.6 145.5 523.7 143.6 525.8 141.4 527.9 141.8 530 144.2 532.1 141.7 534.2 144.2 536.3 143.8 538.4 141.2 540.5 141.7 M437.5 168 439.6 164.2 441.7 163.3 443.8 163.3 445.9 160.5 448 162.2 450.1 158.6 452.2 157.6 454.3 156.3 456.4 154.3 458.5 154 460.6 151.1 462.7 151.5 464.8 151.3 466.9 149 469 147.6 471.1 147.1 473.2 147.9 475.3 149 477.4 148.2 479.5 146.4 481.6 148.4 483.7 147.4 485.8 147.2 487.9 146.5 490.1 148.1 492.2 144.4 494.3 144.2 496.4 146.3 498.5 143.8 500.6 144.9 502.7 144 504.8 141.3 506.9 143.9 509 144.2 511.1 142.4 513.2 140 515.3 142.2 517.4 139.6 519.5 140.3 521.6 140.7 523.7 138.9 525.8 137.7 527.9 139.1 530 139 532.1 137.4 534.2 137.1 536.3 138.4 538.4 137.4 540.5 136.6 M437.5 167.3 439.6 165.7 441.7 164 443.8 164.8 445.9 162 448 160 450.1 160.6 452.2 157.2 454.3 156.5 456.4 155.1 458.5 153.1 460.6 152.3 462.7 151.8 464.8 148.9 466.9 149 469 148.8 471.1 148.9 473.2 149.6 475.3 152.4 477.4 150.7 479.5 149.9 481.6 149.5 483.7 149.4 485.8 149.7 487.9 149 490.1 150.7 492.2 147.4 494.3 149 496.4 148.6 498.5 146.5 500.6 148 502.7 147.4 504.8 145.7 506.9 148.9 509 146.5 511.1 144.7 513.2 144.3 515.3 143.8 517.4 144.9 519.5 144.3 521.6 142.4 523.7 142.6 525.8 142.9 527.9 143 530 142.8 532.1 142.4 534.2 143.5 536.3 143.5 538.4 142.1 540.5 139.2 M437.5 196.9 439.6 192.9 441.7 195.8 443.8 192.3 445.9 193.5 448 190.1 450.1 190.9 452.2 189.2 454.3 189.4 456.4 187.3 458.5 183.3 460.6 185 462.7 183.4 464.8 185.5 466.9 184.4 469 183.3 471.1 183.3 473.2 182.4 475.3 180.7 477.4 183 479.5 180.7 481.6 180 483.7 178.5 485.8 179.1 487.9 179.3 490.1 178.6 492.2 177.9 494.3 178.1 496.4 176.3 498.5 177.4 500.6 175.5 502.7 175.8 504.8 175.8 506.9 177.2 509 176.5 511.1 175.7 513.2 174.1 515.3 174.4 517.4 175.6 519.5 175.5 521.6 172 523.7 172.9 525.8 173.4 527.9 173.5 530 172.8 532.1 173.1 534.2 170.4 536.3 173.5 538.4 170.5 540.5 171.1 M437.5 197.8 439.6 197.9 441.7 196.5 443.8 194.3 445.9 193.7 448 193 450.1 192.9 452.2 191.8 454.3 189.4 456.4 189.6 458.5 189.5 460.6 189.7 462.7 188.1 464.8 189.6 466.9 187 469 186.9 471.1 185 473.2 183.6 475.3 184.3 477.4 184.2 479.5 183.4 481.6 182.9 483.7 181.5 485.8 181 487.9 181.4 490.1 182 492.2 182 494.3 176.8 496.4 181.2 498.5 181.7 500.6 181.6 502.7 180.2 504.8 180.3 506.9 178.7 509 179 511.1 179.2 513.2 177 515.3 177.2 517.4 178 519.5 176.1 521.6 177.2 523.7 174.9 525.8 176.5 527.9 176.1 530 175.1 532.1 174.3 534.2 174.6 536.3 172.4 538.4 174.1 540.5 174.4 M437.5 198.1 439.6 196.6 441.7 195.2 443.8 196.8 445.9 193.4 448 193.6 450.1 191.8 452.2 191 454.3 188.7 456.4 190.6 458.5 188.5 460.6 189.7 462.7 186.6 464.8 187.1 466.9 187.3 469 186.2 471.1 184.9 473.2 185.1 475.3 183.2 477.4 184.1 479.5 180.6 481.6 183.3 483.7 184.7 485.8 183.5 487.9 182.8 490.1 180.9 492.2 181.8 494.3 180.2 496.4 180.2 498.5 179.6 500.6 175.5 502.7 180 504.8 179 506.9 178.9 509 176.5 511.1 178.4 513.2 177.9 515.3 174.5 517.4 175.1 519.5 176.8 521.6 175.5 523.7 176 525.8 174.8 527.9 177 530 173 532.1 173.2 534.2 173.2 536.3 172.8 538.4 173.2 540.5 173.4 M437.5 199 439.6 196.7 441.7 198.2 443.8 197.1 445.9 195.3 448 194.3 450.1 192.4 452.2 192.6 454.3 194.1 456.4 191 458.5 191.8 460.6 188.6 462.7 189 464.8 188 466.9 187.8 469 188.1 471.1 184.2 473.2 186.9 475.3 186.3 477.4 184.9 479.5 184.7 481.6 184.1 483.7 184.6 485.8 183.5 487.9 181.7 490.1 182.4 492.2 183 494.3 181.6 496.4 181 498.5 181.1 500.6 180.1 502.7 180.1 504.8 178.4 506.9 180.1 509 181.3 511.1 179.5 513.2 178.4 515.3 180 517.4 178.8 519.5 178.7 521.6 178.7 523.7 178.8 525.8 177.6 527.9 176.2 530 179.2 532.1 177.4 534.2 176.2 536.3 176.9 538.4 178 540.5 174.5 M437.5 199.7 439.6 197.9 441.7 196.4 443.8 192.9 445.9 196.3 448 193 450.1 194.2 452.2 194.5 454.3 190.1 456.4 191.5 458.5 189.5 460.6 189 462.7 186.6 464.8 187 466.9 186.3 469 187.2 471.1 187.3 473.2 184.5 475.3 183 477.4 185.2 479.5 181.7 481.6 181.4 483.7 181.2 485.8 181.3 487.9 181.2 490.1 179.5 492.2 179.6 494.3 181.6 496.4 180.9 498.5 179.2 500.6 178.6 502.7 177.3 504.8 178.6 506.9 176.5 509 177.2 511.1 176 513.2 175.6 515.3 175.9 517.4 175.6 519.5 174.5 521.6 174.8 523.7 174.6 525.8 173.9 527.9 173.4 530 173.7 532.1 174.6 534.2 174.8 536.3 173.4 538.4 172.8 540.5 172.8 M437.5 198.9 439.6 195.1 441.7 194.3 443.8 193.2 445.9 193.5 448 190.6 450.1 190.5 452.2 187.3 454.3 188.1 456.4 188.2 458.5 186.9 460.6 184.1 462.7 186.1 464.8 183.5 466.9 186.1 469 183.1 471.1 185.2 473.2 182.9 475.3 182.1 477.4 180.3 479.5 180.6 481.6 181 483.7 177.9 485.8 181.2 487.9 178.5 490.1 179.1 492.2 175.9 494.3 179.1 496.4 178.9 498.5 178.3 500.6 178.4 502.7 177.1 504.8 177.5 506.9 178.3 509 176.3 511.1 177.1 513.2 177.1 515.3 175.9 517.4 176.3 519.5 175.9 521.6 175 523.7 178 525.8 174.6 527.9 176.8 530 175.9 532.1 172.1 534.2 174.7 536.3 175.1 538.4 174.9 540.5 172.6 M437.5 196 439.6 196.1 441.7 196 443.8 196.2 445.9 192.9 448 193.2 450.1 191.1 452.2 191.8 454.3 189.9 456.4 189.4 458.5 186.9 460.6 186.8 462.7 186.2 464.8 182 466.9 186.3 469 184.7 471.1 183.7 473.2 183.2 475.3 183.2 477.4 182.9 479.5 180.6 481.6 181.9 483.7 181.5 485.8 180.9 487.9 178.6 490.1 179.6 492.2 177.8 494.3 179.2 496.4 180.1 498.5 178.9 500.6 177.3 502.7 176.9 504.8 176.9 506.9 177.6 509 176 511.1 175.7 513.2 173.4 515.3 175 517.4 174.7 519.5 174.6 521.6 176.4 523.7 173.1 525.8 172.6 527.9 174.4 530 172.5 532.1 173.4 534.2 173.5 536.3 172.9 538.4 171.9 540.5 173.6 M437.5 199.4 439.6 198.5 441.7 197.9 443.8 196 445.9 194.1 448 193.3 450.1 189.5 452.2 189.5 454.3 191.6 456.4 189 458.5 190.7 460.6 190.1 462.7 186.1 464.8 187.5 466.9 189.6 469 184.8 471.1 185.7 473.2 184.5 475.3 183.7 477.4 183.2 479.5 183.1 481.6 183.3 483.7 181.3 485.8 182.3 487.9 180.2 490.1 181.3 492.2 180.5 494.3 178.9 496.4 179.5 498.5 178.1 500.6 177.9 502.7 179.9 504.8 176.3 506.9 178.9 509 178.7 511.1 177 513.2 178.8 515.3 178.3 517.4 175.7 519.5 177.8 521.6 177.5 523.7 175.6 525.8 176.9 527.9 176.7 530 174.7 532.1 173 534.2 175.4 536.3 174 538.4 172.6 540.5 173.9 M437.5 197.1 439.6 195.3 441.7 193.6 443.8 194.9 445.9 192.8 448 192.5 450.1 189.3 452.2 187.4 454.3 188 456.4 187.6 458.5 187.8 460.6 187.7 462.7 187.1 464.8 187 466.9 185.5 469 183.9 471.1 182.4 473.2 183.6 475.3 182 477.4 181.4 479.5 182.5 481.6 181.6 483.7 181.8 485.8 179.4 487.9 181.3 490.1 180 492.2 178.9 494.3 177.8 496.4 177.1 498.5 176.6 500.6 179.6 502.7 176 504.8 178.2 506.9 177.3 509 176.3 511.1 176 513.2 176.2 515.3 177.2 517.4 176.8 519.5 176.1 521.6 174.5 523.7 173.6 525.8 177.7 527.9 174 530 173.3 532.1 176.2 534.2 173 536.3 175.2 538.4 175.2 540.5 174 M437.5 196.7 439.6 194.4 441.7 194.4 443.8 194.1 445.9 193.6 448 191.6 450.1 190 452.2 188.6 454.3 188.9 456.4 186.7 458.5 187.7 460.6 187 462.7 185.4 464.8 186.2 466.9 185.1 469 185.6 471.1 183.8 473.2 184.5 475.3 185 477.4 182.9 479.5 183.3 481.6 181.5 483.7 181.2 485.8 179 487.9 181 490.1 179.4 492.2 180.4 494.3 177.8 496.4 179.3 498.5 180.1 500.6 180.1 502.7 177.3 504.8 178.5 506.9 181.6 509 179.1 511.1 178.2 513.2 174.5 515.3 176.5 517.4 178 519.5 177.2 521.6 177.3 523.7 177.6 525.8 176.3 527.9 176.8 530 173.5 532.1 178.3 534.2 174.7 536.3 174.1 538.4 176.6 540.5 175.2 M437.5 195.4 439.6 195.9 441.7 192.9 443.8 194 445.9 193.6 448 190.4 450.1 190.9 452.2 188.9 454.3 188.1 456.4 190.4 458.5 188.5 460.6 187.4 462.7 185.6 464.8 185.7 466.9 184.4 469 184.6 471.1 182.7 473.2 183.5 475.3 182.8 477.4 180.8 479.5 183.7 481.6 182.3 483.7 179.9 485.8 178.9 487.9 179.4 490.1 178.8 492.2 178.7 494.3 177.4 496.4 177.7 498.5 178.5 500.6 178.4 502.7 175.3 504.8 177.2 506.9 175.8 509 175.5 511.1 176.3 513.2 175.7 515.3 177 517.4 176.5 519.5 174.9 521.6 174.1 523.7 176.7 525.8 176.4 527.9 174.5 530 173.8 532.1 174.8 534.2 175 536.3 172.3 538.4 174.8 540.5 172.2 M437.5 195.6 439.6 196.3 441.7 196.3 443.8 193.7 445.9 192.3 448 192.9 450.1 190.3 452.2 190.6 454.3 189.9 456.4 186.7 458.5 188.3 460.6 187.4 462.7 185.4 464.8 185.2 466.9 184.4 469 186.7 471.1 187 473.2 184.7 475.3 185.3 477.4 181.4 479.5 184.4 481.6 184.9 483.7 183.9 485.8 180.7 487.9 182.4 490.1 180.6 492.2 181.4 494.3 178.7 496.4 179.2 498.5 178.2 500.6 179.3 502.7 178.1 504.8 179.1 506.9 178.5 509 177.6 511.1 176.8 513.2 176.1 515.3 176.2 517.4 176.6 519.5 175.8 521.6 175.7 523.7 174.8 525.8 174.6 527.9 173.7 530 172 532.1 174.7 534.2 174.3 536.3 172.2 538.4 175 540.5 170.7 M437.5 191.9 439.6 193.5 441.7 192.8 443.8 190.1 445.9 190.1 448 188.6 450.1 187 452.2 184.7 454.3 187.4 456.4 186.5 458.5 183.3 460.6 185.6 462.7 182.9 464.8 181.1 466.9 181 469 178.6 471.1 179.5 473.2 177.1 475.3 179.9 477.4 178.3 479.5 175.6 481.6 177.4 483.7 174.3 485.8 176.1 487.9 176.2 490.1 175.1 492.2 173 494.3 173.6 496.4 172.8 498.5 172.5 500.6 173.9 502.7 174 504.8 173.5 506.9 170.4 509 169.6 511.1 169.9 513.2 170 515.3 166.6 517.4 167.8 519.5 170.1 521.6 166.3 523.7 166.7 525.8 166.3 527.9 167.4 530 166.5 532.1 165.8 534.2 163.9 536.3 165.8 538.4 164.3 540.5 162.7 M437.5 171.8 439.6 170.7 441.7 170.1 443.8 168.4 445.9 166.8 448 166.8 450.1 164 452.2 163.5 454.3 164 456.4 165.4 458.5 163.5 460.6 166.2 462.7 160.3 464.8 162.8 466.9 162.8 469 163.5 471.1 164.4 473.2 162.2 475.3 160.7 477.4 162.7 479.5 163.4 481.6 158.6 483.7 162.2 485.8 161.5 487.9 159.9 490.1 159.9 492.2 160.6 494.3 160 496.4 159.4 498.5 158.2 500.6 159.4 502.7 158.2 504.8 159.1 506.9 158 509 159.1 511.1 159.6 513.2 159.3 515.3 159.8 517.4 157.5 519.5 159.8 521.6 159.7 523.7 158.5 525.8 158.9 527.9 155.4 530 158.9 532.1 158.1 534.2 156 536.3 159.4 538.4 157.8 540.5 159 M437.5 186 439.6 183.8 441.7 184.6 443.8 180.4 445.9 179.6 448 179.6 450.1 178.6 452.2 175.8 454.3 175.6 456.4 175.4 458.5 173.6 460.6 171.7 462.7 172.4 464.8 171.2 466.9 170.2 469 170.3 471.1 168.5 473.2 167 475.3 166.8 477.4 168.1 479.5 164.5 481.6 164.5 483.7 163.4 485.8 164.1 487.9 161.6 490.1 162.6 492.2 162 494.3 159.1 496.4 158.5 498.5 157 500.6 157.9 502.7 155.6 504.8 155.3 506.9 154.4 509 153.7 511.1 154.8 513.2 154.9 515.3 149.5 517.4 150.4 519.5 151.1 521.6 148.9 523.7 149 525.8 149.2 527.9 150 530 149.3 532.1 146.9 534.2 146.8 536.3 145.5 538.4 144.8 540.5 143 M437.5 177.8 439.6 179 441.7 175 443.8 173.4 445.9 174.1 448 172.7 450.1 169.6 452.2 172.7 454.3 168.7 456.4 170.3 458.5 166.7 460.6 165.7 462.7 166.3 464.8 164.6 466.9 165.7 469 162.1 471.1 164.3 473.2 162.7 475.3 161.6 477.4 162.6 479.5 161.6 481.6 161 483.7 161.7 485.8 160.6 487.9 159.8 490.1 160.3 492.2 157.8 494.3 158.3 496.4 156.1 498.5 156.8 500.6 155.8 502.7 154 504.8 152.3 506.9 152 509 151.6 511.1 152.8 513.2 151.4 515.3 150.7 517.4 151.2 519.5 150.9 521.6 151.3 523.7 148.5 525.8 149.5 527.9 149.6 530 147 532.1 148 534.2 145.7 536.3 146.2 538.4 146.2 540.5 143.5 M437.5 169.9 439.6 170.6 441.7 169.5 443.8 168 445.9 166.3 448 167.7 450.1 162.9 452.2 162.6 454.3 163.6 456.4 163.8 458.5 163.2 460.6 162.1 462.7 161.1 464.8 161.8 466.9 161.3 469 161.1 471.1 159.8 473.2 162.4 475.3 161.2 477.4 162.3 479.5 159.2 481.6 159.3 483.7 158.5 485.8 158.8 487.9 158.1 490.1 157.9 492.2 155.3 494.3 156.9 496.4 157.7 498.5 153.9 500.6 155.2 502.7 156.3 504.8 156.7 506.9 155.1 509 155.3 511.1 156.8 513.2 156.1 515.3 153.7 517.4 153.7 519.5 155.4 521.6 154.3 523.7 153.1 525.8 153.2 527.9 153.6 530 152.7 532.1 152.4 534.2 152.5 536.3 150.5 538.4 153.9 540.5 153 M437.5 179.5 439.6 177.9 441.7 177.5 443.8 176.6 445.9 176.7 448 174.2 450.1 174.6 452.2 172.4 454.3 172.2 456.4 172.6 458.5 172.7 460.6 172.9 462.7 174.3 464.8 172.7 466.9 171.5 469 173.5 471.1 171.3 473.2 171.2 475.3 171.1 477.4 169.9 479.5 169 481.6 170.4 483.7 169.9 485.8 169.1 487.9 169.9 490.1 169.2 492.2 168.3 494.3 166.9 496.4 168.7 498.5 170.7 500.6 169.5 502.7 169.7 504.8 168.3 506.9 169.6 509 167.4 511.1 167.5 513.2 168.9 515.3 166.4 517.4 168.2 519.5 168.8 521.6 170.1 523.7 167.5 525.8 168.8 527.9 167.6 530 167.8 532.1 165.1 534.2 166.8 536.3 169.7 538.4 168.9 540.5 168.7" fill="none" stroke="#c2c2c2" stroke-width="0.5"/>
<path d="M437.6 190.3 438.6 176.5 440.3 166.6 442 159.9 444 155.8 446.1 158.3 448.1 161.6 450.3 159.9 452.8 159.1 455.3 159.9 456.9 160.8 458.6 162.4 461.1 159.9 463.6 158.3 466.1 156.6 468.5 155.8 471 157.4 473.5 157.4 476 156.6 478.5 154.1 481 152.5 483.5 151.6 485 150.8 487.1 148 489.2 146.6 491.3 147.3 493.3 145.3 495.4 142.5 497.5 141.1 500 139.5 502.3 140.8 504.5 136.8 505.8 134.8 507.9 133.4 510 132.1 512.1 129.3 514.2 127.2 515.3 126.2 517.2 130.4 519 127.9 521.1 125.8 523.2 124.4 525.3 123 527.4 122.3 529.4 119.6 531.5 120.9 533.6 120.3 535.7 118.9 537.1 120.9 538.5 123.7 540.6 120.3" fill="none" stroke="#3b87bd" stroke-width="1.0" stroke-linejoin="round"/>
</g>
<rect x="432.4" y="114.5" width="113.2" height="90.7" fill="none" stroke="#999" stroke-width="0.65"/>
<text transform="translate(437.55 211.30) scale(1 1.1)" text-anchor="middle" class="t">0</text>
<text transform="translate(448.05 211.30) scale(1 1.1)" text-anchor="middle" class="t">5</text>
<text transform="translate(458.55 211.30) scale(1 1.1)" text-anchor="middle" class="t">10</text>
<text transform="translate(469.05 211.30) scale(1 1.1)" text-anchor="middle" class="t">15</text>
<text transform="translate(479.55 211.30) scale(1 1.1)" text-anchor="middle" class="t">20</text>
<text transform="translate(490.05 211.30) scale(1 1.1)" text-anchor="middle" class="t">25</text>
<text transform="translate(500.55 211.30) scale(1 1.1)" text-anchor="middle" class="t">30</text>
<text transform="translate(511.05 211.30) scale(1 1.1)" text-anchor="middle" class="t">35</text>
<text transform="translate(521.55 211.30) scale(1 1.1)" text-anchor="middle" class="t">40</text>
<text transform="translate(532.05 211.30) scale(1 1.1)" text-anchor="middle" class="t">45</text>
<text transform="translate(542.55 211.30) scale(1 1.1)" text-anchor="middle" class="t">50</text>
<text transform="translate(430.30 199.20) scale(1 1.1)" text-anchor="end" class="t">0.48</text>
<text transform="translate(430.30 186.88) scale(1 1.1)" text-anchor="end" class="t">0.50</text>
<text transform="translate(430.30 174.57) scale(1 1.1)" text-anchor="end" class="t">0.52</text>
<text transform="translate(430.30 162.25) scale(1 1.1)" text-anchor="end" class="t">0.54</text>
<text transform="translate(430.30 149.93) scale(1 1.1)" text-anchor="end" class="t">0.56</text>
<text transform="translate(430.30 137.62) scale(1 1.1)" text-anchor="end" class="t">0.58</text>
<text transform="translate(430.30 125.30) scale(1 1.1)" text-anchor="end" class="t">0.60</text>
<path d="M437.55 205.15v1.1M448.05 205.15v1.1M458.55 205.15v1.1M469.05 205.15v1.1M479.55 205.15v1.1M490.05 205.15v1.1M500.55 205.15v1.1M511.05 205.15v1.1M521.55 205.15v1.1M532.05 205.15v1.1M542.55 205.15v1.1M432.40 197.00h-1.1M432.40 184.68h-1.1M432.40 172.37h-1.1M432.40 160.05h-1.1M432.40 147.73h-1.1M432.40 135.42h-1.1M432.40 123.10h-1.1" stroke="#777" stroke-width="0.5" fill="none"/>
<text transform="translate(489.00 216.70) scale(1 1.1)" text-anchor="middle" class="l">Epoch</text>
<text transform="translate(417.35 160.22) rotate(-90)" text-anchor="middle" class="l">CNN-HSSCA Train Accuracy P</text>
<rect x="435.00" y="116.30" width="47.00" height="15.6" rx="1" fill="#fff" fill-opacity="0.8" stroke="#e0e0e0" stroke-width="0.4"/>
<path d="M436.40 120.30h9.8" stroke="#3b87bd" stroke-width="1.0"/>
<path d="M436.40 127.10h9.8" stroke="#c8c8c8" stroke-width="0.85"/>
<text x="449.60" y="122.00" class="lg">correct key</text>
<text x="449.60" y="128.80" class="lg">wrong key</text>
<g clip-path="url(#c8)">
<path d="M31.4 239.7 36.1 246.3 44.2 254.2 52.3 259.6 60.4 263 68.5 265.5 78.6 268.5 85 269.8 94.1 273.1 103.1 275.9 112.2 278.6 121.3 282.2 134.4 287 134.4 304.4 121.3 300.4 112.2 297.6 103.1 294 94.1 289.5 85 284.5 76.6 281.7 68.5 278 58.4 274 48.2 270 36.1 264.5 32.5 260.4 31.4 256.4Z" fill="#c0c0c0" stroke="#c0c0c0" stroke-width="0.4"/>
<path d="M31.5 253.9 33.6 258.8 35.7 260.8 37.8 262.6 39.9 263.4 42 264.4 44.1 265.6 46.2 266.9 48.3 267.6 50.4 268.4 52.5 269.2 54.6 269.8 56.7 270.9 58.8 272.1 60.9 272.7 63 273.3 65.1 274.1 67.2 274.8 69.3 275.6 71.4 276.4 73.5 277.7 75.6 278.2 77.7 278.8 79.8 279.4 81.9 280.1 84 280.6 86.1 281.6 88.2 282.6 90.3 283.8 92.4 284.1 94.5 285.3 96.6 286.1 98.7 287 100.8 288.1 102.9 288.6 105 289.2 107.1 290 109.2 290.6 111.3 291.5 113.4 291.9 115.5 292.6 117.6 293.1 119.7 293.8 121.8 294.4 123.9 294.9 126 295.7 128.1 296.5 130.2 296.7 132.3 297.5 134.4 298.3 M31.5 242.4 33.6 246.2 35.7 249.3 37.8 251.3 39.9 253.1 42 255.1 44.1 257.2 46.2 258.4 48.3 259.5 50.4 261.3 52.5 262.6 54.6 263.7 56.7 264.8 58.8 265.9 60.9 266.7 63 267.4 65.1 267.8 67.2 269 69.3 269.8 71.4 271 73.5 271.9 75.6 272.5 77.7 273.5 79.8 273.9 81.9 274.7 84 275.2 86.1 276.1 88.2 277.2 90.3 278.5 92.4 279.2 94.5 280.5 96.6 281.9 98.7 282 100.8 283.3 102.9 284.3 105 285.4 107.1 286.4 109.2 287.1 111.3 287.7 113.4 288.4 115.5 289.5 117.6 290.4 119.7 291.4 121.8 292.1 123.9 293.4 126 293.9 128.1 295.1 130.2 295.8 132.3 296.4 134.4 297.4 M31.5 242.1 33.6 245.4 35.7 248.8 37.8 251.3 39.9 253.5 42 254.9 44.1 257 46.2 258.5 48.3 260.1 50.4 261.5 52.5 262.5 54.6 263.7 56.7 264.6 58.8 265.9 60.9 266.9 63 267.9 65.1 269 67.2 269.9 69.3 270.7 71.4 271.7 73.5 272.2 75.6 273.4 77.7 274 79.8 274.9 81.9 275.7 84 276.2 86.1 277.3 88.2 278.4 90.3 279.8 92.4 280.9 94.5 281.8 96.6 282.8 98.7 284.1 100.8 284.9 102.9 286.1 105 287.1 107.1 288.2 109.2 289.1 111.3 289.9 113.4 291.4 115.5 292.5 117.6 293.3 119.7 294.4 121.8 294.8 123.9 296.4 126 296.9 128.1 298.3 130.2 298.9 132.3 299.8 134.4 300.7 M31.5 249.7 33.6 253.5 35.7 256 37.8 257.6 39.9 258.8 42 260.6 44.1 261.4 46.2 262.3 48.3 263.7 50.4 264.4 52.5 265.5 54.6 266 56.7 266.5 58.8 267.7 60.9 268.2 63 269 65.1 269.4 67.2 269.8 69.3 270.5 71.4 271.3 73.5 271.9 75.6 272.6 77.7 273.2 79.8 273.2 81.9 274.1 84 274.1 86.1 274.8 88.2 276.2 90.3 276.7 92.4 277.1 94.5 278.2 96.6 278.8 98.7 279.2 100.8 279.8 102.9 280.2 105 280.8 107.1 281 109.2 281.8 111.3 281.9 113.4 282.7 115.5 283.6 117.6 283.9 119.7 284.7 121.8 285.6 123.9 285.7 126 286.8 128.1 287 130.2 287.6 132.3 288.5 134.4 289.3 M31.5 245.6 33.6 249.2 35.7 251.8 37.8 253.5 39.9 254.8 42 256.9 44.1 258.5 46.2 260.1 48.3 261.2 50.4 262.4 52.5 263.8 54.6 264.4 56.7 265.1 58.8 266.3 60.9 266.8 63 267.5 65.1 268.6 67.2 269.1 69.3 270 71.4 270.1 73.5 271.1 75.6 272 77.7 272.1 79.8 272.9 81.9 273.4 84 273.2 86.1 274.6 88.2 275 90.3 275.8 92.4 277 94.5 276.9 96.6 278 98.7 278.6 100.8 279.4 102.9 279.9 105 280.9 107.1 281.1 109.2 281.9 111.3 282.7 113.4 283.2 115.5 283.9 117.6 284.7 119.7 285.7 121.8 286.4 123.9 287 126 287.5 128.1 288.5 130.2 289.3 132.3 289.9 134.4 290.8 M31.5 243.8 33.6 247.6 35.7 250.6 37.8 252.7 39.9 254.5 42 256.3 44.1 258.7 46.2 260.2 48.3 261.2 50.4 263.1 52.5 264.1 54.6 265.2 56.7 266.3 58.8 267.1 60.9 267.9 63 268.6 65.1 269.9 67.2 270.9 69.3 271.8 71.4 272.5 73.5 273.4 75.6 274.5 77.7 274.9 79.8 276.2 81.9 277.2 84 277.8 86.1 279.2 88.2 280.2 90.3 281.6 92.4 282.6 94.5 283.6 96.6 285.2 98.7 286.2 100.8 287.1 102.9 288.2 105 289.1 107.1 290.3 109.2 291.3 111.3 292.4 113.4 293.3 115.5 294.5 117.6 295.3 119.7 295.9 121.8 297 123.9 297.8 126 298.6 128.1 299.7 130.2 300.9 132.3 301.4 134.4 302.1 M31.5 240 33.6 242.9 35.7 246.4 37.8 249.2 39.9 250.6 42 252.9 44.1 255.5 46.2 257 48.3 258 50.4 259.8 52.5 261.2 54.6 261.8 56.7 263.3 58.8 263.8 60.9 265.2 63 265.8 65.1 266.4 67.2 267 69.3 268 71.4 268.8 73.5 269.6 75.6 270.4 77.7 271.2 79.8 272.2 81.9 272.5 84 273.3 86.1 274.3 88.2 275.3 90.3 276.5 92.4 277.7 94.5 278.4 96.6 279.6 98.7 279.9 100.8 281.3 102.9 282.5 105 283.2 107.1 284.7 109.2 284.9 111.3 286.5 113.4 287.1 115.5 287.9 117.6 289 119.7 290 121.8 290.8 123.9 291.8 126 292.8 128.1 294.1 130.2 295 132.3 296.2 134.4 296.7 M31.5 241.1 33.6 244.1 35.7 247.4 37.8 249.8 39.9 251.5 42 254 44.1 255.5 46.2 257.1 48.3 258.6 50.4 260.6 52.5 261 54.6 262.4 56.7 263.7 58.8 264 60.9 265.3 63 265.8 65.1 266.3 67.2 267.4 69.3 267.9 71.4 268.7 73.5 269.1 75.6 270.2 77.7 270.3 79.8 271.5 81.9 272.3 84 272.6 86.1 273.3 88.2 274.1 90.3 275 92.4 276.5 94.5 276.9 96.6 277.8 98.7 278.4 100.8 279.3 102.9 280.3 105 280.9 107.1 281.5 109.2 282.4 111.3 283.1 113.4 284 115.5 284.8 117.6 285.7 119.7 286.4 121.8 287.6 123.9 288.2 126 288.9 128.1 289.8 130.2 290.7 132.3 291.1 134.4 292.2" fill="none" stroke="#c2c2c2" stroke-width="0.5"/>
<path d="M31.4 227 38.1 235.1 48.2 245.3 58.4 253.4 68.5 260.4 87.9 268.8 103 273 121.3 280 134.4 285.5" fill="none" stroke="#c0c0c0" stroke-width="0.5"/>
<path d="M31.4 231.1 40.1 241.2 48.2 249.3 58.4 256.4 68.5 262.5 87.9 270.2 103 274.5 121.3 281.5 134.4 286.8" fill="none" stroke="#c0c0c0" stroke-width="0.5"/>
<path d="M31.4 237 40.1 245 48.2 252.3 58.4 258.5 68.5 263.5 87.9 270.5" fill="none" stroke="#c0c0c0" stroke-width="0.5"/>
<path d="M31.4 255.4 32.5 260.4 35.1 264.5 40.1 267.5 48.2 271 58.4 275.2 68.5 279.7 76.6 283.7 82.7 287.8 85 290.4 87.7 291.3 90.4 293.1 94.1 294 97.7 296.4 101.3 298.6 105 300 108.6 301.3 111.9 297.6 114 300.4 116.8 302.5 120.4 303.6 123.1 301.3 124.9 304.4 128.6 305.8 131.3 307.6 134.3 309.8" fill="none" stroke="#3b87bd" stroke-width="1.0" stroke-linejoin="round"/>
</g>
<rect x="26.4" y="223.5" width="113.2" height="90.7" fill="none" stroke="#999" stroke-width="0.65"/>
<text transform="translate(31.50 320.30) scale(1 1.1)" text-anchor="middle" class="t">0</text>
<text transform="translate(42.00 320.30) scale(1 1.1)" text-anchor="middle" class="t">5</text>
<text transform="translate(52.50 320.30) scale(1 1.1)" text-anchor="middle" class="t">10</text>
<text transform="translate(63.00 320.30) scale(1 1.1)" text-anchor="middle" class="t">15</text>
<text transform="translate(73.50 320.30) scale(1 1.1)" text-anchor="middle" class="t">20</text>
<text transform="translate(84.00 320.30) scale(1 1.1)" text-anchor="middle" class="t">25</text>
<text transform="translate(94.50 320.30) scale(1 1.1)" text-anchor="middle" class="t">30</text>
<text transform="translate(105.00 320.30) scale(1 1.1)" text-anchor="middle" class="t">35</text>
<text transform="translate(115.50 320.30) scale(1 1.1)" text-anchor="middle" class="t">40</text>
<text transform="translate(126.00 320.30) scale(1 1.1)" text-anchor="middle" class="t">45</text>
<text transform="translate(136.50 320.30) scale(1 1.1)" text-anchor="middle" class="t">50</text>
<text transform="translate(24.25 301.70) scale(1 1.1)" text-anchor="end" class="t">0.15</text>
<text transform="translate(24.25 281.77) scale(1 1.1)" text-anchor="end" class="t">0.20</text>
<text transform="translate(24.25 261.83) scale(1 1.1)" text-anchor="end" class="t">0.25</text>
<text transform="translate(24.25 241.90) scale(1 1.1)" text-anchor="end" class="t">0.30</text>
<path d="M31.50 314.15v1.1M42.00 314.15v1.1M52.50 314.15v1.1M63.00 314.15v1.1M73.50 314.15v1.1M84.00 314.15v1.1M94.50 314.15v1.1M105.00 314.15v1.1M115.50 314.15v1.1M126.00 314.15v1.1M136.50 314.15v1.1M26.35 299.50h-1.1M26.35 279.57h-1.1M26.35 259.63h-1.1M26.35 239.70h-1.1" stroke="#777" stroke-width="0.5" fill="none"/>
<text transform="translate(82.95 325.70) scale(1 1.1)" text-anchor="middle" class="l">Epoch</text>
<text transform="translate(11.30 269.22) rotate(-90)" text-anchor="middle" class="l">MLP-HSSCA Train Loss B</text>
<rect x="90.55" y="225.30" width="47.00" height="15.6" rx="1" fill="#fff" fill-opacity="0.8" stroke="#e0e0e0" stroke-width="0.4"/>
<path d="M91.95 229.30h9.8" stroke="#3b87bd" stroke-width="1.0"/>
<path d="M91.95 236.10h9.8" stroke="#c8c8c8" stroke-width="0.85"/>
<text x="105.15" y="231.00" class="lg">correct key</text>
<text x="105.15" y="237.80" class="lg">wrong key</text>
<g clip-path="url(#c9)">
<path d="M166.7 306 172.8 302 180 298 185 295.2 189.5 291.6 194.1 287.5 198.6 283.9 203.1 281.1 207.7 278.4 215 274.8 221 271.5 228 266.5 235 261 244.1 258.6 253.1 255.4 262.2 250.9 269.5 248 269.5 252 262.2 255.5 253.1 260 244.1 263.6 235 266.3 228 273 221 281 215 286.1 207.7 288.9 198.6 293.4 189.5 298 180 304 172.8 309 166.7 310.8Z" fill="#e2e2e2"/>
<path d="M166.7 303 170.8 294 176.7 284 179.1 280.5 184.5 277.5 188.2 275.5 192.4 272.5 197.2 268.5 200.2 266 206.3 261.5 210 258.5 215 255.5 225.1 251.3 235.2 246.3 245.4 242.2 255.5 238.2 269.5 233.1 269.5 248 262.2 250.9 253.1 255.4 244.1 258.6 235 261 228 266.5 221 271.5 215 274.8 207.7 278.4 203.1 281.1 198.6 283.9 194.1 287.5 189.5 291.6 185 295.2 180 298 172.8 302 166.7 306Z" fill="#c0c0c0" stroke="#c0c0c0" stroke-width="0.4"/>
<path d="M166.7 308.3 168.8 307.7 170.9 306.3 173 304.8 175.1 303.5 177.2 302.3 179.3 301.3 181.4 299.7 183.5 298.2 185.6 298.2 187.7 295 189.8 294 191.9 292.6 194 290.6 196.1 289.4 198.2 287.8 200.3 286.2 202.4 285.6 204.5 283.8 206.6 282.6 208.7 282.3 210.8 280.5 212.9 280.3 215 279.6 217.1 278.2 219.3 276.7 221.4 274.8 223.5 272.7 225.6 271.2 227.7 269.8 229.8 267.6 231.9 265.7 234 264.4 236.1 262.7 238.2 262.8 240.3 261.7 242.4 260.6 244.5 261 246.6 259.8 248.7 259.2 250.8 257.9 252.9 257.5 255 256.7 257.1 255.3 259.2 255.2 261.3 252.6 263.4 252.5 265.5 250.8 267.6 249.9 269.7 249.4 M166.7 307.6 168.8 306.3 170.9 304.8 173 303.7 175.1 302.5 177.2 301.2 179.3 300.4 181.4 297.2 183.5 296.6 185.6 295.6 187.7 294.5 189.8 292.7 191.9 291.3 194 288.9 196.1 287.9 198.2 286.7 200.3 285.2 202.4 283.7 204.5 282.9 206.6 282 208.7 279.8 210.8 280.3 212.9 278.8 215 277.6 217.1 276.7 219.3 275.2 221.4 274.1 223.5 271.5 225.6 270.2 227.7 267.8 229.8 266.2 231.9 264.6 234 262.5 236.1 261.5 238.2 260.5 240.3 260.6 242.4 259.6 244.5 259.1 246.6 258.5 248.7 257.5 250.8 256.4 252.9 256.1 255 254.7 257.1 254.1 259.2 252.6 261.3 251.7 263.4 250.9 265.5 249.9 267.6 249.2 269.7 248.5 M166.7 307.2 168.8 306.7 170.9 305.5 173 304.1 175.1 302.8 177.2 301.8 179.3 300.8 181.4 299 183.5 298.8 185.6 296.5 187.7 296 189.8 294.1 191.9 292.5 194 291.1 196.1 289.4 198.2 288.4 200.3 288 202.4 286 204.5 285.4 206.6 283.8 208.7 283.1 210.8 282.6 212.9 281.3 215 280.9 217.1 278.7 219.3 277.5 221.4 276.2 223.5 274.4 225.6 272.5 227.7 269.9 229.8 268.2 231.9 266.7 234 264.2 236.1 263.6 238.2 263.3 240.3 262.8 242.4 261.6 244.5 261 246.6 259.9 248.7 259.2 250.8 258.5 252.9 258 255 256.6 257.1 255.1 259.2 254.8 261.3 254.1 263.4 252.5 265.5 251.4 267.6 250.6 269.7 249.2 M166.7 307.7 168.8 306.8 170.9 305.9 173 305.1 175.1 303.4 177.2 302.8 179.3 301.1 181.4 299.3 183.5 298.1 185.6 296.8 187.7 295.2 189.8 293.7 191.9 292.5 194 290.7 196.1 289.4 198.2 287.4 200.3 286 202.4 284.7 204.5 283.3 206.6 282.5 208.7 281.5 210.8 280.3 212.9 279.4 215 279 217.1 276.7 219.3 275.6 221.4 274.1 223.5 272.3 225.6 271.2 227.7 268.9 229.8 267.6 231.9 265.1 234 264.2 236.1 263.5 238.2 261.9 240.3 261.4 242.4 260.7 244.5 260.5 246.6 259.1 248.7 259 250.8 258.6 252.9 257.4 255 256.1 257.1 255.6 259.2 254.6 261.3 254.1 263.4 252.6 265.5 251.6 267.6 251.4 269.7 250.4 M166.7 307.9 168.8 306 170.9 305.8 173 303.7 175.1 302.3 177.2 301.7 179.3 300.7 181.4 299.5 183.5 298.4 185.6 296.6 187.7 294.9 189.8 293.3 191.9 291.4 194 289.4 196.1 288.7 198.2 287.3 200.3 285.3 202.4 283.8 204.5 282.4 206.6 280.9 208.7 280 210.8 279.2 212.9 278.2 215 276.9 217.1 275.3 219.3 275 221.4 274 223.5 270.8 225.6 269.5 227.7 268.3 229.8 265.8 231.9 263.9 234 262.6 236.1 261.4 238.2 260.6 240.3 261 242.4 260.1 244.5 259.3 246.6 258.2 248.7 257.3 250.8 256.9 252.9 255.8 255 255.5 257.1 254.4 259.2 252.5 261.3 251.9 263.4 251.2 265.5 250.1 267.6 248.6 269.7 248 M166.7 309 168.8 308.7 170.9 308.1 173 307.8 175.1 305.5 177.2 304.3 179.3 302.8 181.4 301.5 183.5 300 185.6 298.9 187.7 297.4 189.8 295.1 191.9 295 194 294.2 196.1 291.6 198.2 290.7 200.3 288.7 202.4 287.6 204.5 287.2 206.6 285.5 208.7 284.9 210.8 283.9 212.9 283.1 215 281.6 217.1 280.6 219.3 278.9 221.4 277 223.5 274.4 225.6 272.2 227.7 269.9 229.8 268.6 231.9 266.8 234 264.6 236.1 264 238.2 262.8 240.3 263.1 242.4 262.1 244.5 262 246.6 260.1 248.7 259.4 250.8 258.4 252.9 258.5 255 256.8 257.1 256.5 259.2 254.9 261.3 253.9 263.4 252.5 265.5 251.9 267.6 251.3 269.7 250.7 M166.7 307.6 168.8 306.3 170.9 305.5 173 304 175.1 303.5 177.2 302 179.3 300.7 181.4 299.7 183.5 298.4 185.6 296.5 187.7 295.7 189.8 293.8 191.9 291.9 194 290.1 196.1 288.8 198.2 287.3 200.3 286 202.4 284.5 204.5 283.7 206.6 282.6 208.7 281.1 210.8 281.3 212.9 279.5 215 278.7 217.1 277.2 219.3 275.8 221.4 274.8 223.5 273.2 225.6 270.9 227.7 268.9 229.8 267.7 231.9 265.1 234 264.1 236.1 262.7 238.2 262.3 240.3 260.9 242.4 260.7 244.5 259.6 246.6 259.2 248.7 259.1 250.8 258.1 252.9 257.1 255 256.7 257.1 255.3 259.2 253.7 261.3 252.9 263.4 252.6 265.5 251.8 267.6 251 269.7 250.1 M166.7 307.3 168.8 305.8 170.9 303.5 173 303.5 175.1 302.1 177.2 299.9 179.3 299 181.4 297.4 183.5 296.5 185.6 295.5 187.7 294.1 189.8 291.9 191.9 290.5 194 288.3 196.1 287.3 198.2 285.9 200.3 284.3 202.4 283.1 204.5 281.7 206.6 280.2 208.7 279.5 210.8 277.5 212.9 276.9 215 275.3 217.1 274.6 219.3 273.2 221.4 272.3 223.5 270.3 225.6 268.5 227.7 267.1 229.8 265.2 231.9 263.8 234 261.5 236.1 260.1 238.2 259.5 240.3 260.1 242.4 258.4 244.5 258 246.6 256.9 248.7 257 250.8 255.6 252.9 255.6 255 253.8 257.1 252.9 259.2 252.1 261.3 251 263.4 249.4 265.5 248.9 267.6 248.3 269.7 246.7 M166.7 306 168.8 304.8 170.9 304.3 173 302.6 175.1 301.5 177.2 300.4 179.3 299.1 181.4 298.5 183.5 297.2 185.6 295.4 187.7 294.2 189.8 293.8 191.9 291.2 194 289.5 196.1 288.2 198.2 286.2 200.3 285.5 202.4 284.8 204.5 282.9 206.6 282.1 208.7 281.2 210.8 280.4 212.9 279.6 215 279 217.1 278.2 219.3 276.4 221.4 275.4 223.5 273.6 225.6 271.3 227.7 269.8 229.8 267.9 231.9 266.5 234 264.5 236.1 263.3 238.2 263.4 240.3 262.4 242.4 261.5 244.5 261.5 246.6 260.9 248.7 259.8 250.8 259.2 252.9 258.8 255 257.5 257.1 256.7 259.2 255.7 261.3 255.3 263.4 254 265.5 252.9 267.6 252.2 269.7 251.9 M166.7 306.9 168.8 305.2 170.9 304.4 173 302.5 175.1 301.3 177.2 300.5 179.3 299.3 181.4 297.8 183.5 297.1 185.6 295.6 187.7 294.3 189.8 293.1 191.9 290.8 194 289.4 196.1 288.3 198.2 286.7 200.3 285.7 202.4 284.1 204.5 283.5 206.6 282.5 208.7 281.5 210.8 280.8 212.9 279.9 215 279.4 217.1 278.4 219.3 276.7 221.4 275.5 223.5 273.1 225.6 270.9 227.7 269.7 229.8 268 231.9 266.3 234 263.7 236.1 263.8 238.2 262 240.3 261.4 242.4 261.1 244.5 261.3 246.6 260.1 248.7 259.5 250.8 257.5 252.9 257.6 255 256.6 257.1 256 259.2 254.7 261.3 254.2 263.4 252.6 265.5 251.6 267.6 250.6 269.7 251 M166.7 308.6 168.8 307.7 170.9 306.7 173 305.2 175.1 304.5 177.2 302.7 179.3 301 181.4 300.4 183.5 299.5 185.6 298 187.7 296.6 189.8 295.4 191.9 294.1 194 292.4 196.1 291.4 198.2 289.7 200.3 289.2 202.4 287 204.5 286.8 206.6 285.5 208.7 284.4 210.8 283.2 212.9 283.2 215 282 217.1 280.2 219.3 278.7 221.4 277.4 223.5 275.5 225.6 273.2 227.7 271.3 229.8 269.8 231.9 267.7 234 266.5 236.1 264.4 238.2 264 240.3 264 242.4 262.8 244.5 262.9 246.6 261.8 248.7 261 250.8 260.8 252.9 259.1 255 258.4 257.1 257 259.2 256.5 261.3 255.9 263.4 254.3 265.5 253.6 267.6 252.1 269.7 252 M166.7 307.6 168.8 306.6 170.9 304.8 173 304 175.1 303.5 177.2 301.6 179.3 300.4 181.4 298.7 183.5 298.1 185.6 296.4 187.7 295.5 189.8 294.5 191.9 292.5 194 290.9 196.1 289.3 198.2 288.1 200.3 286.2 202.4 285.3 204.5 285.2 206.6 282.9 208.7 282 210.8 280.8 212.9 280.8 215 279.5 217.1 278 219.3 276.7 221.4 276.2 223.5 274.4 225.6 272.4 227.7 270.4 229.8 268.9 231.9 267.3 234 265.3 236.1 263.3 238.2 262.5 240.3 262.2 242.4 262.2 244.5 261.1 246.6 260.5 248.7 260.3 250.8 259.2 252.9 258.6 255 258.3 257.1 257.2 259.2 256.4 261.3 255.3 263.4 254.4 265.5 253.1 267.6 252.2 269.7 251 M166.7 303 168.8 298.7 170.9 294.5 173 291.3 175.1 288.6 177.2 286 179.3 283.3 181.4 282.1 183.5 281.6 185.6 281.1 187.7 279.4 189.8 278.9 191.9 277.1 194 275.8 196.1 273.7 198.2 272.4 200.3 270.7 202.4 269.5 204.5 267.5 206.6 267.3 208.7 265.2 210.8 264.4 212.9 263.8 215 262.8 217.1 262.5 219.3 261.5 221.4 260.7 223.5 259.5 225.6 259.3 227.7 258.4 229.8 256.8 231.9 255.6 234 254.8 236.1 253.6 238.2 253.4 240.3 253.1 242.4 252.6 244.5 252.4 246.6 251.6 248.7 250.7 250.8 250.3 252.9 250.2 255 249.6 257.1 248 259.2 247 261.3 247 263.4 245.7 265.5 245.3 267.6 244.8 269.7 243.5 M166.7 305.3 168.8 302.8 170.9 300.6 173 299.5 175.1 296.8 177.2 295.1 179.3 293.3 181.4 292.4 183.5 291 185.6 289.5 187.7 287.6 189.8 286 191.9 283.5 194 282.4 196.1 279.9 198.2 278.1 200.3 276.6 202.4 275 204.5 273.8 206.6 272.6 208.7 271.2 210.8 269.5 212.9 268.1 215 267 217.1 265.5 219.3 264.3 221.4 263.9 223.5 261.6 225.6 260.5 227.7 259.3 229.8 257.7 231.9 256.6 234 254.5 236.1 253.3 238.2 253.3 240.3 251.8 242.4 251.2 244.5 250.6 246.6 249.1 248.7 248.7 250.8 248 252.9 247.5 255 246.1 257.1 244.4 259.2 244.3 261.3 242.3 263.4 241.7 265.5 240.7 267.6 239.6 269.7 238.9 M166.7 305.4 168.8 303.9 170.9 302.2 173 300.8 175.1 299.6 177.2 298.3 179.3 296.1 181.4 295 183.5 293.9 185.6 292.3 187.7 291.2 189.8 289.3 191.9 287.4 194 285.6 196.1 284 198.2 282 200.3 280.6 202.4 279.4 204.5 277.5 206.6 276 208.7 275.1 210.8 273.7 212.9 273 215 271.1 217.1 269.8 219.3 269.1 221.4 267.7 223.5 266 225.6 264.9 227.7 263.7 229.8 261.6 231.9 259.7 234 258.6 236.1 257.2 238.2 255.9 240.3 255.8 242.4 255.1 244.5 254.8 246.6 253.1 248.7 252.6 250.8 251.7 252.9 250.3 255 250.6 257.1 248.2 259.2 247.5 261.3 246.9 263.4 245.4 265.5 245.2 267.6 244 269.7 243.3 M166.7 303.5 168.8 299.7 170.9 295.8 173 291.8 175.1 288.1 177.2 286.1 179.3 283 181.4 282.1 183.5 280.5 185.6 279 187.7 277.3 189.8 275.9 191.9 275 194 273.2 196.1 271.3 198.2 269.2 200.3 267.6 202.4 266.1 204.5 264.6 206.6 262.2 208.7 261.7 210.8 260.8 212.9 258.7 215 257.6 217.1 256.9 219.3 255.7 221.4 255.1 223.5 253.8 225.6 252.9 227.7 252.1 229.8 250.6 231.9 249.6 234 248 236.1 247.8 238.2 246.4 240.3 246.1 242.4 244.9 244.5 243.8 246.6 243.2 248.7 242 250.8 241.3 252.9 240.5 255 240 257.1 239.3 259.2 238.5 261.3 237.6 263.4 236.5 265.5 236.2 267.6 235.6 269.7 234.9 M166.7 304.4 168.8 300.8 170.9 297.9 173 295.3 175.1 293.7 177.2 290.5 179.3 288.1 181.4 287.1 183.5 286.4 185.6 284.5 187.7 282.8 189.8 282.4 191.9 280.4 194 278.1 196.1 276.6 198.2 275.2 200.3 272.4 202.4 272.3 204.5 270.3 206.6 269 208.7 267.3 210.8 266.9 212.9 264.4 215 263.6 217.1 261.3 219.3 261.4 221.4 260.4 223.5 258.6 225.6 257.3 227.7 256.9 229.8 255.8 231.9 254.8 234 252.7 236.1 252 238.2 250.8 240.3 251 242.4 249.2 244.5 249.1 246.6 247.6 248.7 246.7 250.8 246.5 252.9 244.6 255 244.6 257.1 243.3 259.2 242 261.3 241.1 263.4 240.9 265.5 239.8 267.6 238.8 269.7 237.9 M166.7 303.2 168.8 299.1 170.9 294.2 173 291.3 175.1 288.3 177.2 286.1 179.3 283 181.4 282.2 183.5 282.2 185.6 281 187.7 279.2 189.8 279.1 191.9 277.7 194 276.1 196.1 273.7 198.2 273.1 200.3 271.4 202.4 270.3 204.5 268.7 206.6 268.9 208.7 267 210.8 266.4 212.9 265.7 215 264.9 217.1 264.2 219.3 263.2 221.4 262.4 223.5 261.6 225.6 260.1 227.7 260.2 229.8 258.7 231.9 257.4 234 256.5 236.1 255.4 238.2 255.2 240.3 254.6 242.4 255 244.5 255 246.6 254.3 248.7 253.5 250.8 253.9 252.9 252.8 255 251.9 257.1 251.1 259.2 251.1 261.3 250.8 263.4 249.3 265.5 248.6 267.6 248 269.7 247.3" fill="none" stroke="#c2c2c2" stroke-width="0.5"/>
<path d="M170.8 310.8 184.5 304.9 196.3 297.1 208.1 289.2 221 283.3 235 270 250 262.5 269.5 254" fill="none" stroke="#c0c0c0" stroke-width="0.5"/>
<path d="M166.5 302 167.9 297.1 169.8 293.1 172.8 287.3 175.7 281.4 178.6 278.4 182.6 276.5 186.5 274.5 190.4 271.6 194.3 268.6 198.3 265.7 200.2 263.7 203.2 261.8 207.1 258.8 210 255.5 212 253.5 215 250.3 219 248.3 222.1 246.3 224.1 248.3 227.1 246.3 231.2 245.3 235.2 243.2 239.3 239.2 242.3 237.2 245.4 238.8 247.4 243.2 249.4 240.2 251.4 236.2 254.5 234.1 256.5 235.1 258.5 238.2 260.5 233.1 263.6 232.1 266.6 230.1 269.5 228.1" fill="none" stroke="#3b87bd" stroke-width="1.0" stroke-linejoin="round"/>
</g>
<rect x="161.6" y="223.5" width="113.2" height="90.7" fill="none" stroke="#999" stroke-width="0.65"/>
<text transform="translate(166.75 320.30) scale(1 1.1)" text-anchor="middle" class="t">0</text>
<text transform="translate(177.25 320.30) scale(1 1.1)" text-anchor="middle" class="t">5</text>
<text transform="translate(187.75 320.30) scale(1 1.1)" text-anchor="middle" class="t">10</text>
<text transform="translate(198.25 320.30) scale(1 1.1)" text-anchor="middle" class="t">15</text>
<text transform="translate(208.75 320.30) scale(1 1.1)" text-anchor="middle" class="t">20</text>
<text transform="translate(219.25 320.30) scale(1 1.1)" text-anchor="middle" class="t">25</text>
<text transform="translate(229.75 320.30) scale(1 1.1)" text-anchor="middle" class="t">30</text>
<text transform="translate(240.25 320.30) scale(1 1.1)" text-anchor="middle" class="t">35</text>
<text transform="translate(250.75 320.30) scale(1 1.1)" text-anchor="middle" class="t">40</text>
<text transform="translate(261.25 320.30) scale(1 1.1)" text-anchor="middle" class="t">45</text>
<text transform="translate(271.75 320.30) scale(1 1.1)" text-anchor="middle" class="t">50</text>
<text transform="translate(159.50 316.20) scale(1 1.1)" text-anchor="end" class="t">0.45</text>
<text transform="translate(159.50 305.77) scale(1 1.1)" text-anchor="end" class="t">0.50</text>
<text transform="translate(159.50 295.35) scale(1 1.1)" text-anchor="end" class="t">0.55</text>
<text transform="translate(159.50 284.93) scale(1 1.1)" text-anchor="end" class="t">0.60</text>
<text transform="translate(159.50 274.50) scale(1 1.1)" text-anchor="end" class="t">0.65</text>
<text transform="translate(159.50 264.07) scale(1 1.1)" text-anchor="end" class="t">0.70</text>
<text transform="translate(159.50 253.65) scale(1 1.1)" text-anchor="end" class="t">0.75</text>
<text transform="translate(159.50 243.22) scale(1 1.1)" text-anchor="end" class="t">0.80</text>
<text transform="translate(159.50 232.80) scale(1 1.1)" text-anchor="end" class="t">0.85</text>
<path d="M166.75 314.15v1.1M177.25 314.15v1.1M187.75 314.15v1.1M198.25 314.15v1.1M208.75 314.15v1.1M219.25 314.15v1.1M229.75 314.15v1.1M240.25 314.15v1.1M250.75 314.15v1.1M261.25 314.15v1.1M271.75 314.15v1.1M161.60 314.00h-1.1M161.60 303.57h-1.1M161.60 293.15h-1.1M161.60 282.73h-1.1M161.60 272.30h-1.1M161.60 261.88h-1.1M161.60 251.45h-1.1M161.60 241.03h-1.1M161.60 230.60h-1.1" stroke="#777" stroke-width="0.5" fill="none"/>
<text transform="translate(218.20 325.70) scale(1 1.1)" text-anchor="middle" class="l">Epoch</text>
<text transform="translate(146.55 269.22) rotate(-90)" text-anchor="middle" class="l">MLP-HSSCA Train Accuracy B</text>
<rect x="164.20" y="225.30" width="47.00" height="15.6" rx="1" fill="#fff" fill-opacity="0.8" stroke="#e0e0e0" stroke-width="0.4"/>
<path d="M165.60 229.30h9.8" stroke="#3b87bd" stroke-width="1.0"/>
<path d="M165.60 236.10h9.8" stroke="#c8c8c8" stroke-width="0.85"/>
<text x="178.80" y="231.00" class="lg">correct key</text>
<text x="178.80" y="237.80" class="lg">wrong key</text>
<g clip-path="url(#c10)">
<path d="M303.2 289.6 405.5 289.7 405.5 296.8 303.2 290.6Z" fill="#c0c0c0"/>
<path d="M302.5 285.3 304.6 287 306.7 288.3 308.8 289.1 310.9 289.6 313 289.9 315.1 289.6 317.2 290.3 319.3 290 323.5 290.2 327.7 290.6 334 290.3 344.5 291.3 355.1 290.9 365.6 291.1 376.1 291.2 386.6 291.2 397.1 291.6 405.5 291.6 M302.5 289.5 304.6 290 306.7 290 308.8 290.4 310.9 290.5 313 290.5 315.1 290.5 317.2 290.5 319.3 290.9 323.5 290.4 327.7 290.7 334 291 344.5 291.2 355.1 291.9 365.6 291.4 376.1 292 386.6 291.8 397.1 292.3 405.5 291.9 M302.5 228.6 304.6 280.5 306.7 288.8 308.8 290.4 310.9 290.5 313 291 315.1 291.4 317.2 291.3 319.3 291.3 323.5 291.3 327.7 291.4 334 291.5 344.5 292.1 355.1 292.5 365.6 292.6 376.1 293 386.6 293.3 397.1 293.5 405.5 293.4 M302.5 232.7 304.6 273.4 306.7 285.4 308.8 289.7 310.9 291 313 291.5 315.1 291.3 317.2 291.6 319.3 292.2 323.5 292.4 327.7 292.7 334 293.1 344.5 293.9 355.1 294 365.6 294.9 376.1 295.1 386.6 296 397.1 296 405.5 296.3 M302.5 234.9 304.6 288.2 306.7 290.4 308.8 290.8 310.9 291 313 290.9 315.1 291.2 317.2 291.1 319.3 291.3 323.5 291.7 327.7 291.9 334 291.6 344.5 291.9 355.1 292.4 365.6 292.4 376.1 292.3 386.6 293.1 397.1 293.1 405.5 292.9 M302.5 268.4 304.6 280.7 306.7 286.6 308.8 288.3 310.9 289.6 313 290.2 315.1 290.6 317.2 290.2 319.3 290.5 323.5 290.6 327.7 290.7 334 290.8 344.5 290.8 355.1 290.7 365.6 291.5 376.1 291.3 386.6 291.5 397.1 291.2 405.5 291.7 M302.5 273.6 304.6 290.1 306.7 291.2 308.8 290.7 310.9 291.4 313 291.8 315.1 291.7 317.2 291.7 319.3 292.5 323.5 292.6 327.7 292.7 334 293.3 344.5 293.6 355.1 294.4 365.6 294.7 376.1 295 386.6 295.3 397.1 295.7 405.5 296.1 M302.5 268.4 304.6 286.2 306.7 290.4 308.8 291.6 310.9 292.2 313 292.7 315.1 292.6 317.2 292.9 319.3 293 323.5 293.2 327.7 293.5 334 293.6 344.5 294.5 355.1 295.4 365.6 295.3 376.1 295.7 386.6 296.6 397.1 296.5 405.5 296.8 M302.5 285.6 304.6 288.5 306.7 289.5 308.8 289.4 310.9 290.3 313 290.3 315.1 290.4 317.2 290.2 319.3 290.2 323.5 290.8 327.7 290.4 334 291 344.5 290.4 355.1 291.3 365.6 291 376.1 291.5 386.6 291.4 397.1 291.8 405.5 291.8 M302.5 235.9 304.6 261.1 306.7 274.6 308.8 282.4 310.9 286.5 313 289.1 315.1 290.8 317.2 291.5 319.3 291.9 323.5 293 327.7 293.6 334 293.3 344.5 294.4 355.1 295 365.6 295.1 376.1 296.3 386.6 296.5 397.1 297.4 405.5 297.2 M302.5 288.7 304.6 289.7 306.7 290.3 308.8 290.5 310.9 290.6 313 290.9 315.1 290.8 317.2 291 319.3 290.8 323.5 291.4 327.7 291.3 334 291.1 344.5 291.8 355.1 291.9 365.6 291.5 376.1 292.2 386.6 292.1 397.1 292.1 405.5 292.5 M302.5 264.7 304.6 278.5 306.7 285.3 308.8 288.5 310.9 290.1 313 290.8 315.1 291.3 317.2 291.6 319.3 291.7 323.5 292.3 327.7 292.3 334 293 344.5 293.3 355.1 293.7 365.6 294.1 376.1 295.3 386.6 294.9 397.1 296.1 405.5 295.7 M302.5 233.4 304.6 268.1 306.7 281.9 308.8 287.3 310.9 289.6 313 290.8 315.1 291.5 317.2 291.8 319.3 291.8 323.5 292.2 327.7 292.4 334 293 344.5 293.7 355.1 294 365.6 294.4 376.1 295 386.6 295.2 397.1 295.8 405.5 295.8 M302.5 270.3 304.6 285.8 306.7 289 308.8 290.2 310.9 290.5 313 291.2 315.1 291.3 317.2 291.2 319.3 291.4 323.5 291.9 327.7 292.1 334 292.1 344.5 292.9 355.1 293.2 365.6 293.3 376.1 294 386.6 294.4 397.1 294.9 405.5 294.8 M302.5 289 304.6 289.7 306.7 289.6 308.8 289.9 310.9 289.9 313 289.8 315.1 290.3 317.2 290.1 319.3 289.9 323.5 289.4 327.7 289.6 334 289.7 344.5 290 355.1 289.6 365.6 289.5 376.1 289.6 386.6 289.2 397.1 290 405.5 290 M302.5 289.9 304.6 290.7 306.7 291 308.8 291.1 310.9 291.7 313 291.9 315.1 291.6 317.2 292.1 319.3 292.4 323.5 292.4 327.7 292.8 334 293.1 344.5 293.6 355.1 293.9 365.6 294.2 376.1 295 386.6 295.4 397.1 295.1 405.5 295.8 M302.5 283 304.6 285.9 306.7 287.8 308.8 288.6 310.9 289.6 313 290.2 315.1 290.9 317.2 290.9 319.3 291 323.5 291.3 327.7 291.3 334 291.7 344.5 291.8 355.1 292.1 365.6 292.5 376.1 292.3 386.6 292.7 397.1 292.7 405.5 293.3 M302.5 280.6 304.6 285.9 306.7 288.6 308.8 290.3 310.9 290.5 313 291.3 315.1 291.6 317.2 291.6 319.3 291.8 323.5 291.9 327.7 291.7 334 292.5 344.5 292.8 355.1 293.6 365.6 293.8 376.1 294.3 386.6 294.6 397.1 294.6 405.5 295 M302.5 257.3 304.6 282.1 306.7 288.8 308.8 290.8 310.9 291.3 313 292.3 315.1 292.4 317.2 292.1 319.3 292.2 323.5 293.1 327.7 293.3 334 294.1 344.5 294.5 355.1 295 365.6 295.4 376.1 296 386.6 296 397.1 296.6 405.5 296.9 M302.5 229.9 304.6 288 306.7 290.2 308.8 290.6 310.9 290.7 313 290.7 315.1 291.5 317.2 291.3 319.3 291.2 323.5 291.3 327.7 291.1 334 291.1 344.5 291.8 355.1 292.2 365.6 292.3 376.1 292.4 386.6 293.1 397.1 293.2 405.5 293.2 M302.5 237.8 304.6 264.1 306.7 278 308.8 284 310.9 287.4 313 289.3 315.1 289.8 317.2 290.1 319.3 290.6 323.5 291.2 327.7 291.4 334 291.5 344.5 291.6 355.1 291.3 365.6 291.6 376.1 291.8 386.6 291.8 397.1 292.1 405.5 292.1 M302.5 282.2 304.6 286.4 306.7 288.5 308.8 289.2 310.9 290.2 313 290.1 315.1 290.5 317.2 290.3 319.3 290.9 323.5 291 327.7 291.2 334 291.5 344.5 291.4 355.1 291.8 365.6 291.7 376.1 292.1 386.6 291.9 397.1 292.8 405.5 292.3 M302.5 289.5 304.6 290.3 306.7 290.9 308.8 291.2 310.9 291.3 313 291.4 315.1 292 317.2 292 319.3 292.4 323.5 292.3 327.7 292.9 334 293.2 344.5 293.5 355.1 294.1 365.6 294.4 376.1 294.9 386.6 295.2 397.1 295.6 405.5 296.1 M302.5 288.9 304.6 289.6 306.7 289.4 308.8 289.4 310.9 289.9 313 289.6 315.1 289.8 317.2 290 319.3 290.1 323.5 290 327.7 290 334 290 344.5 290 355.1 290.3 365.6 289.9 376.1 290.3 386.6 290.4 397.1 290 405.5 290 M302.5 289.4 304.6 289.5 306.7 289.7 308.8 289.5 310.9 290.1 313 289.5 315.1 290 317.2 289.4 319.3 289.9 323.5 289.4 327.7 289.1 334 289.7 344.5 289.9 355.1 289.2 365.6 289.7 376.1 289.9 386.6 289.4 397.1 290.3 405.5 290 M302.5 268.7 304.6 288.4 306.7 290.7 308.8 291.4 310.9 291.2 313 291.6 315.1 291.5 317.2 291.6 319.3 291.9 323.5 292.6 327.7 292.6 334 292.4 344.5 293.1 355.1 293.3 365.6 294.4 376.1 294.3 386.6 294.6 397.1 295.2 405.5 295.2 M302.5 257.8 304.6 286.3 306.7 289.5 308.8 289.9 310.9 290.4 313 290.1 315.1 290.5 317.2 290.3 319.3 290.4 323.5 290.7 327.7 291 334 291.2 344.5 291.3 355.1 291.6 365.6 291.5 376.1 292 386.6 292.1 397.1 292 405.5 292.4 M302.5 266.1 304.6 286.6 306.7 289.4 308.8 289.9 310.9 289.7 313 289.5 315.1 289.6 317.2 289.5 319.3 289.7 323.5 290.2 327.7 290.4 334 290.4 344.5 290.5 355.1 290.8 365.6 290.6 376.1 291.1 386.6 290.9 397.1 291 405.5 291.6 M302.5 284.6 304.6 286.7 306.7 287.8 308.8 288.4 310.9 289.1 313 289.6 315.1 289.7 317.2 289.8 319.3 290.5 323.5 290.5 327.7 290.4 334 290.3 344.5 290.6 355.1 291.2 365.6 291.2 376.1 291.5 386.6 291.6 397.1 291.6 405.5 291.8 M302.5 244.8 304.6 288.4 306.7 290.4 308.8 290.5 310.9 290.1 313 290.4 315.1 290.3 317.2 290.7 319.3 290.8 323.5 290.9 327.7 290.6 334 291.1 344.5 291.4 355.1 291.3 365.6 291 376.1 291.4 386.6 291.4 397.1 291.5 405.5 291.6 M302.5 249.6 304.6 266.1 306.7 275.3 308.8 281.8 310.9 285.6 313 287.7 315.1 289.1 317.2 290.1 319.3 290.7 323.5 291.8 327.7 292 334 292.7 344.5 293.1 355.1 293.3 365.6 293.7 376.1 293.8 386.6 294.6 397.1 294.3 405.5 294.8 M302.5 267.4 304.6 282.6 306.7 287.5 308.8 289 310.9 289.4 313 289.6 315.1 290 317.2 289.8 319.3 289.7 323.5 290 327.7 290.4 334 290.5 344.5 290.5 355.1 290.5 365.6 290.8 376.1 291.1 386.6 291.3 397.1 291 405.5 291.3 M302.5 266 304.6 287.4 306.7 289.8 308.8 290.3 310.9 289.6 313 289.8 315.1 290.1 317.2 290.2 319.3 289.7 323.5 289.9 327.7 289.8 334 289.7 344.5 289.9 355.1 289.8 365.6 289.6 376.1 289.8 386.6 289.8 397.1 289.6 405.5 290.1 M302.5 288.6 304.6 289.8 306.7 290.6 308.8 290.6 310.9 290.5 313 290.3 315.1 290.7 317.2 291 319.3 290.9 323.5 291.2 327.7 291.5 334 291.6 344.5 292.4 355.1 292.1 365.6 292.5 376.1 292.9 386.6 293.2 397.1 293.5 405.5 293.4 M302.5 246.8 304.6 285.7 306.7 289.4 308.8 290.1 310.9 290.4 313 290.2 315.1 290.3 317.2 290.1 319.3 290.4 323.5 290.7 327.7 290.8 334 291 344.5 290.9 355.1 291.1 365.6 291.5 376.1 291.6 386.6 291.4 397.1 291.8 405.5 291.8 M302.5 276.3 304.6 288.6 306.7 290.1 308.8 290.4 310.9 290.2 313 290.1 315.1 290.4 317.2 290.2 319.3 290.5 323.5 290.8 327.7 290.8 334 290.8 344.5 290.4 355.1 290.9 365.6 291.2 376.1 291.2 386.6 291.3 397.1 291.6 405.5 291.6 M302.5 283.5 304.6 289.1 306.7 289.6 308.8 289.8 310.9 289.5 313 289.5 315.1 289.6 317.2 289.5 319.3 289.5 323.5 289.5 327.7 289.8 334 290.1 344.5 289.5 355.1 290 365.6 289.8 376.1 289.9 386.6 290.2 397.1 289.7 405.5 290 M302.5 280.2 304.6 286.3 306.7 288.6 308.8 289.3 310.9 289.9 313 289.9 315.1 290.3 317.2 290.3 319.3 290.1 323.5 290.5 327.7 290.3 334 290.4 344.5 290.6 355.1 291.1 365.6 291.1 376.1 291.1 386.6 291.3 397.1 290.9 405.5 291.3 M302.5 255.9 304.6 273.4 306.7 282.3 308.8 286.3 310.9 289 313 290 315.1 290.5 317.2 290.8 319.3 290.8 323.5 291.3 327.7 291.7 334 291.6 344.5 291.9 355.1 292.1 365.6 292.6 376.1 292.7 386.6 293 397.1 293 405.5 293.4 M302.5 257.5 304.6 283 306.7 287.9 308.8 289.3 310.9 289.2 313 289.8 315.1 289.8 317.2 289.5 319.3 289.2 323.5 289.2 327.7 289.8 334 289.7 344.5 289.8 355.1 290.3 365.6 289.7 376.1 290 386.6 289.7 397.1 290 405.5 290.2 M302.5 271.6 304.6 289.4 306.7 290.6 308.8 290.5 310.9 290.4 313 290.7 315.1 291 317.2 291.2 319.3 291.3 323.5 291.6 327.7 291.6 334 291.6 344.5 292.1 355.1 291.9 365.6 292.5 376.1 292.9 386.6 293 397.1 292.9 405.5 293.7 M302.5 267.6 304.6 287.9 306.7 288.8 308.8 289.8 310.9 289.9 313 290 315.1 290.4 317.2 290.9 319.3 290.3 323.5 290.4 327.7 290.7 334 290.8 344.5 291 355.1 291.3 365.6 292.1 376.1 291.7 386.6 292 397.1 292.3 405.5 292.6 M302.5 285.7 304.6 288.4 306.7 290 308.8 290.6 310.9 291.3 313 291.4 315.1 291.4 317.2 292 319.3 292.3 323.5 292.6 327.7 292.6 334 293.2 344.5 293.5 355.1 294.1 365.6 294.4 376.1 295.1 386.6 295.5 397.1 295.8 405.5 295.8 M302.5 283 304.6 286.7 306.7 288.2 308.8 289.4 310.9 289.8 313 290.2 315.1 290.3 317.2 290.8 319.3 291.1 323.5 291.1 327.7 291.1 334 291.3 344.5 291.6 355.1 291.7 365.6 292.3 376.1 292.5 386.6 292.8 397.1 293 405.5 292.8 M302.5 283 304.6 286.7 306.7 288.3 308.8 289.2 310.9 290.1 313 290.5 315.1 290.8 317.2 291.2 319.3 291.7 323.5 291.6 327.7 292 334 292.6 344.5 292.4 355.1 292.4 365.6 292.7 376.1 292.9 386.6 292.7 397.1 293.2 405.5 293.2 M302.5 264.7 304.6 285.2 306.7 288.7 308.8 290 310.9 289.9 313 289.9 315.1 290.4 317.2 290.7 319.3 290.4 323.5 290.6 327.7 290.7 334 290.8 344.5 291 355.1 291.1 365.6 291.6 376.1 292.2 386.6 291.9 397.1 292.2 405.5 292.4 M302.5 289.8 304.6 289.8 306.7 290.2 308.8 290 310.9 290.4 313 290.5 315.1 290.7 317.2 291.1 319.3 290.9 323.5 291 327.7 291 334 291.4 344.5 291.6 355.1 291.9 365.6 292.4 376.1 292.5 386.6 292.8 397.1 293.2 405.5 293.4 M302.5 283.6 304.6 287.3 306.7 289.5 308.8 290.2 310.9 290.6 313 291.3 315.1 291.4 317.2 292.1 319.3 292.2 323.5 292.3 327.7 292.9 334 293.3 344.5 293.9 355.1 294.8 365.6 294.8 376.1 295.6 386.6 296.1 397.1 296.5 405.5 296.7 M302.5 241.2 304.6 261.7 306.7 273.5 308.8 280.1 310.9 284.4 313 286.3 315.1 287.9 317.2 288.4 319.3 289.2 323.5 289.4 327.7 290 334 290.1 344.5 289.9 355.1 290.2 365.6 289.9 376.1 290.4 386.6 290.2 397.1 290.5 405.5 290.8 M302.5 252.2 304.6 269.7 306.7 279.2 308.8 284.5 310.9 287.3 313 289.2 315.1 290.2 317.2 290.8 319.3 291.4 323.5 291.4 327.7 291.6 334 292 344.5 292.6 355.1 292.6 365.6 293.2 376.1 293.1 386.6 293.7 397.1 294 405.5 294.1 M302.5 280.7 304.6 285.6 306.7 287.9 308.8 289.5 310.9 290 313 290.5 315.1 290.7 317.2 291.2 319.3 291.1 323.5 291.6 327.7 291.4 334 291.8 344.5 292 355.1 292.1 365.6 292.1 376.1 292.2 386.6 292.7 397.1 293.1 405.5 292.7 M302.5 273.1 304.6 283.2 306.7 287.1 308.8 289.1 310.9 289.5 313 290.1 315.1 290.2 317.2 290.2 319.3 290.2 323.5 290.3 327.7 290.5 334 290.9 344.5 290.8 355.1 291.4 365.6 291 376.1 291.2 386.6 290.9 397.1 291.7 405.5 290.8 M302.5 288.7 304.6 289.6 306.7 290.9 308.8 291.1 310.9 291.5 313 291.9 315.1 291.9 317.2 291.9 319.3 292.5 323.5 292.5 327.7 292.6 334 293 344.5 294 355.1 294 365.6 294.5 376.1 294.5 386.6 295.2 397.1 295 405.5 295.9 M302.5 289.5 304.6 290.5 306.7 291.2 308.8 291.8 310.9 292 313 291.9 315.1 292.1 317.2 292.4 319.3 292.5 323.5 292.8 327.7 293.1 334 293.8 344.5 294.1 355.1 294.5 365.6 295.4 376.1 295.1 386.6 295.5 397.1 296.2 405.5 296.1 M302.5 285.6 304.6 288.3 306.7 289.5 308.8 290.1 310.9 290.2 313 290.8 315.1 291.1 317.2 291.1 319.3 291 323.5 291.5 327.7 291.3 334 291.7 344.5 292.1 355.1 292.2 365.6 292.2 376.1 292.9 386.6 292.7 397.1 293.1 405.5 293.3 M302.5 261.8 304.6 288.6 306.7 289.6 308.8 289.8 310.9 289.7 313 289.7 315.1 289.7 317.2 289.6 319.3 289.9 323.5 289.8 327.7 289.6 334 289.5 344.5 289.9 355.1 289.8 365.6 289.8 376.1 290.4 386.6 290.2 397.1 290.5 405.5 290.4 M302.5 235.6 304.6 287.9 306.7 291.3 308.8 292 310.9 291.9 313 292.2 315.1 292.3 317.2 292.7 319.3 292.9 323.5 293.2 327.7 293.5 334 293.8 344.5 294.4 355.1 294.7 365.6 294.5 376.1 295.7 386.6 296.3 397.1 296.2 405.5 296.9 M302.5 242.6 304.6 264.9 306.7 276.5 308.8 283 310.9 286.8 313 288.7 315.1 290 317.2 290.2 319.3 290.8 323.5 290.8 327.7 291.5 334 291.3 344.5 292.1 355.1 292.5 365.6 292.6 376.1 292.6 386.6 292.6 397.1 293.2 405.5 293 M302.5 281.8 304.6 285.5 306.7 288.1 308.8 289.2 310.9 290.2 313 290.6 315.1 291.7 317.2 292 319.3 292.4 323.5 292.8 327.7 292.9 334 293.6 344.5 293.7 355.1 294.5 365.6 295.2 376.1 295.5 386.6 296.1 397.1 296.4 405.5 296.2 M302.5 289.1 304.6 289.8 306.7 289.8 308.8 290 310.9 290 313 290 315.1 289.9 317.2 290.3 319.3 289.9 323.5 289.9 327.7 290.2 334 289.9 344.5 290.2 355.1 290.6 365.6 290.4 376.1 290 386.6 289.9 397.1 290.1 405.5 290.4" fill="none" stroke="#c0c0c0" stroke-width="0.5"/>
<path d="M302.6 250.8 305 265 308.1 273 313.7 277.2 324.8 282.7 336 287.6 345 289" fill="none" stroke="#c0c0c0" stroke-width="0.5"/>
<path d="M302.6 264.7 305.3 271.6 313.7 278.6 324.8 285.5 332 288.5" fill="none" stroke="#c0c0c0" stroke-width="0.5"/>
<path d="M302.6 289.6 313 290.8 323.5 292 340.3 294.3 355 296.8 365.5 299 376 301.8 386.5 305 397 308 405.4 310.3" fill="none" stroke="#3b87bd" stroke-width="1.0" stroke-linejoin="round"/>
</g>
<rect x="297.4" y="223.5" width="113.2" height="90.7" fill="none" stroke="#999" stroke-width="0.65"/>
<text transform="translate(302.55 320.30) scale(1 1.1)" text-anchor="middle" class="t">0</text>
<text transform="translate(313.05 320.30) scale(1 1.1)" text-anchor="middle" class="t">5</text>
<text transform="translate(323.55 320.30) scale(1 1.1)" text-anchor="middle" class="t">10</text>
<text transform="translate(334.05 320.30) scale(1 1.1)" text-anchor="middle" class="t">15</text>
<text transform="translate(344.55 320.30) scale(1 1.1)" text-anchor="middle" class="t">20</text>
<text transform="translate(355.05 320.30) scale(1 1.1)" text-anchor="middle" class="t">25</text>
<text transform="translate(365.55 320.30) scale(1 1.1)" text-anchor="middle" class="t">30</text>
<text transform="translate(376.05 320.30) scale(1 1.1)" text-anchor="middle" class="t">35</text>
<text transform="translate(386.55 320.30) scale(1 1.1)" text-anchor="middle" class="t">40</text>
<text transform="translate(397.05 320.30) scale(1 1.1)" text-anchor="middle" class="t">45</text>
<text transform="translate(407.55 320.30) scale(1 1.1)" text-anchor="middle" class="t">50</text>
<text transform="translate(295.30 313.20) scale(1 1.1)" text-anchor="end" class="t">0.23</text>
<text transform="translate(295.30 302.47) scale(1 1.1)" text-anchor="end" class="t">0.24</text>
<text transform="translate(295.30 291.75) scale(1 1.1)" text-anchor="end" class="t">0.25</text>
<text transform="translate(295.30 281.02) scale(1 1.1)" text-anchor="end" class="t">0.26</text>
<text transform="translate(295.30 270.30) scale(1 1.1)" text-anchor="end" class="t">0.27</text>
<text transform="translate(295.30 259.57) scale(1 1.1)" text-anchor="end" class="t">0.28</text>
<text transform="translate(295.30 248.85) scale(1 1.1)" text-anchor="end" class="t">0.29</text>
<text transform="translate(295.30 238.12) scale(1 1.1)" text-anchor="end" class="t">0.30</text>
<text transform="translate(295.30 227.40) scale(1 1.1)" text-anchor="end" class="t">0.31</text>
<path d="M302.55 314.15v1.1M313.05 314.15v1.1M323.55 314.15v1.1M334.05 314.15v1.1M344.55 314.15v1.1M355.05 314.15v1.1M365.55 314.15v1.1M376.05 314.15v1.1M386.55 314.15v1.1M397.05 314.15v1.1M407.55 314.15v1.1M297.40 311.00h-1.1M297.40 300.27h-1.1M297.40 289.55h-1.1M297.40 278.82h-1.1M297.40 268.10h-1.1M297.40 257.38h-1.1M297.40 246.65h-1.1M297.40 235.92h-1.1M297.40 225.20h-1.1" stroke="#777" stroke-width="0.5" fill="none"/>
<text transform="translate(354.00 325.70) scale(1 1.1)" text-anchor="middle" class="l">Epoch</text>
<text transform="translate(282.35 269.22) rotate(-90)" text-anchor="middle" class="l">CNN-HSSCA Train Loss B</text>
<rect x="361.60" y="225.30" width="47.00" height="15.6" rx="1" fill="#fff" fill-opacity="0.8" stroke="#e0e0e0" stroke-width="0.4"/>
<path d="M363.00 229.30h9.8" stroke="#3b87bd" stroke-width="1.0"/>
<path d="M363.00 236.10h9.8" stroke="#c8c8c8" stroke-width="0.85"/>
<text x="376.20" y="231.00" class="lg">correct key</text>
<text x="376.20" y="237.80" class="lg">wrong key</text>
<g clip-path="url(#c11)">
<path d="M437.6 306 444.1 301 456.2 295.5 468.3 292 480.4 289 487.6 287.3 501.5 285.5 515.4 282.7 529.3 280 541.1 277.2 541.1 285 534.4 286 522.3 287.5 510.2 290 492 294 480.4 296.7 468.3 300.3 456.2 303.9 446.5 307.6 437.6 310Z" fill="#e0e0e0"/>
<path d="M437.5 285.6 439.6 281.2 441.7 274.8 443.8 271.9 445.9 272.3 448 270.5 450.1 269.5 452.2 268.7 454.3 268.2 456.4 266.5 458.5 264.7 460.6 264.5 462.7 264 464.8 264.4 466.9 261.4 469 261.9 471.1 260.6 473.2 261.2 475.3 259.9 477.4 257 479.5 260.5 481.6 258.5 483.7 257.7 485.8 256.9 487.9 256.9 490.1 256.3 492.2 257.1 494.3 257 496.4 256.4 498.5 256.4 500.6 254.9 502.7 255.9 504.8 254.8 506.9 255 509 254.8 511.1 253.4 513.2 254.6 515.3 254 517.4 252.5 519.5 254.4 521.6 254.1 523.7 250.8 525.8 249.9 527.9 251.3 530 252.2 532.1 252.5 534.2 252 536.3 251.2 538.4 251.9 540.5 251.5 540.5 279.7 538.4 276.2 536.3 277.2 534.2 278.7 532.1 279.9 530 279.5 527.9 281.5 525.8 279.4 523.7 282.8 521.6 281.8 519.5 279.2 517.4 282.8 515.3 282.6 513.2 281.8 511.1 284.1 509 284.1 506.9 283.4 504.8 284.3 502.7 285.5 500.6 285.7 498.5 284.4 496.4 285.9 494.3 286.1 492.2 285.5 490.1 288.4 487.9 288.1 485.8 285.5 483.7 287.3 481.6 287.9 479.5 290.8 477.4 289.4 475.3 291.9 473.2 291.6 471.1 291.8 469 291.8 466.9 292.3 464.8 294.1 462.7 293.3 460.6 295.4 458.5 294.8 456.4 295 454.3 297.1 452.2 297.9 450.1 299.6 448 298.4 445.9 299.5 443.8 300.5 441.7 303.8 439.6 304.5 437.5 305.5Z" fill="#c0c0c0" stroke="#c0c0c0" stroke-width="0.4"/>
<path d="M437.5 283.4 439.6 280.1 441.7 275.9 443.8 272.7 445.9 271 448 266 450.1 269.2 452.2 269 454.3 267.3 456.4 265.3 458.5 264.5 460.6 266 462.7 261.1 464.8 260.7 466.9 262 469 260.6 471.1 257.3 473.2 259.5 475.3 259.3 477.4 257.5 479.5 259 481.6 258.3 483.7 255.8 485.8 258.1 487.9 259.7 490.1 258.8 492.2 254.9 494.3 254.5 496.4 255.6 498.5 255.6 500.6 253.2 502.7 253.5 504.8 255.4 506.9 253.7 509 253.8 511.1 252 513.2 253 515.3 251 517.4 250.5 519.5 249.5 521.6 248 523.7 250 525.8 248.7 527.9 249.6 530 250.1 532.1 250.1 534.2 250.1 536.3 249.1 538.4 249.4 540.5 250.9 M437.5 281.8 439.6 276.3 441.7 273 443.8 274.3 445.9 269.5 448 268 450.1 268.5 452.2 266.1 454.3 263.3 456.4 262.9 458.5 264.2 460.6 259.7 462.7 259.1 464.8 261 466.9 259.7 469 260.2 471.1 257.1 473.2 257.1 475.3 257.2 477.4 255.5 479.5 256.2 481.6 256 483.7 256.7 485.8 255.3 487.9 254.6 490.1 255.3 492.2 255.7 494.3 255.3 496.4 254.1 498.5 253 500.6 252.6 502.7 251.3 504.8 252.4 506.9 251.5 509 253.1 511.1 251.1 513.2 251.2 515.3 251.4 517.4 247.3 519.5 248.6 521.6 249 523.7 249.3 525.8 247.5 527.9 249.8 530 249.9 532.1 249.3 534.2 249.6 536.3 247.2 538.4 250 540.5 248.1 M437.5 285.3 439.6 277.7 441.7 274.9 443.8 273.5 445.9 273 448 268.6 450.1 266.9 452.2 268.4 454.3 265.3 456.4 265.6 458.5 264.1 460.6 263.5 462.7 262.2 464.8 263 466.9 260.2 469 263.3 471.1 260.7 473.2 258.7 475.3 257.8 477.4 258.7 479.5 257.8 481.6 257.1 483.7 259.4 485.8 258.4 487.9 255.7 490.1 257.1 492.2 256 494.3 256.2 496.4 253.7 498.5 256.6 500.6 253.5 502.7 255.1 504.8 251.8 506.9 253.5 509 251.3 511.1 253.2 513.2 250.5 515.3 249.2 517.4 248.6 519.5 249 521.6 250.3 523.7 249.6 525.8 249.3 527.9 250.3 530 250.7 532.1 247.4 534.2 250.1 536.3 251.3 538.4 247.6 540.5 247.5 M437.5 284.4 439.6 279 441.7 274 443.8 270.3 445.9 269.3 448 269.5 450.1 268.4 452.2 267 454.3 267.5 456.4 264.5 458.5 264.9 460.6 264 462.7 262.4 464.8 261.1 466.9 261.9 469 261 471.1 260.9 473.2 258.7 475.3 260.2 477.4 260.9 479.5 258.1 481.6 258.1 483.7 257.7 485.8 258.9 487.9 254.8 490.1 258.7 492.2 257.1 494.3 255.8 496.4 256.2 498.5 256.7 500.6 255.1 502.7 255.2 504.8 255.7 506.9 253.8 509 253.7 511.1 254.1 513.2 252.3 515.3 250.7 517.4 252 519.5 253.4 521.6 250.3 523.7 251.1 525.8 251.1 527.9 251.5 530 249.7 532.1 250.2 534.2 252.2 536.3 250.8 538.4 249 540.5 250.5 M437.5 283.2 439.6 278.3 441.7 272.2 443.8 271.9 445.9 270.2 448 269.3 450.1 268.7 452.2 268.7 454.3 267.3 456.4 263.8 458.5 265 460.6 262 462.7 262.9 464.8 262 466.9 263.3 469 260.7 471.1 260.3 473.2 259.7 475.3 260.8 477.4 259.8 479.5 258.4 481.6 259.2 483.7 260.6 485.8 259.8 487.9 259.3 490.1 256.2 492.2 256.2 494.3 256.4 496.4 254 498.5 257.9 500.6 253.5 502.7 255 504.8 252.6 506.9 253.6 509 254 511.1 253 513.2 251.1 515.3 251 517.4 252.6 519.5 251.3 521.6 251.3 523.7 252.2 525.8 247.9 527.9 251 530 251.7 532.1 251.9 534.2 250.3 536.3 248.6 538.4 250.7 540.5 251.7 M437.5 284.6 439.6 278.7 441.7 272.6 443.8 269.2 445.9 268 448 267.9 450.1 267.2 452.2 265.9 454.3 263.9 456.4 263.8 458.5 262.9 460.6 261.2 462.7 260.4 464.8 260.3 466.9 258.9 469 260.7 471.1 260.8 473.2 260.6 475.3 258.1 477.4 257.5 479.5 258.3 481.6 257.2 483.7 257.4 485.8 257.1 487.9 255.2 490.1 258 492.2 254.3 494.3 253.4 496.4 255.6 498.5 252.8 500.6 254.9 502.7 253.5 504.8 253.1 506.9 251.7 509 249.9 511.1 249.6 513.2 250.7 515.3 250.2 517.4 248.2 519.5 248 521.6 248.1 523.7 248.8 525.8 249.3 527.9 249.6 530 248 532.1 249.9 534.2 249.1 536.3 249.9 538.4 246.8 540.5 248.3 M437.5 285.6 439.6 280 441.7 272.9 443.8 271.6 445.9 272.1 448 268.5 450.1 269.9 452.2 266.4 454.3 269.4 456.4 267.1 458.5 264.1 460.6 263.3 462.7 261 464.8 262.5 466.9 263.6 469 262.3 471.1 261.1 473.2 263.3 475.3 261.1 477.4 260.4 479.5 259 481.6 259.8 483.7 261.6 485.8 258.6 487.9 255.8 490.1 257.5 492.2 258.7 494.3 257.3 496.4 254.8 498.5 255.6 500.6 253.1 502.7 254.9 504.8 252.5 506.9 252.3 509 251.7 511.1 250.9 513.2 253.2 515.3 252.4 517.4 250.1 519.5 250.4 521.6 251.5 523.7 249.1 525.8 248.8 527.9 248.2 530 250.9 532.1 249.2 534.2 248.9 536.3 248.3 538.4 247.6 540.5 249.9 M437.5 283.7 439.6 277.3 441.7 272.5 443.8 270.2 445.9 269.4 448 266.2 450.1 266.8 452.2 266.1 454.3 265.5 456.4 263.5 458.5 264 460.6 259.5 462.7 260.6 464.8 259.7 466.9 259.6 469 258.7 471.1 260.3 473.2 258 475.3 256.4 477.4 260 479.5 256.8 481.6 255.9 483.7 256.7 485.8 254.5 487.9 254.5 490.1 255.1 492.2 252 494.3 252.1 496.4 253.3 498.5 254.3 500.6 251.8 502.7 251.5 504.8 252.5 506.9 249.2 509 249.7 511.1 249.1 513.2 247.3 515.3 245.8 517.4 248.1 519.5 249.1 521.6 248.8 523.7 249.5 525.8 244.7 527.9 247.5 530 249.1 532.1 246.5 534.2 245.7 536.3 247.6 538.4 246.9 540.5 247.7 M437.5 285.6 439.6 281.5 441.7 274.5 443.8 273 445.9 271 448 269.3 450.1 269.1 452.2 266.8 454.3 267.8 456.4 266.5 458.5 265.1 460.6 263 462.7 262.7 464.8 261.6 466.9 262 469 260.9 471.1 261.1 473.2 261.5 475.3 261.5 477.4 258.6 479.5 259.1 481.6 257.5 483.7 259.8 485.8 257 487.9 259.4 490.1 256.9 492.2 258.2 494.3 255.7 496.4 255.6 498.5 255.5 500.6 255.3 502.7 254.7 504.8 255 506.9 254.7 509 253.7 511.1 251.6 513.2 249.3 515.3 251.2 517.4 247.6 519.5 251.6 521.6 250.9 523.7 248.6 525.8 250.6 527.9 249 530 251.2 532.1 248.8 534.2 249 536.3 249.1 538.4 249.9 540.5 248.1 M437.5 287.9 439.6 278.7 441.7 275.3 443.8 271.6 445.9 270.1 448 270 450.1 268.4 452.2 270.5 454.3 267.1 456.4 265.2 458.5 267.6 460.6 262.4 462.7 262.2 464.8 261.4 466.9 260 469 260.9 471.1 261.1 473.2 257.6 475.3 258.3 477.4 258.1 479.5 256.8 481.6 256.5 483.7 257.2 485.8 256.4 487.9 257.3 490.1 257.5 492.2 256.3 494.3 256 496.4 254.2 498.5 254.1 500.6 254.9 502.7 254.5 504.8 253.3 506.9 253.3 509 251.9 511.1 250.5 513.2 251.6 515.3 250.2 517.4 248.3 519.5 251 521.6 249.8 523.7 249.8 525.8 248.4 527.9 250.4 530 248.8 532.1 248.9 534.2 246.7 536.3 246.7 538.4 248.4 540.5 246.7 M437.5 309.7 439.6 308.1 441.7 307.9 443.8 306.1 445.9 304.6 448 303.8 450.1 303.9 452.2 303.7 454.3 299.3 456.4 299.1 458.5 298.2 460.6 298.8 462.7 298 464.8 298.5 466.9 297.5 469 298.8 471.1 295.7 473.2 294.9 475.3 294.1 477.4 294 479.5 294 481.6 292.8 483.7 291.9 485.8 290.9 487.9 292.2 490.1 290.8 492.2 289.8 494.3 290 496.4 290.4 498.5 291.9 500.6 291 502.7 287.8 504.8 287.7 506.9 285.7 509 285.3 511.1 284.8 513.2 287.7 515.3 285.9 517.4 283.8 519.5 284.2 521.6 283.7 523.7 283.2 525.8 285.4 527.9 280.8 530 282.1 532.1 282.5 534.2 282.4 536.3 278.9 538.4 281.2 540.5 278.9 M437.5 308.6 439.6 310.6 441.7 307.9 443.8 307.1 445.9 306.5 448 306.4 450.1 305.4 452.2 303.5 454.3 303 456.4 302.4 458.5 301.7 460.6 300 462.7 298.9 464.8 298.8 466.9 299.3 469 297.7 471.1 296.5 473.2 297 475.3 296.3 477.4 297.2 479.5 295.6 481.6 295 483.7 297.5 485.8 295.6 487.9 293.6 490.1 295.8 492.2 293.6 494.3 292.8 496.4 293.9 498.5 291.1 500.6 292.1 502.7 292.6 504.8 292.5 506.9 290.7 509 290.2 511.1 290.5 513.2 291.2 515.3 287.2 517.4 289.9 519.5 288.8 521.6 289.7 523.7 286.9 525.8 289.3 527.9 286.5 530 287.5 532.1 286.3 534.2 283.7 536.3 286.3 538.4 286.5 540.5 286.8 M437.5 303.8 439.6 305.3 441.7 304.1 443.8 304.8 445.9 299.9 448 300.8 450.1 299.7 452.2 296.6 454.3 297 456.4 294.9 458.5 294.2 460.6 293.2 462.7 294.3 464.8 292.7 466.9 290.9 469 292.9 471.1 290.1 473.2 292.3 475.3 291.1 477.4 289.3 479.5 287.9 481.6 288.2 483.7 287.1 485.8 287.8 487.9 287.2 490.1 290.3 492.2 284.7 494.3 285.9 496.4 286.7 498.5 287.2 500.6 287.1 502.7 284 504.8 285.6 506.9 280.9 509 283.6 511.1 284.4 513.2 284.1 515.3 281.1 517.4 281.3 519.5 279.4 521.6 280.6 523.7 279.7 525.8 281.6 527.9 280 530 281.1 532.1 279.9 534.2 279.2 536.3 281.3 538.4 279.9 540.5 276.7 M437.5 308.6 439.6 305.8 441.7 305.2 443.8 305 445.9 301.1 448 304.9 450.1 302 452.2 298.9 454.3 298.2 456.4 297.9 458.5 297.3 460.6 295.2 462.7 295.9 464.8 293.6 466.9 293.9 469 296 471.1 293.1 473.2 292.2 475.3 294.1 477.4 292 479.5 291.7 481.6 290 483.7 292 485.8 290 487.9 290.9 490.1 290.2 492.2 291.2 494.3 290 496.4 288.3 498.5 287 500.6 287.9 502.7 286.9 504.8 288.9 506.9 286 509 283.1 511.1 285.9 513.2 285.7 515.3 283.3 517.4 284.8 519.5 282.1 521.6 283.2 523.7 282.3 525.8 282.5 527.9 282.3 530 280.6 532.1 281.7 534.2 279.8 536.3 280.3 538.4 281.5 540.5 278 M437.5 308 439.6 308.6 441.7 306.9 443.8 308.9 445.9 304.2 448 303.9 450.1 304.4 452.2 303.1 454.3 302.3 456.4 300.6 458.5 301.6 460.6 300.1 462.7 300.3 464.8 296.2 466.9 297.1 469 296.2 471.1 296 473.2 293.5 475.3 295 477.4 291.8 479.5 294.1 481.6 293.3 483.7 290 485.8 292.1 487.9 288.7 490.1 291.2 492.2 288.3 494.3 289.9 496.4 289.3 498.5 287 500.6 286.1 502.7 288.4 504.8 286.6 506.9 287.8 509 286.1 511.1 289.2 513.2 285.9 515.3 287.3 517.4 285.1 519.5 284.4 521.6 284.5 523.7 282.4 525.8 282.3 527.9 284.3 530 281.6 532.1 279.7 534.2 281.4 536.3 279.1 538.4 279.6 540.5 280.4 M437.5 310.3 439.6 306.9 441.7 309.3 443.8 307.9 445.9 304.3 448 305.8 450.1 302.7 452.2 303.3 454.3 301.2 456.4 301.3 458.5 298.6 460.6 300 462.7 298.2 464.8 298.1 466.9 296.4 469 298.1 471.1 299.8 473.2 296.6 475.3 296.3 477.4 294.6 479.5 295 481.6 293.8 483.7 292.7 485.8 293.1 487.9 292.6 490.1 293 492.2 291.9 494.3 292.6 496.4 293.5 498.5 292.4 500.6 290.6 502.7 288.7 504.8 290.1 506.9 290.2 509 290.8 511.1 289.3 513.2 292.3 515.3 288.2 517.4 289.1 519.5 286.8 521.6 286.5 523.7 286.8 525.8 286.8 527.9 287.2 530 282.2 532.1 287 534.2 287.1 536.3 286.6 538.4 285.4 540.5 283.9 M437.5 309.8 439.6 306.4 441.7 306.4 443.8 302.5 445.9 303.5 448 302.3 450.1 301.4 452.2 302.7 454.3 300.5 456.4 299.9 458.5 299.1 460.6 297.9 462.7 297.4 464.8 296.5 466.9 295.9 469 295.7 471.1 295.2 473.2 292.8 475.3 294.5 477.4 293.8 479.5 294.1 481.6 291.8 483.7 291.5 485.8 293.2 487.9 291.3 490.1 292.4 492.2 290.5 494.3 289.6 496.4 288.7 498.5 289.3 500.6 289 502.7 287.9 504.8 290.5 506.9 288.6 509 287.3 511.1 290 513.2 288.5 515.3 286.3 517.4 285.4 519.5 286.1 521.6 286.9 523.7 284 525.8 286.7 527.9 284.5 530 285.4 532.1 284.1 534.2 284.5 536.3 284.4 538.4 285 540.5 282.4 M437.5 307.7 439.6 308.1 441.7 308.3 443.8 305.4 445.9 307.2 448 304.4 450.1 303.8 452.2 302.4 454.3 302.4 456.4 300.3 458.5 300.4 460.6 300.8 462.7 300.2 464.8 296.2 466.9 298.6 469 295.8 471.1 295.9 473.2 295 475.3 294.6 477.4 292.8 479.5 293.6 481.6 293.5 483.7 291.3 485.8 291.2 487.9 291.6 490.1 291.5 492.2 290.2 494.3 289.4 496.4 289 498.5 287.7 500.6 288.1 502.7 287 504.8 286.4 506.9 283.7 509 283.8 511.1 285.7 513.2 285.9 515.3 285.2 517.4 284.2 519.5 283.2 521.6 284 523.7 282.3 525.8 282.2 527.9 283.7 530 279.6 532.1 279.9 534.2 279.9 536.3 277.3 538.4 277.5 540.5 279.6 M437.5 307.8 439.6 307.9 441.7 306.6 443.8 305.8 445.9 306.8 448 304.7 450.1 304.2 452.2 302.7 454.3 301.9 456.4 300 458.5 299.9 460.6 298.6 462.7 300.4 464.8 298.1 466.9 298.7 469 298.5 471.1 297.4 473.2 294.8 475.3 297.1 477.4 292.5 479.5 296.1 481.6 290.8 483.7 292.2 485.8 292.8 487.9 291.5 490.1 289.4 492.2 289.7 494.3 291.4 496.4 288.8 498.5 291.3 500.6 291.5 502.7 290.9 504.8 289.3 506.9 288.7 509 288 511.1 291.3 513.2 289.2 515.3 288.3 517.4 287.5 519.5 287.9 521.6 283.8 523.7 286.7 525.8 284.6 527.9 282.2 530 285.6 532.1 283.1 534.2 284.4 536.3 282.1 538.4 282.4 540.5 284.5 M437.5 308 439.6 308.8 441.7 307.9 443.8 305.1 445.9 307.3 448 304.4 450.1 304.6 452.2 304.2 454.3 299.4 456.4 300.7 458.5 300.7 460.6 300.4 462.7 299.2 464.8 299.3 466.9 295.8 469 295.7 471.1 297 473.2 293.3 475.3 294.7 477.4 294.3 479.5 294.7 481.6 294.6 483.7 293.2 485.8 291.3 487.9 290.5 490.1 292 492.2 291.9 494.3 291 496.4 290.3 498.5 289.9 500.6 287.9 502.7 289 504.8 289.4 506.9 287.2 509 288.6 511.1 288.4 513.2 289.7 515.3 286.5 517.4 285.7 519.5 284.5 521.6 284.3 523.7 283.4 525.8 282.7 527.9 285.2 530 283.9 532.1 283.8 534.2 281 536.3 279.9 538.4 279.7 540.5 283.2 M437.5 308.4 439.6 306.3 441.7 307 443.8 306.6 445.9 305.7 448 306 450.1 304.9 452.2 304.9 454.3 303.2 456.4 302.1 458.5 302.4 460.6 302.5 462.7 300.4 464.8 299.4 466.9 301.4 469 298.5 471.1 299 473.2 297.4 475.3 297.5 477.4 298.5 479.5 298.6 481.6 294.6 483.7 294 485.8 291.2 487.9 295.1 490.1 296 492.2 294.1 494.3 292.9 496.4 293.9 498.5 291.3 500.6 293 502.7 293.4 504.8 292.9 506.9 292.2 509 290 511.1 289.8 513.2 288.8 515.3 291.6 517.4 290.5 519.5 288.8 521.6 288.3 523.7 288.2 525.8 287.2 527.9 288.5 530 288.4 532.1 288.2 534.2 287.5 536.3 284.2 538.4 286.6 540.5 285 M437.5 309 439.6 307.8 441.7 306.6 443.8 304.5 445.9 306.2 448 305.9 450.1 302.6 452.2 300.9 454.3 301.9 456.4 300.2 458.5 300 460.6 299.7 462.7 296.8 464.8 298.8 466.9 296.2 469 295.3 471.1 295.8 473.2 297.3 475.3 294.3 477.4 295.1 479.5 292.8 481.6 293.9 483.7 293 485.8 293.3 487.9 291.5 490.1 291.1 492.2 288.4 494.3 290.5 496.4 290.6 498.5 289.6 500.6 289.2 502.7 289.1 504.8 289 506.9 286.5 509 286.9 511.1 286.8 513.2 286.4 515.3 284.5 517.4 283.1 519.5 285.5 521.6 285.5 523.7 286.2 525.8 284.7 527.9 282.7 530 283.8 532.1 282.6 534.2 281.5 536.3 280.1 538.4 279.2 540.5 279.9 M437.5 292.9 439.6 284.5 441.7 281.9 443.8 281.1 445.9 280.5 448 279.5 450.1 278.9 452.2 274.8 454.3 272.7 456.4 275.4 458.5 272.2 460.6 269.6 462.7 270.7 464.8 270.6 466.9 269.2 469 268 471.1 270.1 473.2 266.9 475.3 267.8 477.4 267.2 479.5 265.9 481.6 268.5 483.7 263.1 485.8 267.5 487.9 262.2 490.1 262.5 492.2 262.9 494.3 263.4 496.4 262.3 498.5 260.4 500.6 259.8 502.7 261.1 504.8 260.9 506.9 257.7 509 258.9 511.1 257.8 513.2 256.6 515.3 254.3 517.4 254.1 519.5 255.5 521.6 251 523.7 253.2 525.8 254.1 527.9 251.1 530 254.6 532.1 253.9 534.2 250.2 536.3 250.9 538.4 250.6 540.5 250 M437.5 293.7 439.6 290.4 441.7 286.9 443.8 285 445.9 285.4 448 281.1 450.1 279.5 452.2 280.2 454.3 278.8 456.4 278.4 458.5 278.2 460.6 279.7 462.7 274.3 464.8 273.7 466.9 274.2 469 271.9 471.1 272.3 473.2 274.2 475.3 272.1 477.4 271.5 479.5 272.4 481.6 268.2 483.7 270 485.8 269.6 487.9 269.6 490.1 267.6 492.2 268.2 494.3 268.1 496.4 269 498.5 267 500.6 268.1 502.7 264.5 504.8 267 506.9 267 509 264.7 511.1 265 513.2 264.9 515.3 265 517.4 265.8 519.5 264.3 521.6 263.6 523.7 263.5 525.8 263.8 527.9 264.3 530 263.4 532.1 262.4 534.2 262.4 536.3 261.7 538.4 261.3 540.5 261.2 M437.5 300.4 439.6 299.2 441.7 297.1 443.8 293.4 445.9 293.7 448 290.1 450.1 290.4 452.2 292.2 454.3 291.7 456.4 291.4 458.5 287 460.6 287.6 462.7 286.6 464.8 287.6 466.9 286.2 469 285.8 471.1 285.9 473.2 284.2 475.3 285.3 477.4 283.2 479.5 284.3 481.6 282.8 483.7 282.4 485.8 280.5 487.9 279.7 490.1 279.2 492.2 281.3 494.3 278 496.4 281.7 498.5 279.5 500.6 278 502.7 279.7 504.8 277.5 506.9 278.5 509 277.7 511.1 279.2 513.2 278.3 515.3 278.1 517.4 276.1 519.5 278.3 521.6 276.6 523.7 276.4 525.8 276.4 527.9 275.6 530 273.3 532.1 275.5 534.2 272.6 536.3 274.5 538.4 273.4 540.5 273.2 M437.5 307.3 439.6 305.8 441.7 299.9 443.8 298.3 445.9 298.9 448 298.1 450.1 295.4 452.2 293.8 454.3 290.2 456.4 293.6 458.5 289 460.6 289.6 462.7 288.4 464.8 286 466.9 287.1 469 287 471.1 284.3 473.2 283.4 475.3 283.2 477.4 283 479.5 281.6 481.6 278.6 483.7 277.8 485.8 277.3 487.9 274.1 490.1 275 492.2 275.4 494.3 274.1 496.4 273.2 498.5 274.3 500.6 273.1 502.7 272.9 504.8 270.9 506.9 269.9 509 268.5 511.1 269 513.2 265.7 515.3 266.3 517.4 267.2 519.5 266.9 521.6 265.5 523.7 263.9 525.8 265.2 527.9 263.1 530 263.1 532.1 261.5 534.2 263.9 536.3 262.5 538.4 259.3 540.5 258.3 M437.5 292.8 439.6 288.8 441.7 282.8 443.8 281.3 445.9 282.6 448 279.4 450.1 279.7 452.2 277.2 454.3 276.7 456.4 275.9 458.5 275 460.6 275.8 462.7 273.9 464.8 274.3 466.9 274.6 469 276.2 471.1 271.3 473.2 273.7 475.3 273.7 477.4 272.2 479.5 273.3 481.6 272.7 483.7 272.8 485.8 271.6 487.9 271.6 490.1 271.6 492.2 270.6 494.3 272 496.4 270.9 498.5 270.9 500.6 270.3 502.7 273.1 504.8 270.7 506.9 270.3 509 272.1 511.1 270.3 513.2 271 515.3 270.3 517.4 270.7 519.5 270.6 521.6 267.8 523.7 271.6 525.8 271.2 527.9 268.3 530 270.9 532.1 269.2 534.2 269.2 536.3 270.3 538.4 269.8 540.5 269.6 M437.5 303 439.6 301.5 441.7 300.3 443.8 294.7 445.9 296 448 293.9 450.1 293.3 452.2 292.9 454.3 292.5 456.4 291.1 458.5 290.1 460.6 291.1 462.7 289.2 464.8 288.6 466.9 289.3 469 286 471.1 285.9 473.2 287.8 475.3 285.2 477.4 282.7 479.5 284.8 481.6 284.8 483.7 282.1 485.8 281 487.9 281.9 490.1 282.2 492.2 281 494.3 280.6 496.4 281.9 498.5 281.6 500.6 279.1 502.7 279.3 504.8 280 506.9 279.2 509 279.7 511.1 279.5 513.2 280.6 515.3 278.5 517.4 278.7 519.5 275.8 521.6 276.2 523.7 277.9 525.8 274.5 527.9 277.3 530 275.9 532.1 275 534.2 274.2 536.3 272.5 538.4 271.9 540.5 271.9" fill="none" stroke="#c2c2c2" stroke-width="0.5"/>
<path d="M517.4 287.1 523.8 288.3 529.3 284.1 534.9 289.6 540.6 293.9" fill="none" stroke="#c0c0c0" stroke-width="0.5"/>
<path d="M437.6 282.3 439.3 278.2 442.6 274.9 446.8 265.7 449.3 266.6 452.6 268.2 455.9 266.6 459.3 262.4 462.6 258.3 465.1 254.1 467.6 256.6 471.7 257.4 475 252.4 477.5 253.3 480 250.8 483.3 250 485.8 247.5 488 245.8 490.5 241.6 494.6 237.5 499.6 236.6 503 235 504.6 241.6 507.1 237.5 509.6 238.3 512.9 236.6 517.9 235 521.2 228.3 524.5 231.6 527.9 233.3 530.4 235.8 532 228.3 534.5 235.8 537.8 232.5 540.6 230.8" fill="none" stroke="#3b87bd" stroke-width="1.0" stroke-linejoin="round"/>
</g>
<rect x="432.4" y="223.5" width="113.2" height="90.7" fill="none" stroke="#999" stroke-width="0.65"/>
<text transform="translate(437.55 320.30) scale(1 1.1)" text-anchor="middle" class="t">0</text>
<text transform="translate(448.05 320.30) scale(1 1.1)" text-anchor="middle" class="t">5</text>
<text transform="translate(458.55 320.30) scale(1 1.1)" text-anchor="middle" class="t">10</text>
<text transform="translate(469.05 320.30) scale(1 1.1)" text-anchor="middle" class="t">15</text>
<text transform="translate(479.55 320.30) scale(1 1.1)" text-anchor="middle" class="t">20</text>
<text transform="translate(490.05 320.30) scale(1 1.1)" text-anchor="middle" class="t">25</text>
<text transform="translate(500.55 320.30) scale(1 1.1)" text-anchor="middle" class="t">30</text>
<text transform="translate(511.05 320.30) scale(1 1.1)" text-anchor="middle" class="t">35</text>
<text transform="translate(521.55 320.30) scale(1 1.1)" text-anchor="middle" class="t">40</text>
<text transform="translate(532.05 320.30) scale(1 1.1)" text-anchor="middle" class="t">45</text>
<text transform="translate(542.55 320.30) scale(1 1.1)" text-anchor="middle" class="t">50</text>
<text transform="translate(430.30 308.60) scale(1 1.1)" text-anchor="end" class="t">0.48</text>
<text transform="translate(430.30 296.27) scale(1 1.1)" text-anchor="end" class="t">0.50</text>
<text transform="translate(430.30 283.93) scale(1 1.1)" text-anchor="end" class="t">0.52</text>
<text transform="translate(430.30 271.60) scale(1 1.1)" text-anchor="end" class="t">0.54</text>
<text transform="translate(430.30 259.27) scale(1 1.1)" text-anchor="end" class="t">0.56</text>
<text transform="translate(430.30 246.93) scale(1 1.1)" text-anchor="end" class="t">0.58</text>
<text transform="translate(430.30 234.60) scale(1 1.1)" text-anchor="end" class="t">0.60</text>
<path d="M437.55 314.15v1.1M448.05 314.15v1.1M458.55 314.15v1.1M469.05 314.15v1.1M479.55 314.15v1.1M490.05 314.15v1.1M500.55 314.15v1.1M511.05 314.15v1.1M521.55 314.15v1.1M532.05 314.15v1.1M542.55 314.15v1.1M432.40 306.40h-1.1M432.40 294.07h-1.1M432.40 281.73h-1.1M432.40 269.40h-1.1M432.40 257.07h-1.1M432.40 244.73h-1.1M432.40 232.40h-1.1" stroke="#777" stroke-width="0.5" fill="none"/>
<text transform="translate(489.00 325.70) scale(1 1.1)" text-anchor="middle" class="l">Epoch</text>
<text transform="translate(417.35 269.22) rotate(-90)" text-anchor="middle" class="l">CNN-HSSCA Train Accuracy B</text>
<rect x="435.00" y="225.30" width="47.00" height="15.6" rx="1" fill="#fff" fill-opacity="0.8" stroke="#e0e0e0" stroke-width="0.4"/>
<path d="M436.40 229.30h9.8" stroke="#3b87bd" stroke-width="1.0"/>
<path d="M436.40 236.10h9.8" stroke="#c8c8c8" stroke-width="0.85"/>
<text x="449.60" y="231.00" class="lg">correct key</text>
<text x="449.60" y="237.80" class="lg">wrong key</text>
</svg>
</body></html>
